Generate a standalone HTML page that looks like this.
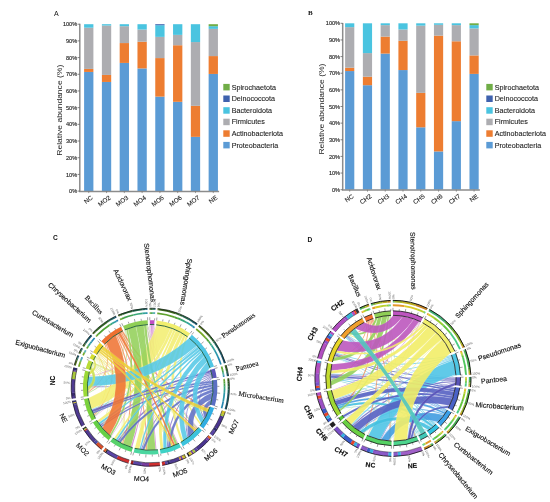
<!DOCTYPE html>
<html lang="en"><head><meta charset="utf-8"><title>Figure</title>
<style>html,body{margin:0;padding:0;background:#fff}svg{display:block}text{font-family:"Liberation Sans",Arial,sans-serif}text.serif{font-family:"Liberation Serif","Times New Roman",serif}</style>
</head><body>
<svg width="550" height="502" viewBox="0 0 550 502">
<rect width="550" height="502" fill="#fff"/>
<text x="56.4" y="15.8" font-size="7" text-anchor="middle" fill="#111">A</text>
<text class="serif" x="310.3" y="15.2" font-size="7" font-weight="bold" text-anchor="middle" fill="#111">B</text>
<text x="55.3" y="240.4" font-size="6.6" font-weight="bold" text-anchor="middle" fill="#111">C</text>
<text x="309.9" y="242.1" font-size="6.6" font-weight="bold" text-anchor="middle" fill="#111">D</text>
<g id="panelA">
<rect x="84.10" y="71.93" width="9.30" height="119.17" fill="#5b9bd5"/>
<rect x="84.10" y="68.93" width="9.30" height="3.00" fill="#ed7d31"/>
<rect x="84.10" y="27.70" width="9.30" height="41.22" fill="#adadb1"/>
<rect x="84.10" y="24.20" width="9.30" height="3.50" fill="#4ac4e0"/>
<rect x="101.89" y="81.95" width="9.30" height="109.15" fill="#5b9bd5"/>
<rect x="101.89" y="74.94" width="9.30" height="7.01" fill="#ed7d31"/>
<rect x="101.89" y="25.54" width="9.30" height="49.40" fill="#adadb1"/>
<rect x="101.89" y="24.20" width="9.30" height="1.34" fill="#4ac4e0"/>
<rect x="119.68" y="62.92" width="9.30" height="128.18" fill="#5b9bd5"/>
<rect x="119.68" y="43.06" width="9.30" height="19.86" fill="#ed7d31"/>
<rect x="119.68" y="26.20" width="9.30" height="16.86" fill="#adadb1"/>
<rect x="119.68" y="24.20" width="9.30" height="2.00" fill="#4ac4e0"/>
<rect x="137.47" y="68.43" width="9.30" height="122.67" fill="#5b9bd5"/>
<rect x="137.47" y="41.72" width="9.30" height="26.70" fill="#ed7d31"/>
<rect x="137.47" y="29.54" width="9.30" height="12.18" fill="#adadb1"/>
<rect x="137.47" y="24.20" width="9.30" height="5.34" fill="#4ac4e0"/>
<rect x="155.26" y="96.63" width="9.30" height="94.47" fill="#5b9bd5"/>
<rect x="155.26" y="58.08" width="9.30" height="38.55" fill="#ed7d31"/>
<rect x="155.26" y="36.88" width="9.30" height="21.20" fill="#adadb1"/>
<rect x="155.26" y="25.20" width="9.30" height="11.68" fill="#4ac4e0"/>
<rect x="155.26" y="24.20" width="9.30" height="1.00" fill="#3f62ae"/>
<rect x="173.05" y="101.81" width="9.30" height="89.29" fill="#5b9bd5"/>
<rect x="173.05" y="45.23" width="9.30" height="56.58" fill="#ed7d31"/>
<rect x="173.05" y="34.88" width="9.30" height="10.35" fill="#adadb1"/>
<rect x="173.05" y="24.20" width="9.30" height="10.68" fill="#4ac4e0"/>
<rect x="190.84" y="136.86" width="9.30" height="54.24" fill="#5b9bd5"/>
<rect x="190.84" y="105.81" width="9.30" height="31.04" fill="#ed7d31"/>
<rect x="190.84" y="42.06" width="9.30" height="63.76" fill="#adadb1"/>
<rect x="190.84" y="24.20" width="9.30" height="17.86" fill="#4ac4e0"/>
<rect x="208.63" y="73.94" width="9.30" height="117.16" fill="#5b9bd5"/>
<rect x="208.63" y="56.08" width="9.30" height="17.86" fill="#ed7d31"/>
<rect x="208.63" y="28.87" width="9.30" height="27.20" fill="#adadb1"/>
<rect x="208.63" y="26.20" width="9.30" height="2.67" fill="#4ac4e0"/>
<rect x="208.63" y="24.20" width="9.30" height="2.00" fill="#70ad47"/>
<path d="M79.80 23.80V191.40H219.13" fill="none" stroke="#8c8c8c" stroke-width="1.5"/>
<path d="M77.60 191.10H79.80" stroke="#666" stroke-width="0.8"/>
<text x="77.20" y="193.20" font-size="5.6" text-anchor="end" fill="#1c1c1c" stroke="#1c1c1c" stroke-width="0.12">0%</text>
<path d="M77.60 174.41H79.80" stroke="#666" stroke-width="0.8"/>
<text x="77.20" y="176.51" font-size="5.6" text-anchor="end" fill="#1c1c1c" stroke="#1c1c1c" stroke-width="0.12">10%</text>
<path d="M77.60 157.72H79.80" stroke="#666" stroke-width="0.8"/>
<text x="77.20" y="159.82" font-size="5.6" text-anchor="end" fill="#1c1c1c" stroke="#1c1c1c" stroke-width="0.12">20%</text>
<path d="M77.60 141.03H79.80" stroke="#666" stroke-width="0.8"/>
<text x="77.20" y="143.13" font-size="5.6" text-anchor="end" fill="#1c1c1c" stroke="#1c1c1c" stroke-width="0.12">30%</text>
<path d="M77.60 124.34H79.80" stroke="#666" stroke-width="0.8"/>
<text x="77.20" y="126.44" font-size="5.6" text-anchor="end" fill="#1c1c1c" stroke="#1c1c1c" stroke-width="0.12">40%</text>
<path d="M77.60 107.65H79.80" stroke="#666" stroke-width="0.8"/>
<text x="77.20" y="109.75" font-size="5.6" text-anchor="end" fill="#1c1c1c" stroke="#1c1c1c" stroke-width="0.12">50%</text>
<path d="M77.60 90.96H79.80" stroke="#666" stroke-width="0.8"/>
<text x="77.20" y="93.06" font-size="5.6" text-anchor="end" fill="#1c1c1c" stroke="#1c1c1c" stroke-width="0.12">60%</text>
<path d="M77.60 74.27H79.80" stroke="#666" stroke-width="0.8"/>
<text x="77.20" y="76.37" font-size="5.6" text-anchor="end" fill="#1c1c1c" stroke="#1c1c1c" stroke-width="0.12">70%</text>
<path d="M77.60 57.58H79.80" stroke="#666" stroke-width="0.8"/>
<text x="77.20" y="59.68" font-size="5.6" text-anchor="end" fill="#1c1c1c" stroke="#1c1c1c" stroke-width="0.12">80%</text>
<path d="M77.60 40.89H79.80" stroke="#666" stroke-width="0.8"/>
<text x="77.20" y="42.99" font-size="5.6" text-anchor="end" fill="#1c1c1c" stroke="#1c1c1c" stroke-width="0.12">90%</text>
<path d="M77.60 24.20H79.80" stroke="#666" stroke-width="0.8"/>
<text x="77.20" y="26.30" font-size="5.6" text-anchor="end" fill="#1c1c1c" stroke="#1c1c1c" stroke-width="0.12">100%</text>
<path d="M88.75 191.10v2" stroke="#777" stroke-width="0.7"/>
<text transform="translate(92.05 196.90) rotate(-36)" font-size="6.3" text-anchor="end" fill="#1c1c1c" stroke="#1c1c1c" stroke-width="0.1" dy="2.1">NC</text>
<path d="M106.54 191.10v2" stroke="#777" stroke-width="0.7"/>
<text transform="translate(109.84 196.90) rotate(-36)" font-size="6.3" text-anchor="end" fill="#1c1c1c" stroke="#1c1c1c" stroke-width="0.1" dy="2.1">MO2</text>
<path d="M124.33 191.10v2" stroke="#777" stroke-width="0.7"/>
<text transform="translate(127.63 196.90) rotate(-36)" font-size="6.3" text-anchor="end" fill="#1c1c1c" stroke="#1c1c1c" stroke-width="0.1" dy="2.1">MO3</text>
<path d="M142.12 191.10v2" stroke="#777" stroke-width="0.7"/>
<text transform="translate(145.42 196.90) rotate(-36)" font-size="6.3" text-anchor="end" fill="#1c1c1c" stroke="#1c1c1c" stroke-width="0.1" dy="2.1">MO4</text>
<path d="M159.91 191.10v2" stroke="#777" stroke-width="0.7"/>
<text transform="translate(163.21 196.90) rotate(-36)" font-size="6.3" text-anchor="end" fill="#1c1c1c" stroke="#1c1c1c" stroke-width="0.1" dy="2.1">MO5</text>
<path d="M177.70 191.10v2" stroke="#777" stroke-width="0.7"/>
<text transform="translate(181.00 196.90) rotate(-36)" font-size="6.3" text-anchor="end" fill="#1c1c1c" stroke="#1c1c1c" stroke-width="0.1" dy="2.1">MO6</text>
<path d="M195.49 191.10v2" stroke="#777" stroke-width="0.7"/>
<text transform="translate(198.79 196.90) rotate(-36)" font-size="6.3" text-anchor="end" fill="#1c1c1c" stroke="#1c1c1c" stroke-width="0.1" dy="2.1">MO7</text>
<path d="M213.28 191.10v2" stroke="#777" stroke-width="0.7"/>
<text transform="translate(216.58 196.90) rotate(-36)" font-size="6.3" text-anchor="end" fill="#1c1c1c" stroke="#1c1c1c" stroke-width="0.1" dy="2.1">NE</text>
<text transform="translate(59.30 110.25) rotate(-90)" font-size="6.6" text-anchor="middle" textLength="91" lengthAdjust="spacingAndGlyphs" fill="#222" dy="2.3">Relative abundance (%)</text>
<rect x="223.30" y="83.90" width="6.4" height="6.5" fill="#70ad47"/>
<text x="231.70" y="89.55" font-size="7.5" textLength="44.20" lengthAdjust="spacingAndGlyphs" fill="#1c1c1c" stroke="#1c1c1c" stroke-width="0.1">Spirochaetota</text>
<rect x="223.30" y="95.50" width="6.4" height="6.5" fill="#3f62ae"/>
<text x="231.70" y="101.15" font-size="7.5" textLength="43.40" lengthAdjust="spacingAndGlyphs" fill="#1c1c1c" stroke="#1c1c1c" stroke-width="0.1">Deinococcota</text>
<rect x="223.30" y="107.20" width="6.4" height="6.5" fill="#4ac4e0"/>
<text x="231.70" y="112.85" font-size="7.5" textLength="40.21" lengthAdjust="spacingAndGlyphs" fill="#1c1c1c" stroke="#1c1c1c" stroke-width="0.1">Bacteroidota</text>
<rect x="223.30" y="118.70" width="6.4" height="6.5" fill="#adadb1"/>
<text x="231.70" y="124.35" font-size="7.5" textLength="33.03" lengthAdjust="spacingAndGlyphs" fill="#1c1c1c" stroke="#1c1c1c" stroke-width="0.1">Firmicutes</text>
<rect x="223.30" y="130.30" width="6.4" height="6.5" fill="#ed7d31"/>
<text x="231.70" y="135.95" font-size="7.5" textLength="51.36" lengthAdjust="spacingAndGlyphs" fill="#1c1c1c" stroke="#1c1c1c" stroke-width="0.1">Actinobacteriota</text>
<rect x="223.30" y="141.90" width="6.4" height="6.5" fill="#5b9bd5"/>
<text x="231.70" y="147.55" font-size="7.5" textLength="46.58" lengthAdjust="spacingAndGlyphs" fill="#1c1c1c" stroke="#1c1c1c" stroke-width="0.1">Proteobacteria</text>
</g>
<g id="panelB">
<rect x="345.10" y="71.06" width="9.20" height="118.64" fill="#5b9bd5"/>
<rect x="345.10" y="67.73" width="9.20" height="3.33" fill="#ed7d31"/>
<rect x="345.10" y="27.13" width="9.20" height="40.60" fill="#adadb1"/>
<rect x="345.10" y="23.30" width="9.20" height="3.83" fill="#4ac4e0"/>
<rect x="362.87" y="85.20" width="9.20" height="104.50" fill="#5b9bd5"/>
<rect x="362.87" y="76.71" width="9.20" height="8.49" fill="#ed7d31"/>
<rect x="362.87" y="53.09" width="9.20" height="23.63" fill="#adadb1"/>
<rect x="362.87" y="23.30" width="9.20" height="29.79" fill="#4ac4e0"/>
<rect x="380.64" y="53.58" width="9.20" height="136.12" fill="#5b9bd5"/>
<rect x="380.64" y="36.61" width="9.20" height="16.97" fill="#ed7d31"/>
<rect x="380.64" y="25.13" width="9.20" height="11.48" fill="#adadb1"/>
<rect x="380.64" y="23.30" width="9.20" height="1.83" fill="#4ac4e0"/>
<rect x="398.41" y="70.06" width="9.20" height="119.64" fill="#5b9bd5"/>
<rect x="398.41" y="40.77" width="9.20" height="29.29" fill="#ed7d31"/>
<rect x="398.41" y="29.46" width="9.20" height="11.32" fill="#adadb1"/>
<rect x="398.41" y="23.30" width="9.20" height="6.16" fill="#4ac4e0"/>
<rect x="416.18" y="127.30" width="9.20" height="62.40" fill="#5b9bd5"/>
<rect x="416.18" y="92.86" width="9.20" height="34.44" fill="#ed7d31"/>
<rect x="416.18" y="25.63" width="9.20" height="67.23" fill="#adadb1"/>
<rect x="416.18" y="23.30" width="9.20" height="2.33" fill="#4ac4e0"/>
<rect x="433.95" y="151.43" width="9.20" height="38.27" fill="#5b9bd5"/>
<rect x="433.95" y="35.61" width="9.20" height="115.81" fill="#ed7d31"/>
<rect x="433.95" y="24.80" width="9.20" height="10.82" fill="#adadb1"/>
<rect x="433.95" y="23.30" width="9.20" height="1.50" fill="#4ac4e0"/>
<rect x="451.72" y="121.14" width="9.20" height="68.56" fill="#5b9bd5"/>
<rect x="451.72" y="41.27" width="9.20" height="79.87" fill="#ed7d31"/>
<rect x="451.72" y="25.13" width="9.20" height="16.14" fill="#adadb1"/>
<rect x="451.72" y="23.30" width="9.20" height="1.83" fill="#4ac4e0"/>
<rect x="469.49" y="73.89" width="9.20" height="115.81" fill="#5b9bd5"/>
<rect x="469.49" y="55.42" width="9.20" height="18.47" fill="#ed7d31"/>
<rect x="469.49" y="28.46" width="9.20" height="26.96" fill="#adadb1"/>
<rect x="469.49" y="25.13" width="9.20" height="3.33" fill="#4ac4e0"/>
<rect x="469.49" y="23.30" width="9.20" height="1.83" fill="#70ad47"/>
<path d="M342.70 22.90V190.00H479.89" fill="none" stroke="#8c8c8c" stroke-width="1.5"/>
<path d="M340.50 189.70H342.70" stroke="#666" stroke-width="0.8"/>
<text x="340.10" y="191.80" font-size="5.6" text-anchor="end" fill="#1c1c1c" stroke="#1c1c1c" stroke-width="0.12">0%</text>
<path d="M340.50 173.06H342.70" stroke="#666" stroke-width="0.8"/>
<text x="340.10" y="175.16" font-size="5.6" text-anchor="end" fill="#1c1c1c" stroke="#1c1c1c" stroke-width="0.12">10%</text>
<path d="M340.50 156.42H342.70" stroke="#666" stroke-width="0.8"/>
<text x="340.10" y="158.52" font-size="5.6" text-anchor="end" fill="#1c1c1c" stroke="#1c1c1c" stroke-width="0.12">20%</text>
<path d="M340.50 139.78H342.70" stroke="#666" stroke-width="0.8"/>
<text x="340.10" y="141.88" font-size="5.6" text-anchor="end" fill="#1c1c1c" stroke="#1c1c1c" stroke-width="0.12">30%</text>
<path d="M340.50 123.14H342.70" stroke="#666" stroke-width="0.8"/>
<text x="340.10" y="125.24" font-size="5.6" text-anchor="end" fill="#1c1c1c" stroke="#1c1c1c" stroke-width="0.12">40%</text>
<path d="M340.50 106.50H342.70" stroke="#666" stroke-width="0.8"/>
<text x="340.10" y="108.60" font-size="5.6" text-anchor="end" fill="#1c1c1c" stroke="#1c1c1c" stroke-width="0.12">50%</text>
<path d="M340.50 89.86H342.70" stroke="#666" stroke-width="0.8"/>
<text x="340.10" y="91.96" font-size="5.6" text-anchor="end" fill="#1c1c1c" stroke="#1c1c1c" stroke-width="0.12">60%</text>
<path d="M340.50 73.22H342.70" stroke="#666" stroke-width="0.8"/>
<text x="340.10" y="75.32" font-size="5.6" text-anchor="end" fill="#1c1c1c" stroke="#1c1c1c" stroke-width="0.12">70%</text>
<path d="M340.50 56.58H342.70" stroke="#666" stroke-width="0.8"/>
<text x="340.10" y="58.68" font-size="5.6" text-anchor="end" fill="#1c1c1c" stroke="#1c1c1c" stroke-width="0.12">80%</text>
<path d="M340.50 39.94H342.70" stroke="#666" stroke-width="0.8"/>
<text x="340.10" y="42.04" font-size="5.6" text-anchor="end" fill="#1c1c1c" stroke="#1c1c1c" stroke-width="0.12">90%</text>
<path d="M340.50 23.30H342.70" stroke="#666" stroke-width="0.8"/>
<text x="340.10" y="25.40" font-size="5.6" text-anchor="end" fill="#1c1c1c" stroke="#1c1c1c" stroke-width="0.12">100%</text>
<path d="M349.70 189.70v2" stroke="#777" stroke-width="0.7"/>
<text transform="translate(353.00 195.50) rotate(-36)" font-size="6.3" text-anchor="end" fill="#1c1c1c" stroke="#1c1c1c" stroke-width="0.1" dy="2.1">NC</text>
<path d="M367.47 189.70v2" stroke="#777" stroke-width="0.7"/>
<text transform="translate(370.77 195.50) rotate(-36)" font-size="6.3" text-anchor="end" fill="#1c1c1c" stroke="#1c1c1c" stroke-width="0.1" dy="2.1">CH2</text>
<path d="M385.24 189.70v2" stroke="#777" stroke-width="0.7"/>
<text transform="translate(388.54 195.50) rotate(-36)" font-size="6.3" text-anchor="end" fill="#1c1c1c" stroke="#1c1c1c" stroke-width="0.1" dy="2.1">CH3</text>
<path d="M403.01 189.70v2" stroke="#777" stroke-width="0.7"/>
<text transform="translate(406.31 195.50) rotate(-36)" font-size="6.3" text-anchor="end" fill="#1c1c1c" stroke="#1c1c1c" stroke-width="0.1" dy="2.1">CH4</text>
<path d="M420.78 189.70v2" stroke="#777" stroke-width="0.7"/>
<text transform="translate(424.08 195.50) rotate(-36)" font-size="6.3" text-anchor="end" fill="#1c1c1c" stroke="#1c1c1c" stroke-width="0.1" dy="2.1">CH5</text>
<path d="M438.55 189.70v2" stroke="#777" stroke-width="0.7"/>
<text transform="translate(441.85 195.50) rotate(-36)" font-size="6.3" text-anchor="end" fill="#1c1c1c" stroke="#1c1c1c" stroke-width="0.1" dy="2.1">CH6</text>
<path d="M456.32 189.70v2" stroke="#777" stroke-width="0.7"/>
<text transform="translate(459.62 195.50) rotate(-36)" font-size="6.3" text-anchor="end" fill="#1c1c1c" stroke="#1c1c1c" stroke-width="0.1" dy="2.1">CH7</text>
<path d="M474.09 189.70v2" stroke="#777" stroke-width="0.7"/>
<text transform="translate(477.39 195.50) rotate(-36)" font-size="6.3" text-anchor="end" fill="#1c1c1c" stroke="#1c1c1c" stroke-width="0.1" dy="2.1">NE</text>
<text transform="translate(321.50 109.10) rotate(-90)" font-size="6.6" text-anchor="middle" textLength="91" lengthAdjust="spacingAndGlyphs" fill="#222" dy="2.3">Relative abundance (%)</text>
<rect x="486.30" y="83.90" width="6.4" height="6.5" fill="#70ad47"/>
<text x="494.70" y="89.55" font-size="7.5" textLength="44.20" lengthAdjust="spacingAndGlyphs" fill="#1c1c1c" stroke="#1c1c1c" stroke-width="0.1">Spirochaetota</text>
<rect x="486.30" y="95.50" width="6.4" height="6.5" fill="#3f62ae"/>
<text x="494.70" y="101.15" font-size="7.5" textLength="43.40" lengthAdjust="spacingAndGlyphs" fill="#1c1c1c" stroke="#1c1c1c" stroke-width="0.1">Deinococcota</text>
<rect x="486.30" y="107.20" width="6.4" height="6.5" fill="#4ac4e0"/>
<text x="494.70" y="112.85" font-size="7.5" textLength="40.21" lengthAdjust="spacingAndGlyphs" fill="#1c1c1c" stroke="#1c1c1c" stroke-width="0.1">Bacteroidota</text>
<rect x="486.30" y="118.70" width="6.4" height="6.5" fill="#adadb1"/>
<text x="494.70" y="124.35" font-size="7.5" textLength="33.03" lengthAdjust="spacingAndGlyphs" fill="#1c1c1c" stroke="#1c1c1c" stroke-width="0.1">Firmicutes</text>
<rect x="486.30" y="130.30" width="6.4" height="6.5" fill="#ed7d31"/>
<text x="494.70" y="135.95" font-size="7.5" textLength="51.36" lengthAdjust="spacingAndGlyphs" fill="#1c1c1c" stroke="#1c1c1c" stroke-width="0.1">Actinobacteriota</text>
<rect x="486.30" y="141.90" width="6.4" height="6.5" fill="#5b9bd5"/>
<text x="494.70" y="147.55" font-size="7.5" textLength="46.58" lengthAdjust="spacingAndGlyphs" fill="#1c1c1c" stroke="#1c1c1c" stroke-width="0.1">Proteobacteria</text>
</g>
<g id="panelC">
<g>
<path d="M156.35 324.70A63.00 63.00 0 0 1 156.86 324.75Q137.73 370.90 88.12 376.70A63.00 63.00 0 0 1 88.20 376.20Q137.41 370.48 156.35 324.70Z" fill="#f3ee72" fill-opacity="0.7040000000000001" stroke="#fff" stroke-width="0.18" stroke-opacity="0.6"/>
<path d="M146.40 324.51A63.00 63.00 0 0 1 147.28 324.47Q155.14 384.99 198.00 428.44A63.00 63.00 0 0 1 197.39 429.14Q154.43 385.34 146.40 324.51Z" fill="#93d05a" fill-opacity="0.7040000000000001" stroke="#fff" stroke-width="0.18" stroke-opacity="0.6"/>
<path d="M125.39 329.49A63.00 63.00 0 0 1 126.20 329.15Q134.08 381.54 94.41 416.66A63.00 63.00 0 0 1 94.04 415.95Q133.26 381.26 125.39 329.49Z" fill="#93d05a" fill-opacity="0.7040000000000001" stroke="#fff" stroke-width="0.18" stroke-opacity="0.6"/>
<path d="M124.78 329.76A63.00 63.00 0 0 1 125.39 329.49Q127.56 374.10 87.54 393.90A63.00 63.00 0 0 1 87.46 393.14Q126.94 373.71 124.78 329.76Z" fill="#93d05a" fill-opacity="0.7040000000000001" stroke="#fff" stroke-width="0.18" stroke-opacity="0.6"/>
<path d="M147.28 324.47A63.00 63.00 0 0 1 147.73 324.45Q159.76 380.24 209.92 407.46A63.00 63.00 0 0 1 209.79 407.85Q159.41 380.50 147.28 324.47Z" fill="#93d05a" fill-opacity="0.7040000000000001" stroke="#fff" stroke-width="0.18" stroke-opacity="0.6"/>
<path d="M212.81 380.38A63.00 63.00 0 0 1 212.86 380.83Q150.20 387.45 87.20 387.56A63.00 63.00 0 0 1 87.20 387.06Q150.20 387.35 212.81 380.38Z" fill="#5f70c6" fill-opacity="0.7040000000000001" stroke="#fff" stroke-width="0.18" stroke-opacity="0.6"/>
<path d="M211.33 372.17A63.00 63.00 0 0 1 211.63 373.43Q150.69 388.44 100.53 426.16A63.00 63.00 0 0 1 99.46 424.74Q150.37 387.75 211.33 372.17Z" fill="#5c58bc" fill-opacity="0.7040000000000001" stroke="#fff" stroke-width="0.18" stroke-opacity="0.6"/>
<path d="M211.63 373.43A63.00 63.00 0 0 1 211.90 374.69Q153.69 392.26 118.44 441.81A63.00 63.00 0 0 1 116.93 440.90Q152.88 391.17 211.63 373.43Z" fill="#5c58bc" fill-opacity="0.7040000000000001" stroke="#fff" stroke-width="0.18" stroke-opacity="0.6"/>
<path d="M212.06 375.48A63.00 63.00 0 0 1 212.24 376.44Q168.82 398.98 167.82 447.89A63.00 63.00 0 0 1 166.61 448.23Q167.82 398.41 212.06 375.48Z" fill="#5c58bc" fill-opacity="0.7040000000000001" stroke="#fff" stroke-width="0.18" stroke-opacity="0.6"/>
<path d="M212.37 377.24A63.00 63.00 0 0 1 212.52 378.20Q191.93 395.31 204.83 418.78A63.00 63.00 0 0 1 204.20 419.85Q190.79 395.19 212.37 377.24Z" fill="#5c58bc" fill-opacity="0.7040000000000001" stroke="#fff" stroke-width="0.18" stroke-opacity="0.6"/>
<path d="M211.90 374.69A63.00 63.00 0 0 1 212.06 375.48Q159.52 396.20 141.84 449.84A63.00 63.00 0 0 1 140.68 449.68Q158.76 395.53 211.90 374.69Z" fill="#5c58bc" fill-opacity="0.7040000000000001" stroke="#fff" stroke-width="0.18" stroke-opacity="0.6"/>
<path d="M212.24 376.44A63.00 63.00 0 0 1 212.37 377.24Q179.18 398.93 188.40 437.50A63.00 63.00 0 0 1 187.47 438.19Q178.21 398.63 212.24 376.44Z" fill="#5c58bc" fill-opacity="0.7040000000000001" stroke="#fff" stroke-width="0.18" stroke-opacity="0.6"/>
<path d="M210.70 369.82A63.00 63.00 0 0 1 210.83 370.29Q150.21 387.45 87.20 387.06A63.00 63.00 0 0 1 87.21 386.29Q150.18 387.22 210.70 369.82Z" fill="#5c58bc" fill-opacity="0.7040000000000001" stroke="#fff" stroke-width="0.18" stroke-opacity="0.6"/>
<path d="M197.25 345.50A63.00 63.00 0 0 1 198.19 346.59Q150.15 387.31 91.43 410.10A63.00 63.00 0 0 1 91.08 409.16Q149.87 386.85 197.25 345.50Z" fill="#55c8e6" fill-opacity="0.7040000000000001" stroke="#fff" stroke-width="0.18" stroke-opacity="0.6"/>
<path d="M92.02 363.23A63.00 63.00 0 0 1 92.51 362.08Q150.23 387.34 207.74 413.06A63.00 63.00 0 0 1 207.31 414.00Q150.17 387.46 92.02 363.23Z" fill="#c6df4c" fill-opacity="0.7040000000000001" stroke="#fff" stroke-width="0.18" stroke-opacity="0.6"/>
<path d="M91.10 365.57A63.00 63.00 0 0 1 91.28 365.10Q118.94 392.64 101.79 427.71A63.00 63.00 0 0 1 101.50 427.37Q118.46 392.74 91.10 365.57Z" fill="#c6df4c" fill-opacity="0.7040000000000001" stroke="#fff" stroke-width="0.18" stroke-opacity="0.6"/>
<path d="M91.28 365.10A63.00 63.00 0 0 1 91.46 364.63Q129.71 395.05 120.76 443.10A63.00 63.00 0 0 1 120.37 442.89Q129.26 395.23 91.28 365.10Z" fill="#c6df4c" fill-opacity="0.7040000000000001" stroke="#fff" stroke-width="0.18" stroke-opacity="0.6"/>
<path d="M91.46 364.63A63.00 63.00 0 0 1 91.64 364.16Q138.98 394.31 144.62 450.15A63.00 63.00 0 0 1 144.15 450.11Q138.56 394.58 91.46 364.63Z" fill="#c6df4c" fill-opacity="0.7040000000000001" stroke="#fff" stroke-width="0.18" stroke-opacity="0.6"/>
<path d="M91.64 364.16A63.00 63.00 0 0 1 91.83 363.69Q146.08 391.32 171.01 446.86A63.00 63.00 0 0 1 170.61 447.00Q145.77 391.62 91.64 364.16Z" fill="#c6df4c" fill-opacity="0.7040000000000001" stroke="#fff" stroke-width="0.18" stroke-opacity="0.6"/>
<path d="M91.83 363.69A63.00 63.00 0 0 1 92.02 363.23Q149.86 387.90 194.35 432.34A63.00 63.00 0 0 1 194.02 432.66Q149.73 388.10 91.83 363.69Z" fill="#c6df4c" fill-opacity="0.7040000000000001" stroke="#fff" stroke-width="0.18" stroke-opacity="0.6"/>
<path d="M91.02 365.80A63.00 63.00 0 0 1 91.10 365.57Q111.28 388.99 93.08 413.97A63.00 63.00 0 0 1 92.99 413.79Q111.05 389.01 91.02 365.80Z" fill="#c6df4c" fill-opacity="0.7040000000000001" stroke="#fff" stroke-width="0.18" stroke-opacity="0.6"/>
<path d="M94.79 357.43A63.00 63.00 0 0 1 95.03 356.98Q147.29 389.89 171.80 446.58A63.00 63.00 0 0 1 171.01 446.86Q146.87 390.23 94.79 357.43Z" fill="#dbe04a" fill-opacity="0.7040000000000001" stroke="#fff" stroke-width="0.18" stroke-opacity="0.6"/>
<path d="M95.03 356.98A63.00 63.00 0 0 1 95.28 356.52Q150.26 387.32 195.01 431.68A63.00 63.00 0 0 1 194.35 432.34Q150.10 387.53 95.03 356.98Z" fill="#dbe04a" fill-opacity="0.7040000000000001" stroke="#fff" stroke-width="0.18" stroke-opacity="0.6"/>
<path d="M94.42 358.11A63.00 63.00 0 0 1 94.60 357.77Q132.15 393.04 121.35 443.41A63.00 63.00 0 0 1 120.76 443.10Q131.62 393.16 94.42 358.11Z" fill="#dbe04a" fill-opacity="0.7040000000000001" stroke="#fff" stroke-width="0.18" stroke-opacity="0.6"/>
<path d="M94.60 357.77A63.00 63.00 0 0 1 94.79 357.43Q140.79 392.53 145.31 450.21A63.00 63.00 0 0 1 144.62 450.15Q140.28 392.77 94.60 357.77Z" fill="#dbe04a" fill-opacity="0.7040000000000001" stroke="#fff" stroke-width="0.18" stroke-opacity="0.6"/>
<path d="M95.28 356.52A63.00 63.00 0 0 1 95.48 356.19Q150.22 387.36 207.99 412.49A63.00 63.00 0 0 1 207.74 413.06Q150.18 387.44 95.28 356.52Z" fill="#dbe04a" fill-opacity="0.7040000000000001" stroke="#fff" stroke-width="0.18" stroke-opacity="0.6"/>
<path d="M94.36 358.23A63.00 63.00 0 0 1 94.42 358.11Q121.85 390.45 101.93 427.88A63.00 63.00 0 0 1 101.79 427.71Q121.67 390.45 94.36 358.23Z" fill="#dbe04a" fill-opacity="0.7040000000000001" stroke="#fff" stroke-width="0.18" stroke-opacity="0.6"/>
<path d="M94.30 358.34A63.00 63.00 0 0 1 94.36 358.23Q114.85 386.64 93.16 414.15A63.00 63.00 0 0 1 93.08 413.97Q114.68 386.62 94.30 358.34Z" fill="#dbe04a" fill-opacity="0.7040000000000001" stroke="#fff" stroke-width="0.18" stroke-opacity="0.6"/>
<path d="M121.35 331.39A63.00 63.00 0 0 1 122.78 330.68Q153.67 383.49 209.79 407.85A63.00 63.00 0 0 1 209.37 409.02Q152.87 384.37 121.35 331.39Z" fill="#ef7434" fill-opacity="0.7040000000000001" stroke="#fff" stroke-width="0.18" stroke-opacity="0.6"/>
<path d="M115.61 334.74A63.00 63.00 0 0 1 116.73 334.02Q142.21 387.85 122.93 444.19A63.00 63.00 0 0 1 121.94 443.71Q140.96 387.94 115.61 334.74Z" fill="#ef7434" fill-opacity="0.7040000000000001" stroke="#fff" stroke-width="0.18" stroke-opacity="0.6"/>
<path d="M116.73 334.02A63.00 63.00 0 0 1 117.87 333.33Q148.08 387.93 147.18 450.33A63.00 63.00 0 0 1 146.01 450.26Q147.25 388.14 116.73 334.02Z" fill="#ef7434" fill-opacity="0.7040000000000001" stroke="#fff" stroke-width="0.18" stroke-opacity="0.6"/>
<path d="M120.18 332.01A63.00 63.00 0 0 1 121.35 331.39Q150.68 387.02 197.39 429.14A63.00 63.00 0 0 1 196.61 430.00Q150.26 387.35 120.18 332.01Z" fill="#ef7434" fill-opacity="0.7040000000000001" stroke="#fff" stroke-width="0.18" stroke-opacity="0.6"/>
<path d="M105.16 343.35A63.00 63.00 0 0 1 106.10 342.41Q124.26 383.15 94.04 415.95A63.00 63.00 0 0 1 93.59 415.05Q123.06 383.02 105.16 343.35Z" fill="#ef7434" fill-opacity="0.7040000000000001" stroke="#fff" stroke-width="0.18" stroke-opacity="0.6"/>
<path d="M104.43 344.11A63.00 63.00 0 0 1 105.16 343.35Q115.56 375.08 87.46 393.14A63.00 63.00 0 0 1 87.38 392.13Q114.54 374.74 104.43 344.11Z" fill="#ef7434" fill-opacity="0.7040000000000001" stroke="#fff" stroke-width="0.18" stroke-opacity="0.6"/>
<path d="M96.82 353.94A63.00 63.00 0 0 1 97.38 353.06Q117.95 385.43 93.59 415.05A63.00 63.00 0 0 1 93.16 414.15Q116.90 385.38 96.82 353.94Z" fill="#ecd036" fill-opacity="0.7040000000000001" stroke="#fff" stroke-width="0.18" stroke-opacity="0.6"/>
<path d="M97.61 352.71A63.00 63.00 0 0 1 97.96 352.19Q134.31 391.56 121.94 443.71A63.00 63.00 0 0 1 121.35 443.41Q133.66 391.73 97.61 352.71Z" fill="#ecd036" fill-opacity="0.7040000000000001" stroke="#fff" stroke-width="0.18" stroke-opacity="0.6"/>
<path d="M97.96 352.19A63.00 63.00 0 0 1 98.31 351.67Q142.47 391.14 146.01 450.26A63.00 63.00 0 0 1 145.31 450.21Q141.85 391.43 97.96 352.19Z" fill="#ecd036" fill-opacity="0.7040000000000001" stroke="#fff" stroke-width="0.18" stroke-opacity="0.6"/>
<path d="M97.38 353.06A63.00 63.00 0 0 1 97.61 352.71Q124.41 388.97 102.21 428.22A63.00 63.00 0 0 1 101.93 427.88Q123.97 388.99 97.38 353.06Z" fill="#ecd036" fill-opacity="0.7040000000000001" stroke="#fff" stroke-width="0.18" stroke-opacity="0.6"/>
<path d="M96.60 354.30A63.00 63.00 0 0 1 96.82 353.94Q108.14 377.00 87.38 392.13A63.00 63.00 0 0 1 87.34 391.62Q107.68 376.86 96.60 354.30Z" fill="#ecd036" fill-opacity="0.7040000000000001" stroke="#fff" stroke-width="0.18" stroke-opacity="0.6"/>
<path d="M151.03 324.41A63.00 63.00 0 0 1 152.13 324.43Q150.38 387.43 131.99 447.71A63.00 63.00 0 0 1 130.72 447.31Q149.95 387.36 151.03 324.41Z" fill="#c25ac6" fill-opacity="0.7040000000000001" stroke="#fff" stroke-width="0.18" stroke-opacity="0.6"/>
<path d="M152.87 324.46A63.00 63.00 0 0 1 153.60 324.49Q151.93 387.04 178.34 443.77A63.00 63.00 0 0 1 177.59 444.14Q151.49 387.13 152.87 324.46Z" fill="#c25ac6" fill-opacity="0.7040000000000001" stroke="#fff" stroke-width="0.18" stroke-opacity="0.6"/>
<path d="M152.13 324.43A63.00 63.00 0 0 1 152.87 324.46Q150.29 387.40 156.49 450.09A63.00 63.00 0 0 1 155.56 450.17Q150.11 387.40 152.13 324.43Z" fill="#c25ac6" fill-opacity="0.7040000000000001" stroke="#fff" stroke-width="0.18" stroke-opacity="0.6"/>
<path d="M153.60 324.49A63.00 63.00 0 0 1 153.97 324.51Q156.75 384.60 198.30 428.09A63.00 63.00 0 0 1 198.00 428.44Q156.37 384.77 153.60 324.49Z" fill="#c25ac6" fill-opacity="0.7040000000000001" stroke="#fff" stroke-width="0.18" stroke-opacity="0.6"/>
<path d="M150.66 324.40A63.00 63.00 0 0 1 151.03 324.41Q147.27 386.36 111.15 436.84A63.00 63.00 0 0 1 110.81 436.56Q146.99 386.26 150.66 324.40Z" fill="#c25ac6" fill-opacity="0.7040000000000001" stroke="#fff" stroke-width="0.18" stroke-opacity="0.6"/>
<path d="M149.93 324.40A63.00 63.00 0 0 1 150.29 324.40Q135.28 369.51 88.20 376.20A63.00 63.00 0 0 1 88.30 375.70Q135.01 369.15 149.93 324.40Z" fill="#c25ac6" fill-opacity="0.7040000000000001" stroke="#fff" stroke-width="0.18" stroke-opacity="0.6"/>
<path d="M150.29 324.40A63.00 63.00 0 0 1 150.66 324.40Q142.21 382.56 94.60 417.02A63.00 63.00 0 0 1 94.41 416.66Q141.87 382.35 150.29 324.40Z" fill="#c25ac6" fill-opacity="0.7040000000000001" stroke="#fff" stroke-width="0.18" stroke-opacity="0.6"/>
<path d="M153.97 324.51A63.00 63.00 0 0 1 154.16 324.52Q161.75 379.61 209.99 407.26A63.00 63.00 0 0 1 209.92 407.46Q161.58 379.72 153.97 324.51Z" fill="#c25ac6" fill-opacity="0.7040000000000001" stroke="#fff" stroke-width="0.18" stroke-opacity="0.6"/>
<path d="M156.86 324.75A63.00 63.00 0 0 1 170.85 327.88Q148.01 385.25 91.08 409.16A63.00 63.00 0 0 1 88.16 398.34Q138.31 376.30 156.86 324.75Z" fill="#f3ee72" fill-opacity="0.88" stroke="#fff" stroke-width="0.18" stroke-opacity="0.6"/>
<path d="M176.09 329.97A63.00 63.00 0 0 1 180.68 332.26Q150.97 387.67 139.30 449.45A63.00 63.00 0 0 1 134.75 448.48Q149.42 387.13 176.09 329.97Z" fill="#f3ee72" fill-opacity="0.88" stroke="#fff" stroke-width="0.18" stroke-opacity="0.6"/>
<path d="M180.68 332.26A63.00 63.00 0 0 1 183.77 334.09Q155.42 388.33 163.35 449.01A63.00 63.00 0 0 1 160.47 449.56Q152.87 387.86 180.68 332.26Z" fill="#f3ee72" fill-opacity="0.88" stroke="#fff" stroke-width="0.18" stroke-opacity="0.6"/>
<path d="M170.85 327.88A63.00 63.00 0 0 1 173.73 328.96Q148.74 386.23 98.30 423.11A63.00 63.00 0 0 1 96.83 420.88Q147.14 384.97 170.85 327.88Z" fill="#f3ee72" fill-opacity="0.88" stroke="#fff" stroke-width="0.18" stroke-opacity="0.6"/>
<path d="M183.77 334.09A63.00 63.00 0 0 1 185.91 335.50Q161.63 387.69 183.24 441.04A63.00 63.00 0 0 1 181.24 442.22Q159.12 387.61 183.77 334.09Z" fill="#f3ee72" fill-opacity="0.88" stroke="#fff" stroke-width="0.18" stroke-opacity="0.6"/>
<path d="M173.73 328.96A63.00 63.00 0 0 1 176.09 329.97Q150.49 387.56 115.44 439.94A63.00 63.00 0 0 1 113.62 438.69Q149.90 387.24 173.73 328.96Z" fill="#f3ee72" fill-opacity="0.88" stroke="#fff" stroke-width="0.18" stroke-opacity="0.6"/>
<path d="M185.91 335.50A63.00 63.00 0 0 1 187.59 336.69Q169.90 384.27 201.47 424.01A63.00 63.00 0 0 1 200.49 425.34Q168.00 384.51 185.91 335.50Z" fill="#f3ee72" fill-opacity="0.88" stroke="#fff" stroke-width="0.18" stroke-opacity="0.6"/>
<path d="M127.85 328.50A63.00 63.00 0 0 1 135.89 326.05Q149.92 387.39 130.72 447.31A63.00 63.00 0 0 1 122.93 444.19Q143.60 387.12 127.85 328.50Z" fill="#93d05a" fill-opacity="0.88" stroke="#fff" stroke-width="0.18" stroke-opacity="0.6"/>
<path d="M135.89 326.05A63.00 63.00 0 0 1 143.75 324.73Q151.14 387.31 155.56 450.17A63.00 63.00 0 0 1 147.18 450.33Q149.26 387.49 135.89 326.05Z" fill="#93d05a" fill-opacity="0.88" stroke="#fff" stroke-width="0.18" stroke-opacity="0.6"/>
<path d="M143.75 324.73A63.00 63.00 0 0 1 146.40 324.51Q151.05 387.18 177.59 444.14A63.00 63.00 0 0 1 175.30 445.18Q149.98 387.46 143.75 324.73Z" fill="#93d05a" fill-opacity="0.88" stroke="#fff" stroke-width="0.18" stroke-opacity="0.6"/>
<path d="M126.20 329.15A63.00 63.00 0 0 1 127.85 328.50Q141.91 386.09 110.81 436.56A63.00 63.00 0 0 1 109.44 435.43Q140.11 385.81 126.20 329.15Z" fill="#93d05a" fill-opacity="0.88" stroke="#fff" stroke-width="0.18" stroke-opacity="0.6"/>
<path d="M213.04 391.88A63.00 63.00 0 0 1 212.11 399.05Q189.26 408.42 194.02 432.66A63.00 63.00 0 0 1 188.40 437.50Q182.58 404.89 213.04 391.88Z" fill="#5f70c6" fill-opacity="0.88" stroke="#fff" stroke-width="0.18" stroke-opacity="0.6"/>
<path d="M212.11 399.05A63.00 63.00 0 0 1 210.76 404.77Q204.54 407.70 207.31 414.00A63.00 63.00 0 0 1 204.83 418.78Q199.17 405.48 212.11 399.05Z" fill="#5f70c6" fill-opacity="0.88" stroke="#fff" stroke-width="0.18" stroke-opacity="0.6"/>
<path d="M213.19 388.72A63.00 63.00 0 0 1 213.04 391.88Q173.33 405.20 170.61 447.00A63.00 63.00 0 0 1 167.82 447.89Q170.87 403.25 213.19 388.72Z" fill="#5f70c6" fill-opacity="0.88" stroke="#fff" stroke-width="0.18" stroke-opacity="0.6"/>
<path d="M213.12 384.21A63.00 63.00 0 0 1 213.19 386.46Q155.28 395.76 120.37 442.89A63.00 63.00 0 0 1 118.44 441.81Q154.09 393.79 213.12 384.21Z" fill="#5f70c6" fill-opacity="0.88" stroke="#fff" stroke-width="0.18" stroke-opacity="0.6"/>
<path d="M213.19 386.46A63.00 63.00 0 0 1 213.19 388.72Q162.21 400.91 144.15 450.11A63.00 63.00 0 0 1 141.84 449.84Q160.63 399.14 213.19 386.46Z" fill="#5f70c6" fill-opacity="0.88" stroke="#fff" stroke-width="0.18" stroke-opacity="0.6"/>
<path d="M212.86 380.83A63.00 63.00 0 0 1 213.02 382.63Q150.34 387.96 92.99 413.79A63.00 63.00 0 0 1 92.34 412.32Q150.17 387.28 212.86 380.83Z" fill="#5f70c6" fill-opacity="0.88" stroke="#fff" stroke-width="0.18" stroke-opacity="0.6"/>
<path d="M213.02 382.63A63.00 63.00 0 0 1 213.12 384.21Q151.36 390.39 101.50 427.37A63.00 63.00 0 0 1 100.53 426.16Q150.97 389.38 213.02 382.63Z" fill="#5f70c6" fill-opacity="0.88" stroke="#fff" stroke-width="0.18" stroke-opacity="0.6"/>
<path d="M210.83 370.29A63.00 63.00 0 0 1 211.33 372.17Q150.27 387.62 92.34 412.32A63.00 63.00 0 0 1 91.43 410.10Q150.13 387.18 210.83 370.29Z" fill="#5c58bc" fill-opacity="0.88" stroke="#fff" stroke-width="0.18" stroke-opacity="0.6"/>
<path d="M189.33 338.03A63.00 63.00 0 0 1 197.25 345.50Q149.62 385.84 87.21 386.29A63.00 63.00 0 0 1 88.12 376.70Q146.01 376.44 189.33 338.03Z" fill="#55c8e6" fill-opacity="0.88" stroke="#fff" stroke-width="0.18" stroke-opacity="0.6"/>
<path d="M207.54 361.31A63.00 63.00 0 0 1 210.05 367.72Q187.51 391.59 204.20 419.85A63.00 63.00 0 0 1 201.47 424.01Q181.48 390.43 207.54 361.31Z" fill="#55c8e6" fill-opacity="0.88" stroke="#fff" stroke-width="0.18" stroke-opacity="0.6"/>
<path d="M204.65 355.71A63.00 63.00 0 0 1 207.54 361.31Q174.25 393.68 187.47 438.19A63.00 63.00 0 0 1 183.24 441.04Q168.60 392.02 204.65 355.71Z" fill="#55c8e6" fill-opacity="0.88" stroke="#fff" stroke-width="0.18" stroke-opacity="0.6"/>
<path d="M202.20 351.83A63.00 63.00 0 0 1 204.65 355.71Q163.70 392.95 166.61 448.23A63.00 63.00 0 0 1 163.35 449.01Q159.95 391.30 202.20 351.83Z" fill="#55c8e6" fill-opacity="0.88" stroke="#fff" stroke-width="0.18" stroke-opacity="0.6"/>
<path d="M198.19 346.59A63.00 63.00 0 0 1 199.82 348.59Q150.30 387.54 99.46 424.74A63.00 63.00 0 0 1 98.30 423.11Q150.10 387.26 198.19 346.59Z" fill="#55c8e6" fill-opacity="0.88" stroke="#fff" stroke-width="0.18" stroke-opacity="0.6"/>
<path d="M199.82 348.59A63.00 63.00 0 0 1 201.20 350.42Q150.79 387.95 116.93 440.90A63.00 63.00 0 0 1 115.44 439.94Q150.14 387.35 199.82 348.59Z" fill="#55c8e6" fill-opacity="0.88" stroke="#fff" stroke-width="0.18" stroke-opacity="0.6"/>
<path d="M201.20 350.42A63.00 63.00 0 0 1 202.20 351.83Q155.02 390.43 140.68 449.68A63.00 63.00 0 0 1 139.30 449.45Q153.87 389.70 201.20 350.42Z" fill="#55c8e6" fill-opacity="0.88" stroke="#fff" stroke-width="0.18" stroke-opacity="0.6"/>
<path d="M89.76 369.61A63.00 63.00 0 0 1 91.02 365.80Q101.00 380.39 87.34 391.62A63.00 63.00 0 0 1 87.20 387.56Q96.88 379.79 89.76 369.61Z" fill="#c6df4c" fill-opacity="0.88" stroke="#fff" stroke-width="0.18" stroke-opacity="0.6"/>
<path d="M93.43 360.08A63.00 63.00 0 0 1 94.30 358.34Q99.55 369.88 88.30 375.70A63.00 63.00 0 0 1 89.12 371.98Q97.03 368.12 93.43 360.08Z" fill="#dbe04a" fill-opacity="0.88" stroke="#fff" stroke-width="0.18" stroke-opacity="0.6"/>
<path d="M106.10 342.41A63.00 63.00 0 0 1 115.61 334.74Q139.04 386.72 109.44 435.43A63.00 63.00 0 0 1 102.21 428.22Q127.46 386.37 106.10 342.41Z" fill="#ef7434" fill-opacity="0.88" stroke="#fff" stroke-width="0.18" stroke-opacity="0.6"/>
<path d="M117.87 333.33A63.00 63.00 0 0 1 120.18 332.01Q150.42 387.29 175.30 445.18A63.00 63.00 0 0 1 173.37 445.99Q149.98 387.51 117.87 333.33Z" fill="#ef7434" fill-opacity="0.88" stroke="#fff" stroke-width="0.18" stroke-opacity="0.6"/>
<path d="M100.54 348.63A63.00 63.00 0 0 1 102.94 345.74Q150.65 386.64 209.37 409.02A63.00 63.00 0 0 1 207.99 412.49Q149.90 387.91 100.54 348.63Z" fill="#ecd036" fill-opacity="0.88" stroke="#fff" stroke-width="0.18" stroke-opacity="0.6"/>
<path d="M99.28 350.30A63.00 63.00 0 0 1 100.54 348.63Q150.34 387.23 196.61 430.00A63.00 63.00 0 0 1 195.01 431.68Q150.06 387.57 99.28 350.30Z" fill="#ecd036" fill-opacity="0.88" stroke="#fff" stroke-width="0.18" stroke-opacity="0.6"/>
<path d="M98.31 351.67A63.00 63.00 0 0 1 99.28 350.30Q148.72 388.55 173.37 445.99A63.00 63.00 0 0 1 171.80 446.58Q147.83 389.23 98.31 351.67Z" fill="#ecd036" fill-opacity="0.88" stroke="#fff" stroke-width="0.18" stroke-opacity="0.6"/>
</g>
<path d="M149.79 320.20A67.20 67.20 0 0 1 154.54 320.34L154.27 324.53A63.00 63.00 0 0 0 149.82 324.40Z" fill="#c04fc4" />
<path d="M149.82 324.50A62.90 62.90 0 0 1 154.26 324.63" fill="none" stroke="#1d5a3a" stroke-width="0.9"/>
<path d="M149.79 320.20L149.77 317.20" stroke="#333" stroke-width="0.45"/>
<path d="M154.54 320.34L154.67 318.34" stroke="#333" stroke-width="0.45"/>
<path d="M149.61 312.20A75.20 75.20 0 0 1 150.18 312.20L150.18 313.90A73.50 73.50 0 0 0 149.62 313.90Z" fill="#78a92a" />
<path d="M150.11 312.20A75.20 75.20 0 0 1 150.69 312.20L150.67 313.90A73.50 73.50 0 0 0 150.12 313.90Z" fill="#5fa32e" />
<path d="M150.62 312.20A75.20 75.20 0 0 1 151.19 312.21L151.17 313.91A73.50 73.50 0 0 0 150.61 313.90Z" fill="#4fa235" />
<path d="M151.12 312.21A75.20 75.20 0 0 1 152.57 312.24L152.52 313.94A73.50 73.50 0 0 0 151.10 313.91Z" fill="#43a352" />
<path d="M152.51 312.24A75.20 75.20 0 0 1 153.52 312.27L153.44 313.97A73.50 73.50 0 0 0 152.46 313.93Z" fill="#3aa77c" />
<path d="M153.45 312.27A75.20 75.20 0 0 1 154.46 312.32L154.36 314.02A73.50 73.50 0 0 0 153.38 313.97Z" fill="#31a39a" />
<path d="M154.39 312.32A75.20 75.20 0 0 1 154.96 312.35L154.86 314.05A73.50 73.50 0 0 0 154.30 314.01Z" fill="#2e98ac" />
<path d="M154.90 312.35A75.20 75.20 0 0 1 155.18 312.37L155.07 314.06A73.50 73.50 0 0 0 154.79 314.04Z" fill="#2687b1" />
<path d="M149.58 308.20A79.20 79.20 0 0 1 150.18 308.20L150.18 309.90A77.50 77.50 0 0 0 149.59 309.90Z" fill="#4a6819" />
<path d="M150.11 308.20A79.20 79.20 0 0 1 150.71 308.20L150.70 309.90A77.50 77.50 0 0 0 150.11 309.90Z" fill="#3b641c" />
<path d="M150.64 308.20A79.20 79.20 0 0 1 151.24 308.21L151.22 309.91A77.50 77.50 0 0 0 150.63 309.90Z" fill="#306321" />
<path d="M151.17 308.21A79.20 79.20 0 0 1 152.70 308.24L152.65 309.94A77.50 77.50 0 0 0 151.15 309.91Z" fill="#296432" />
<path d="M152.63 308.24A79.20 79.20 0 0 1 153.69 308.28L153.62 309.98A77.50 77.50 0 0 0 152.58 309.94Z" fill="#24674c" />
<path d="M153.62 308.27A79.20 79.20 0 0 1 154.69 308.33L154.59 310.02A77.50 77.50 0 0 0 153.55 309.97Z" fill="#1e645f" />
<path d="M154.62 308.32A79.20 79.20 0 0 1 155.22 308.36L155.11 310.06A77.50 77.50 0 0 0 154.52 310.02Z" fill="#1c5d6a" />
<path d="M155.15 308.35A79.20 79.20 0 0 1 155.45 308.37L155.34 310.07A77.50 77.50 0 0 0 155.04 310.05Z" fill="#17536c" />
<path d="M149.58 308.20A79.20 79.20 0 0 1 155.45 308.37" fill="none" stroke="#0a1410" stroke-width="0.7"/>
<text transform="translate(150.41 306.80) rotate(-89.8)" font-size="3.1" text-anchor="start" fill="#5c5c5c" dy="0.9">0%</text>
<text transform="translate(154.70 306.93) rotate(-86.8)" font-size="3.1" text-anchor="start" fill="#5c5c5c" dy="0.9">100%</text>
<path d="M156.64 320.51A67.20 67.20 0 0 1 190.17 333.38L187.67 336.76A63.00 63.00 0 0 0 156.24 324.69Z" fill="#f1ee6e" />
<path d="M156.23 324.79A62.90 62.90 0 0 1 187.61 336.84" fill="none" stroke="#1d5a3a" stroke-width="0.9"/>
<path d="M156.64 320.51L156.93 317.52" stroke="#333" stroke-width="0.45"/>
<path d="M162.64 321.36L163.01 319.40" stroke="#333" stroke-width="0.45"/>
<path d="M168.53 322.75L169.35 319.86" stroke="#333" stroke-width="0.45"/>
<path d="M174.28 324.66L175.00 322.80" stroke="#333" stroke-width="0.45"/>
<path d="M179.83 327.09L181.16 324.39" stroke="#333" stroke-width="0.45"/>
<path d="M185.15 330.00L186.19 328.29" stroke="#333" stroke-width="0.45"/>
<path d="M190.17 333.38L191.96 330.97" stroke="#333" stroke-width="0.45"/>
<path d="M157.28 312.53A75.20 75.20 0 0 1 158.04 312.61L157.86 314.30A73.50 73.50 0 0 0 157.12 314.23Z" fill="#78a92a" />
<path d="M157.97 312.60A75.20 75.20 0 0 1 174.75 316.32L174.19 317.93A73.50 73.50 0 0 0 157.80 314.29Z" fill="#5fa32e" />
<path d="M174.69 316.30A75.20 75.20 0 0 1 178.26 317.63L177.63 319.21A73.50 73.50 0 0 0 174.13 317.91Z" fill="#4fa235" />
<path d="M178.20 317.61A75.20 75.20 0 0 1 181.15 318.86L180.45 320.41A73.50 73.50 0 0 0 177.57 319.18Z" fill="#43a352" />
<path d="M181.09 318.84A75.20 75.20 0 0 1 186.67 321.64L185.85 323.12A73.50 73.50 0 0 0 180.39 320.39Z" fill="#3aa77c" />
<path d="M186.61 321.60A75.20 75.20 0 0 1 190.42 323.86L189.51 325.30A73.50 73.50 0 0 0 185.79 323.09Z" fill="#31a39a" />
<path d="M190.36 323.82A75.20 75.20 0 0 1 193.03 325.59L192.07 326.99A73.50 73.50 0 0 0 189.46 325.26Z" fill="#2e98ac" />
<path d="M192.98 325.55A75.20 75.20 0 0 1 195.04 327.03L194.02 328.39A73.50 73.50 0 0 0 192.01 326.95Z" fill="#2687b1" />
<path d="M157.65 308.55A79.20 79.20 0 0 1 158.46 308.63L158.28 310.32A77.50 77.50 0 0 0 157.49 310.24Z" fill="#4a6819" />
<path d="M158.39 308.62A79.20 79.20 0 0 1 176.06 312.54L175.50 314.15A77.50 77.50 0 0 0 158.21 310.32Z" fill="#3b641c" />
<path d="M175.99 312.52A79.20 79.20 0 0 1 179.75 313.92L179.12 315.50A77.50 77.50 0 0 0 175.44 314.12Z" fill="#306321" />
<path d="M179.69 313.89A79.20 79.20 0 0 1 182.79 315.22L182.09 316.77A77.50 77.50 0 0 0 179.06 315.47Z" fill="#296432" />
<path d="M182.73 315.19A79.20 79.20 0 0 1 188.61 318.14L187.79 319.63A77.50 77.50 0 0 0 182.03 316.74Z" fill="#24674c" />
<path d="M188.55 318.11A79.20 79.20 0 0 1 192.56 320.48L191.65 321.92A77.50 77.50 0 0 0 187.73 319.59Z" fill="#1e645f" />
<path d="M192.50 320.44A79.20 79.20 0 0 1 195.31 322.30L194.34 323.70A77.50 77.50 0 0 0 191.59 321.88Z" fill="#1c5d6a" />
<path d="M195.26 322.27A79.20 79.20 0 0 1 197.42 323.82L196.41 325.18A77.50 77.50 0 0 0 194.29 323.66Z" fill="#17536c" />
<path d="M157.65 308.55A79.20 79.20 0 0 1 197.42 323.82" fill="none" stroke="#0a1410" stroke-width="0.7"/>
<text transform="translate(158.62 307.24) rotate(-84.0)" font-size="3.1" text-anchor="start" fill="#5c5c5c" dy="0.9">0%</text>
<text transform="translate(197.58 322.19) rotate(-54.0)" font-size="3.1" text-anchor="start" fill="#5c5c5c" dy="0.9">100%</text>
<text transform="translate(179.08 312.15) rotate(-69.0)" font-size="3.1" text-anchor="start" fill="#5c5c5c" dy="0.9">50%</text>
<path d="M191.85 334.66A67.20 67.20 0 0 1 214.07 366.52L210.08 367.83A63.00 63.00 0 0 0 189.25 337.96Z" fill="#4fc6e4" />
<path d="M189.18 338.04A62.90 62.90 0 0 1 209.99 367.86" fill="none" stroke="#1d5a3a" stroke-width="0.9"/>
<path d="M191.85 334.66L193.71 332.31" stroke="#333" stroke-width="0.45"/>
<path d="M196.80 338.98L198.18 337.54" stroke="#333" stroke-width="0.45"/>
<path d="M201.30 343.76L203.58 341.81" stroke="#333" stroke-width="0.45"/>
<path d="M205.31 348.95L206.95 347.81" stroke="#333" stroke-width="0.45"/>
<path d="M208.80 354.51L211.42 353.05" stroke="#333" stroke-width="0.45"/>
<path d="M211.73 360.39L213.56 359.59" stroke="#333" stroke-width="0.45"/>
<path d="M214.07 366.52L216.93 365.59" stroke="#333" stroke-width="0.45"/>
<path d="M196.70 328.30A75.20 75.20 0 0 1 206.24 337.25L204.97 338.39A73.50 73.50 0 0 0 195.65 329.64Z" fill="#78a92a" />
<path d="M206.20 337.21A75.20 75.20 0 0 1 207.43 338.61L206.13 339.72A73.50 73.50 0 0 0 204.93 338.34Z" fill="#5fa32e" />
<path d="M207.38 338.56A75.20 75.20 0 0 1 209.43 341.06L208.09 342.11A73.50 73.50 0 0 0 206.09 339.67Z" fill="#4fa235" />
<path d="M209.39 341.01A75.20 75.20 0 0 1 211.13 343.32L209.75 344.32A73.50 73.50 0 0 0 208.05 342.06Z" fill="#43a352" />
<path d="M211.09 343.27A75.20 75.20 0 0 1 212.36 345.07L210.95 346.03A73.50 73.50 0 0 0 209.71 344.26Z" fill="#3aa77c" />
<path d="M212.32 345.02A75.20 75.20 0 0 1 215.31 349.77L213.83 350.62A73.50 73.50 0 0 0 210.92 345.98Z" fill="#31a39a" />
<path d="M215.27 349.71A75.20 75.20 0 0 1 218.77 356.52L217.22 357.21A73.50 73.50 0 0 0 213.80 350.56Z" fill="#2e98ac" />
<path d="M218.74 356.46A75.20 75.20 0 0 1 221.72 364.16L220.10 364.69A73.50 73.50 0 0 0 217.19 357.16Z" fill="#2687b1" />
<path d="M199.18 325.16A79.20 79.20 0 0 1 209.22 334.59L207.95 335.72A77.50 77.50 0 0 0 198.13 326.50Z" fill="#4a6819" />
<path d="M209.17 334.54A79.20 79.20 0 0 1 210.47 336.02L209.18 337.12A77.50 77.50 0 0 0 207.91 335.67Z" fill="#3b641c" />
<path d="M210.43 335.97A79.20 79.20 0 0 1 212.58 338.60L211.24 339.65A77.50 77.50 0 0 0 209.13 337.07Z" fill="#306321" />
<path d="M212.54 338.54A79.20 79.20 0 0 1 214.37 340.97L212.99 341.97A77.50 77.50 0 0 0 211.20 339.59Z" fill="#296432" />
<path d="M214.33 340.92A79.20 79.20 0 0 1 215.66 342.82L214.26 343.78A77.50 77.50 0 0 0 212.95 341.92Z" fill="#24674c" />
<path d="M215.62 342.76A79.20 79.20 0 0 1 218.77 347.77L217.30 348.62A77.50 77.50 0 0 0 214.22 343.72Z" fill="#1e645f" />
<path d="M218.73 347.71A79.20 79.20 0 0 1 222.41 354.87L220.86 355.57A77.50 77.50 0 0 0 217.26 348.56Z" fill="#1c5d6a" />
<path d="M222.38 354.81A79.20 79.20 0 0 1 225.52 362.93L223.91 363.45A77.50 77.50 0 0 0 220.83 355.51Z" fill="#17536c" />
<path d="M199.18 325.16A79.20 79.20 0 0 1 225.52 362.93" fill="none" stroke="#0a1410" stroke-width="0.7"/>
<text transform="translate(200.70 324.59) rotate(-51.2)" font-size="3.1" text-anchor="start" fill="#5c5c5c" dy="0.9">0%</text>
<text transform="translate(226.59 361.69) rotate(-18.6)" font-size="3.1" text-anchor="start" fill="#5c5c5c" dy="0.9">100%</text>
<text transform="translate(216.30 341.29) rotate(-34.9)" font-size="3.1" text-anchor="start" fill="#5c5c5c" dy="0.9">50%</text>
<path d="M214.70 368.54A67.20 67.20 0 0 1 216.70 377.70L212.54 378.31A63.00 63.00 0 0 0 210.67 369.72Z" fill="#5a55b9" />
<path d="M210.57 369.75A62.90 62.90 0 0 1 212.44 378.32" fill="none" stroke="#1d5a3a" stroke-width="0.9"/>
<path d="M214.70 368.54L217.58 367.70" stroke="#333" stroke-width="0.45"/>
<path d="M216.70 377.70L218.68 377.41" stroke="#333" stroke-width="0.45"/>
<path d="M222.34 366.17A75.20 75.20 0 0 1 222.54 366.85L220.90 367.31A73.50 73.50 0 0 0 220.71 366.65Z" fill="#78a92a" />
<path d="M222.52 366.78A75.20 75.20 0 0 1 223.15 369.16L221.50 369.57A73.50 73.50 0 0 0 220.88 367.25Z" fill="#5fa32e" />
<path d="M223.14 369.09A75.20 75.20 0 0 1 223.53 370.72L221.87 371.10A73.50 73.50 0 0 0 221.49 369.51Z" fill="#4fa235" />
<path d="M223.51 370.66A75.20 75.20 0 0 1 223.87 372.30L222.20 372.64A73.50 73.50 0 0 0 221.86 371.04Z" fill="#43a352" />
<path d="M223.86 372.24A75.20 75.20 0 0 1 224.07 373.31L222.40 373.63A73.50 73.50 0 0 0 222.19 372.58Z" fill="#3aa77c" />
<path d="M224.06 373.25A75.20 75.20 0 0 1 224.29 374.51L222.61 374.80A73.50 73.50 0 0 0 222.39 373.57Z" fill="#31a39a" />
<path d="M224.28 374.45A75.20 75.20 0 0 1 224.46 375.53L222.78 375.80A73.50 73.50 0 0 0 222.60 374.74Z" fill="#2e98ac" />
<path d="M224.45 375.46A75.20 75.20 0 0 1 224.63 376.67L222.95 376.92A73.50 73.50 0 0 0 222.77 375.73Z" fill="#2687b1" />
<path d="M226.18 365.04A79.20 79.20 0 0 1 226.38 365.75L224.75 366.22A77.50 77.50 0 0 0 224.55 365.52Z" fill="#4a6819" />
<path d="M226.37 365.69A79.20 79.20 0 0 1 227.03 368.18L225.38 368.60A77.50 77.50 0 0 0 224.73 366.15Z" fill="#3b641c" />
<path d="M227.02 368.12A79.20 79.20 0 0 1 227.43 369.84L225.77 370.21A77.50 77.50 0 0 0 225.37 368.53Z" fill="#306321" />
<path d="M227.41 369.77A79.20 79.20 0 0 1 227.79 371.50L226.12 371.84A77.50 77.50 0 0 0 225.76 370.15Z" fill="#296432" />
<path d="M227.77 371.43A79.20 79.20 0 0 1 228.00 372.56L226.33 372.88A77.50 77.50 0 0 0 226.11 371.77Z" fill="#24674c" />
<path d="M227.98 372.49A79.20 79.20 0 0 1 228.23 373.83L226.55 374.12A77.50 77.50 0 0 0 226.31 372.81Z" fill="#1e645f" />
<path d="M228.22 373.76A79.20 79.20 0 0 1 228.41 374.90L226.73 375.17A77.50 77.50 0 0 0 226.54 374.05Z" fill="#1c5d6a" />
<path d="M228.40 374.83A79.20 79.20 0 0 1 228.59 376.10L226.91 376.35A77.50 77.50 0 0 0 226.72 375.10Z" fill="#17536c" />
<path d="M226.18 365.04A79.20 79.20 0 0 1 228.59 376.10" fill="none" stroke="#0a1410" stroke-width="0.7"/>
<text transform="translate(227.75 365.45) rotate(-15.8)" font-size="3.1" text-anchor="start" fill="#5c5c5c" dy="0.9">0%</text>
<text transform="translate(229.85 375.07) rotate(-8.8)" font-size="3.1" text-anchor="start" fill="#5c5c5c" dy="0.9">100%</text>
<path d="M216.97 379.79A67.20 67.20 0 0 1 214.76 406.04L210.73 404.87A63.00 63.00 0 0 0 212.80 380.27Z" fill="#5b6fc3" />
<path d="M212.70 380.28A62.90 62.90 0 0 1 210.63 404.84" fill="none" stroke="#1d5a3a" stroke-width="0.9"/>
<path d="M216.97 379.79L219.95 379.45" stroke="#333" stroke-width="0.45"/>
<path d="M217.39 386.40L219.39 386.37" stroke="#333" stroke-width="0.45"/>
<path d="M217.16 393.02L220.15 393.27" stroke="#333" stroke-width="0.45"/>
<path d="M216.29 399.59L218.25 399.95" stroke="#333" stroke-width="0.45"/>
<path d="M214.76 406.04L217.65 406.87" stroke="#333" stroke-width="0.45"/>
<path d="M224.90 378.76A75.20 75.20 0 0 1 224.98 379.44L223.29 379.62A73.50 73.50 0 0 0 223.21 378.95Z" fill="#78a92a" />
<path d="M224.97 379.37A75.20 75.20 0 0 1 225.18 381.66L223.49 381.79A73.50 73.50 0 0 0 223.28 379.55Z" fill="#5fa32e" />
<path d="M225.18 381.59A75.20 75.20 0 0 1 225.30 383.61L223.61 383.70A73.50 73.50 0 0 0 223.48 381.72Z" fill="#4fa235" />
<path d="M225.30 383.55A75.20 75.20 0 0 1 225.39 386.38L223.69 386.40A73.50 73.50 0 0 0 223.60 383.63Z" fill="#43a352" />
<path d="M225.39 386.31A75.20 75.20 0 0 1 225.38 389.15L223.68 389.11A73.50 73.50 0 0 0 223.69 386.34Z" fill="#3aa77c" />
<path d="M225.38 389.08A75.20 75.20 0 0 1 225.19 392.98L223.50 392.86A73.50 73.50 0 0 0 223.68 389.04Z" fill="#31a39a" />
<path d="M225.20 392.92A75.20 75.20 0 0 1 224.05 401.58L222.38 401.26A73.50 73.50 0 0 0 223.50 392.79Z" fill="#2e98ac" />
<path d="M224.06 401.51A75.20 75.20 0 0 1 222.41 408.38L220.78 407.91A73.50 73.50 0 0 0 222.39 401.19Z" fill="#2687b1" />
<path d="M228.88 378.30A79.20 79.20 0 0 1 228.95 379.01L227.26 379.19A77.50 77.50 0 0 0 227.19 378.49Z" fill="#4a6819" />
<path d="M228.95 378.94A79.20 79.20 0 0 1 229.17 381.35L227.47 381.48A77.50 77.50 0 0 0 227.26 379.13Z" fill="#3b641c" />
<path d="M229.16 381.28A79.20 79.20 0 0 1 229.30 383.41L227.60 383.50A77.50 77.50 0 0 0 227.47 381.41Z" fill="#306321" />
<path d="M229.30 383.34A79.20 79.20 0 0 1 229.39 386.32L227.69 386.35A77.50 77.50 0 0 0 227.60 383.43Z" fill="#296432" />
<path d="M229.39 386.25A79.20 79.20 0 0 1 229.38 389.24L227.68 389.20A77.50 77.50 0 0 0 227.69 386.28Z" fill="#24674c" />
<path d="M229.38 389.17A79.20 79.20 0 0 1 229.18 393.28L227.49 393.15A77.50 77.50 0 0 0 227.68 389.13Z" fill="#1e645f" />
<path d="M229.19 393.21A79.20 79.20 0 0 1 227.98 402.33L226.31 402.01A77.50 77.50 0 0 0 227.49 393.08Z" fill="#1c5d6a" />
<path d="M227.99 402.26A79.20 79.20 0 0 1 226.26 409.50L224.62 409.02A77.50 77.50 0 0 0 226.32 401.94Z" fill="#17536c" />
<path d="M228.88 378.30A79.20 79.20 0 0 1 226.26 409.50" fill="none" stroke="#0a1410" stroke-width="0.7"/>
<text transform="translate(230.36 378.98) rotate(-6.0)" font-size="3.1" text-anchor="start" fill="#5c5c5c" dy="0.9">0%</text>
<text transform="translate(227.83 409.07) rotate(15.6)" font-size="3.1" text-anchor="start" fill="#5c5c5c" dy="0.9">100%</text>
<text transform="translate(230.52 394.14) rotate(4.8)" font-size="3.1" text-anchor="start" fill="#5c5c5c" dy="0.9">50%</text>
<path d="M214.15 408.05A67.20 67.20 0 0 1 203.37 428.49L200.05 425.93A63.00 63.00 0 0 0 210.15 406.76Z" fill="#31aee3" />
<path d="M210.06 406.73A62.90 62.90 0 0 1 199.97 425.87" fill="none" stroke="#1d5a3a" stroke-width="0.9"/>
<path d="M214.15 408.05L217.00 408.98" stroke="#333" stroke-width="0.45"/>
<path d="M212.13 413.50L213.97 414.27" stroke="#333" stroke-width="0.45"/>
<path d="M209.64 418.74L212.30 420.14" stroke="#333" stroke-width="0.45"/>
<path d="M206.72 423.75L208.40 424.84" stroke="#333" stroke-width="0.45"/>
<path d="M203.37 428.49L205.74 430.33" stroke="#333" stroke-width="0.45"/>
<path d="M225.42 411.55A79.00 79.00 0 0 1 224.32 414.74L221.03 413.53A75.50 75.50 0 0 0 222.09 410.48Z" fill="#d6c22a" />
<path d="M224.34 414.68A79.00 79.00 0 0 1 223.52 416.80L220.28 415.50A75.50 75.50 0 0 0 221.06 413.47Z" fill="#a9c93a" />
<path d="M223.55 416.74A79.00 79.00 0 0 1 217.31 429.09L214.33 427.24A75.50 75.50 0 0 0 220.30 415.44Z" fill="#4a3590" />
<path d="M217.34 429.03A79.00 79.00 0 0 1 215.81 431.40L212.90 429.46A75.50 75.50 0 0 0 214.37 427.19Z" fill="#2c2c6c" />
<path d="M215.85 431.35A79.00 79.00 0 0 1 212.62 435.82L209.86 433.67A75.50 75.50 0 0 0 212.94 429.40Z" fill="#5b46a6" />
<path d="M225.42 411.55A79.00 79.00 0 0 1 212.62 435.82" fill="none" stroke="#15101f" stroke-width="0.7"/>
<path d="M222.09 410.48A75.50 75.50 0 0 1 209.86 433.67" fill="none" stroke="#15101f" stroke-width="0.6"/>
<text transform="translate(226.68 412.84) rotate(18.4)" font-size="3.1" text-anchor="start" fill="#5c5c5c" dy="0.9">0%</text>
<text transform="translate(214.40 436.13) rotate(37.2)" font-size="3.1" text-anchor="start" fill="#5c5c5c" dy="0.9">100%</text>
<text transform="translate(221.50 424.99) rotate(27.8)" font-size="3.1" text-anchor="start" fill="#5c5c5c" dy="0.9">50%</text>
<path d="M202.05 430.14A67.20 67.20 0 0 1 182.78 446.17L180.74 442.50A63.00 63.00 0 0 0 198.81 427.47Z" fill="#3cc3dd" />
<path d="M198.74 427.41A62.90 62.90 0 0 1 180.69 442.41" fill="none" stroke="#1d5a3a" stroke-width="0.9"/>
<path d="M202.05 430.14L204.37 432.05" stroke="#333" stroke-width="0.45"/>
<path d="M197.82 434.81L199.24 436.22" stroke="#333" stroke-width="0.45"/>
<path d="M193.17 439.07L195.09 441.37" stroke="#333" stroke-width="0.45"/>
<path d="M188.14 442.86L189.27 444.51" stroke="#333" stroke-width="0.45"/>
<path d="M182.78 446.17L184.23 448.80" stroke="#333" stroke-width="0.45"/>
<path d="M211.25 437.54A79.00 79.00 0 0 1 209.65 439.42L207.02 437.12A75.50 75.50 0 0 0 208.54 435.32Z" fill="#e0602a" />
<path d="M209.70 439.37A79.00 79.00 0 0 1 208.05 441.20L205.49 438.82A75.50 75.50 0 0 0 207.06 437.07Z" fill="#7a3fa0" />
<path d="M208.10 441.15A79.00 79.00 0 0 1 198.09 450.23L195.97 447.45A75.50 75.50 0 0 0 205.53 438.77Z" fill="#4a3590" />
<path d="M198.14 450.19A79.00 79.00 0 0 1 195.67 452.00L193.66 449.14A75.50 75.50 0 0 0 196.02 447.41Z" fill="#5b46a6" />
<path d="M195.73 451.96A79.00 79.00 0 0 1 193.70 453.35L191.77 450.43A75.50 75.50 0 0 0 193.71 449.10Z" fill="#a9c93a" />
<path d="M193.75 453.31A79.00 79.00 0 0 1 192.19 454.32L190.33 451.35A75.50 75.50 0 0 0 191.82 450.39Z" fill="#7a3fa0" />
<path d="M192.24 454.28A79.00 79.00 0 0 1 189.62 455.86L187.88 452.83A75.50 75.50 0 0 0 190.38 451.32Z" fill="#d6c22a" />
<path d="M189.68 455.83A79.00 79.00 0 0 1 188.38 456.56L186.69 453.50A75.50 75.50 0 0 0 187.93 452.79Z" fill="#222222" />
<path d="M211.25 437.54A79.00 79.00 0 0 1 188.38 456.56" fill="none" stroke="#15101f" stroke-width="0.7"/>
<path d="M208.54 435.32A75.50 75.50 0 0 1 186.69 453.50" fill="none" stroke="#15101f" stroke-width="0.6"/>
<text transform="translate(211.94 439.21) rotate(40.0)" font-size="3.1" text-anchor="start" fill="#5c5c5c" dy="0.9">0%</text>
<text transform="translate(189.89 457.55) rotate(60.5)" font-size="3.1" text-anchor="start" fill="#5c5c5c" dy="0.9">100%</text>
<text transform="translate(201.74 449.37) rotate(50.2)" font-size="3.1" text-anchor="start" fill="#5c5c5c" dy="0.9">50%</text>
<path d="M180.92 447.17A67.20 67.20 0 0 1 160.60 453.79L159.95 449.64A63.00 63.00 0 0 0 179.00 443.43Z" fill="#3fd2c6" />
<path d="M178.95 443.34A62.90 62.90 0 0 1 159.93 449.54" fill="none" stroke="#1d5a3a" stroke-width="0.9"/>
<path d="M180.92 447.17L182.29 449.84" stroke="#333" stroke-width="0.45"/>
<path d="M174.39 450.09L175.11 451.96" stroke="#333" stroke-width="0.45"/>
<path d="M167.59 452.31L168.37 455.21" stroke="#333" stroke-width="0.45"/>
<path d="M160.60 453.79L160.91 455.77" stroke="#333" stroke-width="0.45"/>
<path d="M186.43 457.60A79.00 79.00 0 0 1 185.00 458.32L183.46 455.18A75.50 75.50 0 0 0 184.83 454.49Z" fill="#8a8a2a" />
<path d="M185.07 458.29A79.00 79.00 0 0 1 183.16 459.20L181.70 456.01A75.50 75.50 0 0 0 183.52 455.15Z" fill="#d6c22a" />
<path d="M183.22 459.17A79.00 79.00 0 0 1 181.30 460.02L179.92 456.81A75.50 75.50 0 0 0 181.76 455.99Z" fill="#7a3fa0" />
<path d="M181.36 460.00A79.00 79.00 0 0 1 179.88 460.61L178.57 457.37A75.50 75.50 0 0 0 179.98 456.78Z" fill="#e0a02a" />
<path d="M179.95 460.59A79.00 79.00 0 0 1 170.21 463.82L169.32 460.44A75.50 75.50 0 0 0 178.63 457.34Z" fill="#503c92" />
<path d="M170.27 463.81A79.00 79.00 0 0 1 167.73 464.43L166.95 461.02A75.50 75.50 0 0 0 169.38 460.42Z" fill="#2c2c6c" />
<path d="M167.80 464.42A79.00 79.00 0 0 1 165.23 464.96L164.57 461.52A75.50 75.50 0 0 0 167.02 461.00Z" fill="#5b46a6" />
<path d="M165.30 464.94A79.00 79.00 0 0 1 162.29 465.47L161.75 462.01A75.50 75.50 0 0 0 164.63 461.51Z" fill="#cf2f2f" />
<path d="M186.43 457.60A79.00 79.00 0 0 1 162.29 465.47" fill="none" stroke="#15101f" stroke-width="0.7"/>
<path d="M184.83 454.49A75.50 75.50 0 0 1 161.75 462.01" fill="none" stroke="#15101f" stroke-width="0.6"/>
<text transform="translate(186.42 459.41) rotate(63.3)" font-size="3.1" text-anchor="start" fill="#5c5c5c" dy="0.9">0%</text>
<text transform="translate(163.36 466.92) rotate(80.6)" font-size="3.1" text-anchor="start" fill="#5c5c5c" dy="0.9">100%</text>
<text transform="translate(175.17 464.03) rotate(71.9)" font-size="3.1" text-anchor="start" fill="#5c5c5c" dy="0.9">50%</text>
<path d="M158.51 454.08A67.20 67.20 0 0 1 133.60 452.52L134.64 448.45A63.00 63.00 0 0 0 157.99 449.92Z" fill="#4bd7a0" />
<path d="M157.97 449.82A62.90 62.90 0 0 1 134.66 448.35" fill="none" stroke="#1d5a3a" stroke-width="0.9"/>
<path d="M158.51 454.08L158.88 457.06" stroke="#333" stroke-width="0.45"/>
<path d="M152.25 454.57L152.31 456.57" stroke="#333" stroke-width="0.45"/>
<path d="M145.98 454.47L145.79 457.46" stroke="#333" stroke-width="0.45"/>
<path d="M139.75 453.78L139.43 455.76" stroke="#333" stroke-width="0.45"/>
<path d="M133.60 452.52L132.86 455.42" stroke="#333" stroke-width="0.45"/>
<path d="M160.10 465.78A79.00 79.00 0 0 1 149.04 466.39L149.09 462.89A75.50 75.50 0 0 0 159.66 462.30Z" fill="#cf2f2f" />
<path d="M149.11 466.39A79.00 79.00 0 0 1 141.61 465.93L141.99 462.45A75.50 75.50 0 0 0 149.16 462.89Z" fill="#7a3fa0" />
<path d="M141.68 465.94A79.00 79.00 0 0 1 132.80 464.46L133.57 461.05A75.50 75.50 0 0 0 142.06 462.46Z" fill="#5b46a6" />
<path d="M132.87 464.48A79.00 79.00 0 0 1 130.55 463.92L131.42 460.53A75.50 75.50 0 0 0 133.64 461.06Z" fill="#a02020" />
<path d="M160.10 465.78A79.00 79.00 0 0 1 130.55 463.92" fill="none" stroke="#15101f" stroke-width="0.7"/>
<path d="M159.66 462.30A75.50 75.50 0 0 1 131.42 460.53" fill="none" stroke="#15101f" stroke-width="0.6"/>
<text transform="translate(159.46 467.47) rotate(83.4)" font-size="3.1" text-anchor="start" fill="#5c5c5c" dy="0.9">0%</text>
<text transform="translate(130.97 465.67) rotate(283.8)" font-size="3.1" text-anchor="end" fill="#5c5c5c" dy="0.9">100%</text>
<text transform="translate(145.14 467.84) rotate(273.6)" font-size="3.1" text-anchor="end" fill="#5c5c5c" dy="0.9">50%</text>
<path d="M131.56 451.96A67.20 67.20 0 0 1 110.32 441.49L112.81 438.11A63.00 63.00 0 0 0 132.73 447.93Z" fill="#57d26a" />
<path d="M132.76 447.83A62.90 62.90 0 0 1 112.87 438.03" fill="none" stroke="#1d5a3a" stroke-width="0.9"/>
<path d="M131.56 451.96L130.73 454.85" stroke="#333" stroke-width="0.45"/>
<path d="M125.93 450.06L125.20 451.93" stroke="#333" stroke-width="0.45"/>
<path d="M120.48 447.67L119.15 450.36" stroke="#333" stroke-width="0.45"/>
<path d="M115.26 444.80L114.22 446.51" stroke="#333" stroke-width="0.45"/>
<path d="M110.32 441.49L108.54 443.90" stroke="#333" stroke-width="0.45"/>
<path d="M128.42 463.34A79.00 79.00 0 0 1 116.47 458.84L117.96 455.67A75.50 75.50 0 0 0 129.39 459.98Z" fill="#cf2f2f" />
<path d="M116.53 458.87A79.00 79.00 0 0 1 106.16 452.98L108.11 450.08A75.50 75.50 0 0 0 118.02 455.70Z" fill="#5b46a6" />
<path d="M106.21 453.02A79.00 79.00 0 0 1 104.99 452.18L106.99 449.31A75.50 75.50 0 0 0 108.16 450.11Z" fill="#222222" />
<path d="M105.05 452.22A79.00 79.00 0 0 1 103.21 450.90L105.29 448.09A75.50 75.50 0 0 0 107.05 449.35Z" fill="#e0602a" />
<path d="M128.42 463.34A79.00 79.00 0 0 1 103.21 450.90" fill="none" stroke="#15101f" stroke-width="0.7"/>
<path d="M129.39 459.98A75.50 75.50 0 0 1 105.29 448.09" fill="none" stroke="#15101f" stroke-width="0.6"/>
<text transform="translate(127.17 464.64) rotate(286.6)" font-size="3.1" text-anchor="end" fill="#5c5c5c" dy="0.9">0%</text>
<text transform="translate(102.94 452.69) rotate(305.9)" font-size="3.1" text-anchor="end" fill="#5c5c5c" dy="0.9">100%</text>
<text transform="translate(114.55 459.69) rotate(296.2)" font-size="3.1" text-anchor="end" fill="#5c5c5c" dy="0.9">50%</text>
<path d="M108.64 440.21A67.20 67.20 0 0 1 92.84 422.41L96.43 420.22A63.00 63.00 0 0 0 111.24 436.91Z" fill="#66d045" />
<path d="M111.30 436.83A62.90 62.90 0 0 1 96.51 420.17" fill="none" stroke="#1d5a3a" stroke-width="0.9"/>
<path d="M108.64 440.21L106.79 442.57" stroke="#333" stroke-width="0.45"/>
<path d="M104.11 436.31L102.74 437.76" stroke="#333" stroke-width="0.45"/>
<path d="M99.95 432.02L97.70 434.01" stroke="#333" stroke-width="0.45"/>
<path d="M96.18 427.37L94.57 428.56" stroke="#333" stroke-width="0.45"/>
<path d="M92.84 422.41L90.28 423.97" stroke="#333" stroke-width="0.45"/>
<path d="M101.45 449.57A79.00 79.00 0 0 1 95.61 444.50L98.03 441.97A75.50 75.50 0 0 0 103.61 446.81Z" fill="#d8502a" />
<path d="M95.66 444.55A79.00 79.00 0 0 1 93.59 442.50L96.10 440.06A75.50 75.50 0 0 0 98.07 442.02Z" fill="#4a4aa8" />
<path d="M93.64 442.55A79.00 79.00 0 0 1 84.65 431.49L87.55 429.54A75.50 75.50 0 0 0 96.14 440.11Z" fill="#503c92" />
<path d="M84.69 431.55A79.00 79.00 0 0 1 83.87 430.31L86.81 428.41A75.50 75.50 0 0 0 87.59 429.60Z" fill="#c02a2a" />
<path d="M83.91 430.37A79.00 79.00 0 0 1 83.26 429.35L86.22 427.49A75.50 75.50 0 0 0 86.84 428.46Z" fill="#a9c93a" />
<path d="M83.29 429.41A79.00 79.00 0 0 1 82.70 428.44L85.69 426.62A75.50 75.50 0 0 0 86.26 427.55Z" fill="#222222" />
<path d="M101.45 449.57A79.00 79.00 0 0 1 82.70 428.44" fill="none" stroke="#15101f" stroke-width="0.7"/>
<path d="M103.61 446.81A75.50 75.50 0 0 1 85.69 426.62" fill="none" stroke="#15101f" stroke-width="0.6"/>
<text transform="translate(99.81 450.30) rotate(308.7)" font-size="3.1" text-anchor="end" fill="#5c5c5c" dy="0.9">0%</text>
<text transform="translate(81.77 429.99) rotate(328.1)" font-size="3.1" text-anchor="end" fill="#5c5c5c" dy="0.9">100%</text>
<text transform="translate(89.93 440.91) rotate(318.4)" font-size="3.1" text-anchor="end" fill="#5c5c5c" dy="0.9">50%</text>
<path d="M91.77 420.59A67.20 67.20 0 0 1 84.00 398.95L88.14 398.23A63.00 63.00 0 0 0 95.42 418.52Z" fill="#7bd23c" />
<path d="M95.51 418.47A62.90 62.90 0 0 1 88.24 398.21" fill="none" stroke="#1d5a3a" stroke-width="0.9"/>
<path d="M91.77 420.59L89.16 422.07" stroke="#333" stroke-width="0.45"/>
<path d="M89.14 415.45L87.32 416.29" stroke="#333" stroke-width="0.45"/>
<path d="M86.95 410.11L84.13 411.12" stroke="#333" stroke-width="0.45"/>
<path d="M85.24 404.59L83.30 405.11" stroke="#333" stroke-width="0.45"/>
<path d="M84.00 398.95L81.05 399.47" stroke="#333" stroke-width="0.45"/>
<path d="M81.58 426.54A79.00 79.00 0 0 1 73.14 404.81L76.56 404.04A75.50 75.50 0 0 0 84.62 424.81Z" fill="#503c92" />
<path d="M73.16 404.88A79.00 79.00 0 0 1 72.85 403.47L76.28 402.76A75.50 75.50 0 0 0 76.57 404.11Z" fill="#3a3a80" />
<path d="M72.87 403.54A79.00 79.00 0 0 1 72.64 402.40L76.07 401.73A75.50 75.50 0 0 0 76.29 402.83Z" fill="#d6c22a" />
<path d="M72.65 402.47A79.00 79.00 0 0 1 72.35 400.85L75.80 400.25A75.50 75.50 0 0 0 76.09 401.80Z" fill="#2c2c6c" />
<path d="M81.58 426.54A79.00 79.00 0 0 1 72.35 400.85" fill="none" stroke="#15101f" stroke-width="0.7"/>
<path d="M84.62 424.81A75.50 75.50 0 0 1 75.80 400.25" fill="none" stroke="#15101f" stroke-width="0.6"/>
<text transform="translate(79.77 426.60) rotate(330.9)" font-size="3.1" text-anchor="end" fill="#5c5c5c" dy="0.9">0%</text>
<text transform="translate(70.92 401.95) rotate(349.6)" font-size="3.1" text-anchor="end" fill="#5c5c5c" dy="0.9">100%</text>
<text transform="translate(74.34 414.64) rotate(340.2)" font-size="3.1" text-anchor="end" fill="#5c5c5c" dy="0.9">50%</text>
<path d="M83.67 396.87A67.20 67.20 0 0 1 85.14 370.57L89.21 371.63A63.00 63.00 0 0 0 87.83 396.28Z" fill="#9bd936" />
<path d="M87.93 396.26A62.90 62.90 0 0 1 89.30 371.65" fill="none" stroke="#1d5a3a" stroke-width="0.9"/>
<path d="M83.67 396.87L80.70 397.29" stroke="#333" stroke-width="0.45"/>
<path d="M83.06 390.27L81.06 390.36" stroke="#333" stroke-width="0.45"/>
<path d="M83.10 383.65L80.11 383.48" stroke="#333" stroke-width="0.45"/>
<path d="M83.80 377.06L81.82 376.75" stroke="#333" stroke-width="0.45"/>
<path d="M85.14 370.57L82.24 369.82" stroke="#333" stroke-width="0.45"/>
<path d="M72.01 398.67A79.00 79.00 0 0 1 71.68 396.10L75.16 395.72A75.50 75.50 0 0 0 75.47 398.17Z" fill="#503c92" />
<path d="M71.69 396.17A79.00 79.00 0 0 1 71.40 392.97L74.89 392.73A75.50 75.50 0 0 0 75.17 395.78Z" fill="#3a2a70" />
<path d="M71.40 393.04A79.00 79.00 0 0 1 71.66 378.85L75.14 379.23A75.50 75.50 0 0 0 74.89 392.79Z" fill="#503c92" />
<path d="M71.66 378.92A79.00 79.00 0 0 1 72.90 371.09L76.33 371.81A75.50 75.50 0 0 0 75.14 379.29Z" fill="#a9c93a" />
<path d="M72.89 371.16A79.00 79.00 0 0 1 73.17 369.86L76.58 370.64A75.50 75.50 0 0 0 76.31 371.88Z" fill="#6a3fa0" />
<path d="M73.16 369.93A79.00 79.00 0 0 1 73.75 367.49L77.14 368.37A75.50 75.50 0 0 0 76.57 370.70Z" fill="#2c2c6c" />
<path d="M72.01 398.67A79.00 79.00 0 0 1 73.75 367.49" fill="none" stroke="#15101f" stroke-width="0.7"/>
<path d="M75.47 398.17A75.50 75.50 0 0 1 77.14 368.37" fill="none" stroke="#15101f" stroke-width="0.6"/>
<text transform="translate(70.31 398.06) rotate(352.4)" font-size="3.1" text-anchor="end" fill="#5c5c5c" dy="0.9">0%</text>
<text transform="translate(71.99 367.90) rotate(374.0)" font-size="3.1" text-anchor="end" fill="#5c5c5c" dy="0.9">100%</text>
<text transform="translate(69.73 382.90) rotate(363.2)" font-size="3.1" text-anchor="end" fill="#5c5c5c" dy="0.9">50%</text>
<path d="M85.70 368.54A67.20 67.20 0 0 1 88.71 360.28L92.56 361.98A63.00 63.00 0 0 0 89.73 369.72Z" fill="#b9dc35" />
<path d="M89.83 369.75A62.90 62.90 0 0 1 92.65 362.02" fill="none" stroke="#1d5a3a" stroke-width="0.9"/>
<path d="M85.70 368.54L82.82 367.70" stroke="#333" stroke-width="0.45"/>
<path d="M88.71 360.28L86.88 359.47" stroke="#333" stroke-width="0.45"/>
<path d="M77.99 366.42A75.20 75.20 0 0 1 79.49 361.81L81.09 362.38A73.50 73.50 0 0 0 79.62 366.89Z" fill="#78a92a" />
<path d="M79.47 361.87A75.20 75.20 0 0 1 79.62 361.45L81.22 362.03A73.50 73.50 0 0 0 81.07 362.44Z" fill="#5fa32e" />
<path d="M79.60 361.51A75.20 75.20 0 0 1 79.86 360.81L81.45 361.41A73.50 73.50 0 0 0 81.19 362.09Z" fill="#4fa235" />
<path d="M79.83 360.87A75.20 75.20 0 0 1 80.10 360.18L81.68 360.80A73.50 73.50 0 0 0 81.42 361.47Z" fill="#43a352" />
<path d="M80.07 360.24A75.20 75.20 0 0 1 80.35 359.55L81.92 360.18A73.50 73.50 0 0 0 81.66 360.86Z" fill="#3aa77c" />
<path d="M80.32 359.61A75.20 75.20 0 0 1 80.60 358.93L82.17 359.57A73.50 73.50 0 0 0 81.90 360.24Z" fill="#31a39a" />
<path d="M80.57 358.99A75.20 75.20 0 0 1 80.86 358.30L82.43 358.96A73.50 73.50 0 0 0 82.15 359.63Z" fill="#2e98ac" />
<path d="M80.83 358.36A75.20 75.20 0 0 1 81.45 356.93L83.00 357.62A73.50 73.50 0 0 0 82.40 359.02Z" fill="#2687b1" />
<path d="M74.14 365.30A79.20 79.20 0 0 1 75.73 360.44L77.33 361.02A77.50 77.50 0 0 0 75.78 365.78Z" fill="#4a6819" />
<path d="M75.71 360.51A79.20 79.20 0 0 1 75.87 360.07L77.46 360.65A77.50 77.50 0 0 0 77.30 361.09Z" fill="#3b641c" />
<path d="M75.84 360.13A79.20 79.20 0 0 1 76.11 359.40L77.71 360.00A77.50 77.50 0 0 0 77.44 360.72Z" fill="#306321" />
<path d="M76.09 359.46A79.20 79.20 0 0 1 76.37 358.73L77.95 359.35A77.50 77.50 0 0 0 77.68 360.06Z" fill="#296432" />
<path d="M76.34 358.80A79.20 79.20 0 0 1 76.63 358.07L78.21 358.70A77.50 77.50 0 0 0 77.93 359.41Z" fill="#24674c" />
<path d="M76.60 358.14A79.20 79.20 0 0 1 76.90 357.41L78.47 358.06A77.50 77.50 0 0 0 78.18 358.76Z" fill="#1e645f" />
<path d="M76.87 357.48A79.20 79.20 0 0 1 77.17 356.76L78.74 357.41A77.50 77.50 0 0 0 78.44 358.12Z" fill="#1c5d6a" />
<path d="M77.14 356.82A79.20 79.20 0 0 1 77.79 355.31L79.35 356.00A77.50 77.50 0 0 0 78.71 357.48Z" fill="#17536c" />
<path d="M74.14 365.30A79.20 79.20 0 0 1 77.79 355.31" fill="none" stroke="#0a1410" stroke-width="0.7"/>
<text transform="translate(73.04 364.10) rotate(376.8)" font-size="3.1" text-anchor="end" fill="#5c5c5c" dy="0.9">0%</text>
<text transform="translate(76.17 355.52) rotate(383.3)" font-size="3.1" text-anchor="end" fill="#5c5c5c" dy="0.9">100%</text>
<path d="M89.60 358.36A67.20 67.20 0 0 1 91.89 354.00L95.53 356.09A63.00 63.00 0 0 0 93.38 360.18Z" fill="#d2de2e" />
<path d="M93.47 360.22A62.90 62.90 0 0 1 95.62 356.14" fill="none" stroke="#1d5a3a" stroke-width="0.9"/>
<path d="M89.60 358.36L86.89 357.07" stroke="#333" stroke-width="0.45"/>
<path d="M91.89 354.00L90.15 353.01" stroke="#333" stroke-width="0.45"/>
<path d="M82.33 355.03A75.20 75.20 0 0 1 83.44 352.79L84.95 353.58A73.50 73.50 0 0 0 83.86 355.76Z" fill="#78a92a" />
<path d="M83.41 352.85A75.20 75.20 0 0 1 83.53 352.61L85.04 353.40A73.50 73.50 0 0 0 84.92 353.63Z" fill="#5fa32e" />
<path d="M83.50 352.67A75.20 75.20 0 0 1 83.63 352.43L85.13 353.22A73.50 73.50 0 0 0 85.01 353.45Z" fill="#4fa235" />
<path d="M83.60 352.49A75.20 75.20 0 0 1 83.87 351.97L85.37 352.77A73.50 73.50 0 0 0 85.10 353.28Z" fill="#43a352" />
<path d="M83.84 352.02A75.20 75.20 0 0 1 84.12 351.50L85.61 352.32A73.50 73.50 0 0 0 85.34 352.82Z" fill="#3aa77c" />
<path d="M84.09 351.56A75.20 75.20 0 0 1 84.45 350.91L85.93 351.73A73.50 73.50 0 0 0 85.58 352.37Z" fill="#31a39a" />
<path d="M84.42 350.96A75.20 75.20 0 0 1 84.78 350.31L86.26 351.15A73.50 73.50 0 0 0 85.90 351.79Z" fill="#2e98ac" />
<path d="M84.75 350.37A75.20 75.20 0 0 1 85.01 349.91L86.48 350.76A73.50 73.50 0 0 0 86.23 351.21Z" fill="#2687b1" />
<path d="M78.72 353.30A79.20 79.20 0 0 1 79.88 350.95L81.39 351.74A77.50 77.50 0 0 0 80.25 354.04Z" fill="#4a6819" />
<path d="M79.85 351.01A79.20 79.20 0 0 1 79.98 350.76L81.49 351.55A77.50 77.50 0 0 0 81.36 351.80Z" fill="#3b641c" />
<path d="M79.95 350.82A79.20 79.20 0 0 1 80.09 350.57L81.59 351.36A77.50 77.50 0 0 0 81.46 351.61Z" fill="#306321" />
<path d="M80.05 350.63A79.20 79.20 0 0 1 80.34 350.08L81.84 350.88A77.50 77.50 0 0 0 81.56 351.42Z" fill="#296432" />
<path d="M80.31 350.14A79.20 79.20 0 0 1 80.61 349.60L82.10 350.41A77.50 77.50 0 0 0 81.81 350.94Z" fill="#24674c" />
<path d="M80.57 349.66A79.20 79.20 0 0 1 80.95 348.97L82.44 349.79A77.50 77.50 0 0 0 82.07 350.47Z" fill="#1e645f" />
<path d="M80.92 349.03A79.20 79.20 0 0 1 81.30 348.34L82.78 349.18A77.50 77.50 0 0 0 82.40 349.85Z" fill="#1c5d6a" />
<path d="M81.27 348.40A79.20 79.20 0 0 1 81.54 347.92L83.02 348.77A77.50 77.50 0 0 0 82.75 349.24Z" fill="#17536c" />
<path d="M78.72 353.30A79.20 79.20 0 0 1 81.54 347.92" fill="none" stroke="#0a1410" stroke-width="0.7"/>
<text transform="translate(77.82 351.94) rotate(386.1)" font-size="3.1" text-anchor="end" fill="#5c5c5c" dy="0.9">0%</text>
<text transform="translate(79.91 347.96) rotate(389.3)" font-size="3.1" text-anchor="end" fill="#5c5c5c" dy="0.9">100%</text>
<path d="M92.96 352.19A67.20 67.20 0 0 1 99.87 342.87L103.02 345.65A63.00 63.00 0 0 0 96.54 354.39Z" fill="#ecd42a" />
<path d="M96.63 354.44A62.90 62.90 0 0 1 103.09 345.72" fill="none" stroke="#1d5a3a" stroke-width="0.9"/>
<path d="M92.96 352.19L90.41 350.62" stroke="#333" stroke-width="0.45"/>
<path d="M96.22 347.38L94.61 346.19" stroke="#333" stroke-width="0.45"/>
<path d="M99.87 342.87L97.62 340.88" stroke="#333" stroke-width="0.45"/>
<path d="M86.08 348.11A75.20 75.20 0 0 1 86.42 347.57L87.86 348.47A73.50 73.50 0 0 0 87.53 349.00Z" fill="#78a92a" />
<path d="M86.38 347.62A75.20 75.20 0 0 1 87.12 346.46L88.55 347.38A73.50 73.50 0 0 0 87.82 348.52Z" fill="#5fa32e" />
<path d="M87.09 346.51A75.20 75.20 0 0 1 87.44 345.98L88.85 346.92A73.50 73.50 0 0 0 88.51 347.44Z" fill="#4fa235" />
<path d="M87.40 346.03A75.20 75.20 0 0 1 87.89 345.30L89.30 346.25A73.50 73.50 0 0 0 88.82 346.97Z" fill="#43a352" />
<path d="M87.85 345.35A75.20 75.20 0 0 1 88.35 344.62L89.75 345.59A73.50 73.50 0 0 0 89.26 346.30Z" fill="#3aa77c" />
<path d="M88.32 344.68A75.20 75.20 0 0 1 89.55 342.94L90.92 343.95A73.50 73.50 0 0 0 89.71 345.64Z" fill="#31a39a" />
<path d="M89.51 343.00A75.20 75.20 0 0 1 91.09 340.91L92.43 341.96A73.50 73.50 0 0 0 90.88 344.00Z" fill="#2e98ac" />
<path d="M91.05 340.96A75.20 75.20 0 0 1 93.97 337.47L95.24 338.60A73.50 73.50 0 0 0 92.39 342.01Z" fill="#2687b1" />
<path d="M82.67 346.02A79.20 79.20 0 0 1 83.02 345.45L84.47 346.35A77.50 77.50 0 0 0 84.12 346.91Z" fill="#4a6819" />
<path d="M82.99 345.51A79.20 79.20 0 0 1 83.77 344.28L85.19 345.20A77.50 77.50 0 0 0 84.43 346.41Z" fill="#3b641c" />
<path d="M83.73 344.34A79.20 79.20 0 0 1 84.10 343.78L85.52 344.71A77.50 77.50 0 0 0 85.16 345.26Z" fill="#306321" />
<path d="M84.06 343.83A79.20 79.20 0 0 1 84.58 343.06L85.98 344.01A77.50 77.50 0 0 0 85.48 344.77Z" fill="#296432" />
<path d="M84.54 343.12A79.20 79.20 0 0 1 85.06 342.35L86.46 343.31A77.50 77.50 0 0 0 85.95 344.07Z" fill="#24674c" />
<path d="M85.02 342.40A79.20 79.20 0 0 1 86.32 340.58L87.69 341.58A77.50 77.50 0 0 0 86.42 343.37Z" fill="#1e645f" />
<path d="M86.28 340.63A79.20 79.20 0 0 1 87.95 338.43L89.29 339.49A77.50 77.50 0 0 0 87.65 341.64Z" fill="#1c5d6a" />
<path d="M87.91 338.49A79.20 79.20 0 0 1 90.97 334.82L92.25 335.95A77.50 77.50 0 0 0 89.24 339.54Z" fill="#17536c" />
<path d="M82.67 346.02A79.20 79.20 0 0 1 90.97 334.82" fill="none" stroke="#0a1410" stroke-width="0.7"/>
<text transform="translate(81.92 344.57) rotate(392.1)" font-size="3.1" text-anchor="end" fill="#5c5c5c" dy="0.9">0%</text>
<text transform="translate(89.37 334.52) rotate(401.0)" font-size="3.1" text-anchor="end" fill="#5c5c5c" dy="0.9">100%</text>
<path d="M101.29 341.31A67.20 67.20 0 0 1 121.06 326.85L122.88 330.63A63.00 63.00 0 0 0 104.35 344.19Z" fill="#ef7030" />
<path d="M104.42 344.26A62.90 62.90 0 0 1 122.92 330.72" fill="none" stroke="#1d5a3a" stroke-width="0.9"/>
<path d="M101.29 341.31L99.11 339.26" stroke="#333" stroke-width="0.45"/>
<path d="M105.72 337.03L104.39 335.53" stroke="#333" stroke-width="0.45"/>
<path d="M110.51 333.17L108.74 330.75" stroke="#333" stroke-width="0.45"/>
<path d="M115.64 329.77L114.61 328.05" stroke="#333" stroke-width="0.45"/>
<path d="M121.06 326.85L119.76 324.14" stroke="#333" stroke-width="0.45"/>
<path d="M95.38 335.92A75.20 75.20 0 0 1 96.36 334.90L97.58 336.08A73.50 73.50 0 0 0 96.62 337.09Z" fill="#78a92a" />
<path d="M96.32 334.94A75.20 75.20 0 0 1 97.54 333.72L98.73 334.93A73.50 73.50 0 0 0 97.54 336.13Z" fill="#5fa32e" />
<path d="M97.49 333.76A75.20 75.20 0 0 1 108.87 324.58L109.80 326.00A73.50 73.50 0 0 0 98.69 334.97Z" fill="#4fa235" />
<path d="M108.81 324.62A75.20 75.20 0 0 1 110.27 323.68L111.17 325.12A73.50 73.50 0 0 0 109.75 326.03Z" fill="#43a352" />
<path d="M110.21 323.71A75.20 75.20 0 0 1 111.69 322.81L112.56 324.27A73.50 73.50 0 0 0 111.12 325.15Z" fill="#3aa77c" />
<path d="M111.64 322.84A75.20 75.20 0 0 1 114.51 321.21L115.32 322.70A73.50 73.50 0 0 0 112.51 324.30Z" fill="#31a39a" />
<path d="M114.45 321.24A75.20 75.20 0 0 1 115.99 320.43L116.76 321.95A73.50 73.50 0 0 0 115.26 322.73Z" fill="#2e98ac" />
<path d="M115.93 320.46A75.20 75.20 0 0 1 117.71 319.58L118.44 321.12A73.50 73.50 0 0 0 116.71 321.98Z" fill="#2687b1" />
<path d="M92.47 333.18A79.20 79.20 0 0 1 93.50 332.10L94.72 333.29A77.50 77.50 0 0 0 93.70 334.35Z" fill="#4a6819" />
<path d="M93.45 332.15A79.20 79.20 0 0 1 94.74 330.86L95.93 332.07A77.50 77.50 0 0 0 94.67 333.34Z" fill="#3b641c" />
<path d="M94.69 330.91A79.20 79.20 0 0 1 106.67 321.24L107.60 322.66A77.50 77.50 0 0 0 95.88 332.12Z" fill="#306321" />
<path d="M106.61 321.28A79.20 79.20 0 0 1 108.14 320.29L109.05 321.73A77.50 77.50 0 0 0 107.54 322.69Z" fill="#296432" />
<path d="M108.09 320.32A79.20 79.20 0 0 1 109.64 319.37L110.51 320.83A77.50 77.50 0 0 0 108.99 321.76Z" fill="#24674c" />
<path d="M109.58 319.41A79.20 79.20 0 0 1 112.61 317.69L113.42 319.18A77.50 77.50 0 0 0 110.46 320.87Z" fill="#1e645f" />
<path d="M112.55 317.72A79.20 79.20 0 0 1 114.17 316.87L114.94 318.38A77.50 77.50 0 0 0 113.36 319.22Z" fill="#1c5d6a" />
<path d="M114.11 316.90A79.20 79.20 0 0 1 115.98 315.97L116.71 317.51A77.50 77.50 0 0 0 114.88 318.42Z" fill="#17536c" />
<path d="M92.47 333.18A79.20 79.20 0 0 1 115.98 315.97" fill="none" stroke="#0a1410" stroke-width="0.7"/>
<text transform="translate(92.03 331.61) rotate(403.8)" font-size="3.1" text-anchor="end" fill="#5c5c5c" dy="0.9">0%</text>
<text transform="translate(114.61 315.08) rotate(423.8)" font-size="3.1" text-anchor="end" fill="#5c5c5c" dy="0.9">100%</text>
<text transform="translate(102.60 322.36) rotate(413.8)" font-size="3.1" text-anchor="end" fill="#5c5c5c" dy="0.9">50%</text>
<path d="M122.97 325.96A67.20 67.20 0 0 1 147.68 320.25L147.84 324.44A63.00 63.00 0 0 0 124.68 329.80Z" fill="#8fcf55" />
<path d="M124.72 329.89A62.90 62.90 0 0 1 147.84 324.54" fill="none" stroke="#1d5a3a" stroke-width="0.9"/>
<path d="M122.97 325.96L121.76 323.22" stroke="#333" stroke-width="0.45"/>
<path d="M128.92 323.66L128.29 321.76" stroke="#333" stroke-width="0.45"/>
<path d="M135.05 321.93L134.38 319.01" stroke="#333" stroke-width="0.45"/>
<path d="M141.33 320.79L141.06 318.81" stroke="#333" stroke-width="0.45"/>
<path d="M147.68 320.25L147.57 317.25" stroke="#333" stroke-width="0.45"/>
<path d="M119.61 318.70A75.20 75.20 0 0 1 120.47 318.33L121.14 319.89A73.50 73.50 0 0 0 120.30 320.25Z" fill="#78a92a" />
<path d="M120.41 318.35A75.20 75.20 0 0 1 121.51 317.89L122.16 319.46A73.50 73.50 0 0 0 121.08 319.91Z" fill="#5fa32e" />
<path d="M121.45 317.91A75.20 75.20 0 0 1 123.55 317.08L124.15 318.67A73.50 73.50 0 0 0 122.10 319.48Z" fill="#4fa235" />
<path d="M123.48 317.11A75.20 75.20 0 0 1 133.19 314.15L133.57 315.81A73.50 73.50 0 0 0 124.09 318.69Z" fill="#43a352" />
<path d="M133.12 314.16A75.20 75.20 0 0 1 142.61 312.58L142.78 314.28A73.50 73.50 0 0 0 133.51 315.82Z" fill="#3aa77c" />
<path d="M142.55 312.59A75.20 75.20 0 0 1 145.84 312.33L145.94 314.02A73.50 73.50 0 0 0 142.72 314.28Z" fill="#31a39a" />
<path d="M145.77 312.33A75.20 75.20 0 0 1 146.97 312.27L147.04 313.97A73.50 73.50 0 0 0 145.87 314.03Z" fill="#2e98ac" />
<path d="M146.90 312.27A75.20 75.20 0 0 1 147.51 312.25L147.57 313.95A73.50 73.50 0 0 0 146.98 313.97Z" fill="#2687b1" />
<path d="M117.99 315.05A79.20 79.20 0 0 1 118.89 314.65L119.56 316.21A77.50 77.50 0 0 0 118.68 316.60Z" fill="#4a6819" />
<path d="M118.82 314.68A79.20 79.20 0 0 1 119.99 314.19L120.64 315.76A77.50 77.50 0 0 0 119.50 316.24Z" fill="#3b641c" />
<path d="M119.92 314.22A79.20 79.20 0 0 1 122.13 313.34L122.73 314.93A77.50 77.50 0 0 0 120.57 315.79Z" fill="#306321" />
<path d="M122.06 313.37A79.20 79.20 0 0 1 132.28 310.25L132.67 311.91A77.50 77.50 0 0 0 122.67 314.96Z" fill="#296432" />
<path d="M132.22 310.27A79.20 79.20 0 0 1 142.21 308.60L142.38 310.30A77.50 77.50 0 0 0 132.60 311.92Z" fill="#24674c" />
<path d="M142.14 308.61A79.20 79.20 0 0 1 145.61 308.33L145.71 310.03A77.50 77.50 0 0 0 142.31 310.30Z" fill="#1e645f" />
<path d="M145.54 308.34A79.20 79.20 0 0 1 146.80 308.27L146.87 309.97A77.50 77.50 0 0 0 145.64 310.03Z" fill="#1c5d6a" />
<path d="M146.73 308.28A79.20 79.20 0 0 1 147.37 308.25L147.43 309.95A77.50 77.50 0 0 0 146.80 309.97Z" fill="#17536c" />
<path d="M117.99 315.05A79.20 79.20 0 0 1 147.37 308.25" fill="none" stroke="#0a1410" stroke-width="0.7"/>
<text transform="translate(118.19 313.43) rotate(426.6)" font-size="3.1" text-anchor="end" fill="#5c5c5c" dy="0.9">0%</text>
<text transform="translate(146.47 306.89) rotate(447.3)" font-size="3.1" text-anchor="end" fill="#5c5c5c" dy="0.9">100%</text>
<text transform="translate(132.03 308.87) rotate(437.0)" font-size="3.1" text-anchor="end" fill="#5c5c5c" dy="0.9">50%</text>
<text transform="translate(146.40 243.20) rotate(83.3)" font-size="7.0" font-weight="normal" text-anchor="start" fill="#0a0a0a" stroke="#0a0a0a" stroke-width="0.12" dy="2.45">Stenotrophomonas</text>
<text transform="translate(190.00 258.60) rotate(98.9)" font-size="7.05" font-weight="normal" text-anchor="start" fill="#0a0a0a" stroke="#0a0a0a" stroke-width="0.12" dy="2.47">Sphingomonas</text>
<text transform="translate(115.50 269.50) rotate(64.3)" font-size="6.9" font-weight="normal" text-anchor="start" fill="#0a0a0a" stroke="#0a0a0a" stroke-width="0.12" dy="2.42">Acidovorax</text>
<text class="serif" transform="translate(86.30 296.30) rotate(46.8)" font-size="7.0" font-weight="normal" text-anchor="start" fill="#0a0a0a" stroke="#0a0a0a" stroke-width="0.12" dy="2.45">Bacillus</text>
<text transform="translate(49.10 283.60) rotate(42.3)" font-size="6.9" font-weight="normal" text-anchor="start" fill="#0a0a0a" stroke="#0a0a0a" stroke-width="0.12" dy="2.42">Chryseobacterium</text>
<text transform="translate(32.70 311.60) rotate(30.8)" font-size="6.9" font-weight="normal" text-anchor="start" fill="#0a0a0a" stroke="#0a0a0a" stroke-width="0.12" dy="2.42">Curtobacterium</text>
<text transform="translate(65.10 355.50) rotate(15.3)" font-size="6.9" font-weight="normal" text-anchor="end" fill="#0a0a0a" stroke="#0a0a0a" stroke-width="0.12" dy="2.42">Exiguobacterium</text>
<text class="serif" transform="translate(222.00 336.30) rotate(-34.6)" font-size="7.15" font-weight="normal" text-anchor="start" fill="#0a0a0a" stroke="#0a0a0a" stroke-width="0.12" dy="2.50">Pseudomonas</text>
<text class="serif" transform="translate(235.90 368.80) rotate(-15.3)" font-size="7.3" font-weight="normal" text-anchor="start" fill="#0a0a0a" stroke="#0a0a0a" stroke-width="0.12" dy="2.55">Pantoea</text>
<text class="serif" transform="translate(238.70 393.20) rotate(9.0)" font-size="7.1" font-weight="normal" text-anchor="start" fill="#0a0a0a" stroke="#0a0a0a" stroke-width="0.12" dy="2.48">Microbacterium</text>
<text transform="translate(53.10 380.50) rotate(-90.0)" font-size="6.6" font-weight="bold" text-anchor="middle" fill="#0a0a0a" stroke="#0a0a0a" stroke-width="0.12" dy="2.31">NC</text>
<text transform="translate(63.50 418.00) rotate(62.0)" font-size="6.8" font-weight="normal" text-anchor="middle" fill="#0a0a0a" stroke="#0a0a0a" stroke-width="0.12" dy="2.38">NE</text>
<text transform="translate(82.70 449.40) rotate(45.0)" font-size="7.0" font-weight="normal" text-anchor="middle" fill="#0a0a0a" stroke="#0a0a0a" stroke-width="0.12" dy="2.45">MO2</text>
<text transform="translate(108.40 469.40) rotate(30.0)" font-size="7.0" font-weight="normal" text-anchor="middle" fill="#0a0a0a" stroke="#0a0a0a" stroke-width="0.12" dy="2.45">MO3</text>
<text transform="translate(141.50 478.60) rotate(3.0)" font-size="7.0" font-weight="normal" text-anchor="middle" fill="#0a0a0a" stroke="#0a0a0a" stroke-width="0.12" dy="2.45">MO4</text>
<text transform="translate(180.00 472.70) rotate(-20.0)" font-size="7.0" font-weight="normal" text-anchor="middle" fill="#0a0a0a" stroke="#0a0a0a" stroke-width="0.12" dy="2.45">MO5</text>
<text transform="translate(210.80 454.70) rotate(-42.0)" font-size="7.0" font-weight="normal" text-anchor="middle" fill="#0a0a0a" stroke="#0a0a0a" stroke-width="0.12" dy="2.45">MO6</text>
<text transform="translate(233.70 426.80) rotate(-65.0)" font-size="7.0" font-weight="normal" text-anchor="middle" fill="#0a0a0a" stroke="#0a0a0a" stroke-width="0.12" dy="2.45">MO7</text>
</g>
<g id="panelD">
<g>
<path d="M452.70 358.78A62.70 62.70 0 0 1 453.16 360.24Q394.35 380.19 351.86 425.48A62.70 62.70 0 0 1 350.96 424.68Q393.89 379.47 452.70 358.78Z" fill="#4fc4e6" fill-opacity="0.7200000000000001" stroke="#fff" stroke-width="0.18" stroke-opacity="0.6"/>
<path d="M451.69 355.92A62.70 62.70 0 0 1 452.11 357.06Q393.24 374.04 335.58 353.29A62.70 62.70 0 0 1 335.96 352.44Q393.25 373.13 451.69 355.92Z" fill="#4fc4e6" fill-opacity="0.7200000000000001" stroke="#fff" stroke-width="0.18" stroke-opacity="0.6"/>
<path d="M451.36 355.07A62.70 62.70 0 0 1 451.69 355.92Q395.01 368.51 347.26 335.47A62.70 62.70 0 0 1 347.77 334.94Q395.15 367.68 451.36 355.07Z" fill="#4fc4e6" fill-opacity="0.7200000000000001" stroke="#fff" stroke-width="0.18" stroke-opacity="0.6"/>
<path d="M452.11 357.06A62.70 62.70 0 0 1 452.41 357.92Q393.03 377.75 330.52 374.34A62.70 62.70 0 0 1 330.57 373.61Q392.98 377.36 452.11 357.06Z" fill="#4fc4e6" fill-opacity="0.7200000000000001" stroke="#fff" stroke-width="0.18" stroke-opacity="0.6"/>
<path d="M452.41 357.92A62.70 62.70 0 0 1 452.70 358.78Q393.12 378.29 334.33 400.09A62.70 62.70 0 0 1 334.06 399.37Q393.08 378.21 452.41 357.92Z" fill="#4fc4e6" fill-opacity="0.7200000000000001" stroke="#fff" stroke-width="0.18" stroke-opacity="0.6"/>
<path d="M455.69 374.58A62.70 62.70 0 0 1 455.73 375.19Q411.84 392.35 407.49 439.28A62.70 62.70 0 0 1 407.04 439.38Q411.41 392.00 455.69 374.58Z" fill="#4fc4e6" fill-opacity="0.7200000000000001" stroke="#fff" stroke-width="0.18" stroke-opacity="0.6"/>
<path d="M447.18 409.98A62.70 62.70 0 0 1 446.55 411.03Q393.01 378.37 345.79 337.10A62.70 62.70 0 0 1 346.44 336.37Q393.19 378.13 447.18 409.98Z" fill="#419ce0" fill-opacity="0.7200000000000001" stroke="#fff" stroke-width="0.18" stroke-opacity="0.6"/>
<path d="M444.53 414.12A62.70 62.70 0 0 1 443.82 415.12Q396.97 398.65 359.43 431.14A62.70 62.70 0 0 1 358.61 430.61Q396.80 397.53 444.53 414.12Z" fill="#419ce0" fill-opacity="0.7200000000000001" stroke="#fff" stroke-width="0.18" stroke-opacity="0.6"/>
<path d="M446.55 411.03A62.70 62.70 0 0 1 446.06 411.81Q393.05 378.35 334.45 356.08A62.70 62.70 0 0 1 334.70 355.43Q393.15 378.15 446.55 411.03Z" fill="#419ce0" fill-opacity="0.7200000000000001" stroke="#fff" stroke-width="0.18" stroke-opacity="0.6"/>
<path d="M446.06 411.81A62.70 62.70 0 0 1 445.56 412.59Q392.40 380.62 330.40 378.52A62.70 62.70 0 0 1 330.40 377.78Q392.55 380.10 446.06 411.81Z" fill="#419ce0" fill-opacity="0.7200000000000001" stroke="#fff" stroke-width="0.18" stroke-opacity="0.6"/>
<path d="M438.08 421.93A62.70 62.70 0 0 1 437.44 422.59Q418.55 419.30 413.09 437.68A62.70 62.70 0 0 1 412.43 437.90Q418.18 418.55 438.08 421.93Z" fill="#419ce0" fill-opacity="0.7200000000000001" stroke="#fff" stroke-width="0.18" stroke-opacity="0.6"/>
<path d="M428.31 430.13A62.70 62.70 0 0 1 427.25 430.83Q417.61 427.79 414.19 437.30A62.70 62.70 0 0 1 413.09 437.68Q417.10 426.64 428.31 430.13Z" fill="#42c0e0" fill-opacity="0.7200000000000001" stroke="#fff" stroke-width="0.18" stroke-opacity="0.6"/>
<path d="M434.73 425.13A62.70 62.70 0 0 1 433.97 425.80Q390.46 384.16 330.41 379.50A62.70 62.70 0 0 1 330.40 378.52Q390.84 383.31 434.73 425.13Z" fill="#42c0e0" fill-opacity="0.7200000000000001" stroke="#fff" stroke-width="0.18" stroke-opacity="0.6"/>
<path d="M435.86 424.11A62.70 62.70 0 0 1 435.30 424.62Q393.05 378.30 345.31 337.66A62.70 62.70 0 0 1 345.79 337.10Q393.15 378.20 435.86 424.11Z" fill="#42c0e0" fill-opacity="0.7200000000000001" stroke="#fff" stroke-width="0.18" stroke-opacity="0.6"/>
<path d="M435.30 424.62A62.70 62.70 0 0 1 434.73 425.13Q392.24 379.52 334.21 356.73A62.70 62.70 0 0 1 334.45 356.08Q392.47 379.18 435.30 424.62Z" fill="#42c0e0" fill-opacity="0.7200000000000001" stroke="#fff" stroke-width="0.18" stroke-opacity="0.6"/>
<path d="M432.20 427.26A62.70 62.70 0 0 1 431.80 427.58Q390.88 397.73 344.30 417.62A62.70 62.70 0 0 1 343.97 417.21Q390.94 397.19 432.20 427.26Z" fill="#42c0e0" fill-opacity="0.7200000000000001" stroke="#fff" stroke-width="0.18" stroke-opacity="0.6"/>
<path d="M428.52 429.99A62.70 62.70 0 0 1 428.31 430.13Q404.06 419.04 388.64 440.79A62.70 62.70 0 0 1 388.38 440.77Q403.99 418.78 428.52 429.99Z" fill="#42c0e0" fill-opacity="0.7200000000000001" stroke="#fff" stroke-width="0.18" stroke-opacity="0.6"/>
<path d="M455.14 387.30A62.70 62.70 0 0 1 455.02 388.08Q394.01 376.34 346.44 336.37A62.70 62.70 0 0 1 346.93 335.83Q394.23 375.88 455.14 387.30Z" fill="#5560c2" fill-opacity="0.7200000000000001" stroke="#fff" stroke-width="0.18" stroke-opacity="0.6"/>
<path d="M449.57 405.51A62.70 62.70 0 0 1 449.45 405.74Q404.34 400.85 381.00 439.77A62.70 62.70 0 0 1 380.75 439.72Q404.22 400.61 449.57 405.51Z" fill="#5560c2" fill-opacity="0.7200000000000001" stroke="#fff" stroke-width="0.18" stroke-opacity="0.6"/>
<path d="M455.80 378.67A62.70 62.70 0 0 1 455.78 379.96Q393.10 378.33 330.45 375.82A62.70 62.70 0 0 1 330.52 374.34Q393.10 378.17 455.80 378.67Z" fill="#5852b8" fill-opacity="0.7200000000000001" stroke="#fff" stroke-width="0.18" stroke-opacity="0.6"/>
<path d="M455.75 380.83A62.70 62.70 0 0 1 455.69 381.90Q395.99 384.95 352.78 426.27A62.70 62.70 0 0 1 351.86 425.48Q395.54 383.92 455.75 380.83Z" fill="#5852b8" fill-opacity="0.7200000000000001" stroke="#fff" stroke-width="0.18" stroke-opacity="0.6"/>
<path d="M455.80 377.81A62.70 62.70 0 0 1 455.80 378.67Q393.19 377.80 335.22 354.14A62.70 62.70 0 0 1 335.58 353.29Q393.28 377.38 455.80 377.81Z" fill="#5852b8" fill-opacity="0.7200000000000001" stroke="#fff" stroke-width="0.18" stroke-opacity="0.6"/>
<path d="M455.78 379.96A62.70 62.70 0 0 1 455.75 380.83Q393.24 379.11 334.69 401.05A62.70 62.70 0 0 1 334.33 400.09Q393.17 378.67 455.78 379.96Z" fill="#5852b8" fill-opacity="0.7200000000000001" stroke="#fff" stroke-width="0.18" stroke-opacity="0.6"/>
<path d="M455.69 381.90A62.70 62.70 0 0 1 455.65 382.55Q403.15 391.42 380.75 439.72A62.70 62.70 0 0 1 380.00 439.57Q402.69 390.84 455.69 381.90Z" fill="#5852b8" fill-opacity="0.7200000000000001" stroke="#fff" stroke-width="0.18" stroke-opacity="0.6"/>
<path d="M455.79 377.37A62.70 62.70 0 0 1 455.80 377.81Q394.64 374.25 346.93 335.83A62.70 62.70 0 0 1 347.26 335.47Q394.78 373.89 455.79 377.37Z" fill="#5852b8" fill-opacity="0.7200000000000001" stroke="#fff" stroke-width="0.18" stroke-opacity="0.6"/>
<path d="M389.19 315.67A62.70 62.70 0 0 1 389.77 315.64Q391.42 377.89 364.26 433.92A62.70 62.70 0 0 1 363.83 433.70Q391.10 377.82 389.19 315.67Z" fill="#93d05a" fill-opacity="0.7200000000000001" stroke="#fff" stroke-width="0.18" stroke-opacity="0.6"/>
<path d="M389.77 315.64A62.70 62.70 0 0 1 390.34 315.61Q393.15 378.25 390.69 440.90A62.70 62.70 0 0 1 390.18 440.88Q393.05 378.25 389.77 315.64Z" fill="#93d05a" fill-opacity="0.7200000000000001" stroke="#fff" stroke-width="0.18" stroke-opacity="0.6"/>
<path d="M390.34 315.61A62.70 62.70 0 0 1 390.91 315.59Q393.45 378.18 416.16 436.56A62.70 62.70 0 0 1 415.72 436.73Q393.24 378.22 390.34 315.61Z" fill="#93d05a" fill-opacity="0.7200000000000001" stroke="#fff" stroke-width="0.18" stroke-opacity="0.6"/>
<path d="M419.40 321.33A62.70 62.70 0 0 1 419.80 321.52Q388.84 372.82 331.65 390.72A62.70 62.70 0 0 1 331.55 390.21Q388.55 372.44 419.40 321.33Z" fill="#bd58be" fill-opacity="0.7200000000000001" stroke="#fff" stroke-width="0.18" stroke-opacity="0.6"/>
<path d="M419.99 321.61A62.70 62.70 0 0 1 420.39 321.80Q393.12 378.26 367.80 435.62A62.70 62.70 0 0 1 367.33 435.41Q393.08 378.24 419.99 321.61Z" fill="#bd58be" fill-opacity="0.7200000000000001" stroke="#fff" stroke-width="0.18" stroke-opacity="0.6"/>
<path d="M419.80 321.52A62.70 62.70 0 0 1 419.99 321.61Q392.54 377.83 345.87 419.49A62.70 62.70 0 0 1 345.71 419.30Q392.45 377.76 419.80 321.52Z" fill="#bd58be" fill-opacity="0.7200000000000001" stroke="#fff" stroke-width="0.18" stroke-opacity="0.6"/>
<path d="M420.39 321.80A62.70 62.70 0 0 1 420.59 321.90Q394.29 378.52 393.88 440.95A62.70 62.70 0 0 1 393.65 440.95Q394.17 378.49 420.39 321.80Z" fill="#bd58be" fill-opacity="0.7200000000000001" stroke="#fff" stroke-width="0.18" stroke-opacity="0.6"/>
<path d="M422.54 322.89A62.70 62.70 0 0 1 423.52 323.42Q389.35 353.55 347.77 334.94A62.70 62.70 0 0 1 348.45 334.23Q389.16 352.48 422.54 322.89Z" fill="#f2ed68" fill-opacity="0.7200000000000001" stroke="#fff" stroke-width="0.18" stroke-opacity="0.6"/>
<path d="M435.91 332.44A62.70 62.70 0 0 1 436.32 332.83Q393.15 378.30 342.69 415.53A62.70 62.70 0 0 1 342.37 415.10Q393.05 378.20 435.91 332.44Z" fill="#f2ed68" fill-opacity="0.7200000000000001" stroke="#fff" stroke-width="0.18" stroke-opacity="0.6"/>
<path d="M441.99 338.99A62.70 62.70 0 0 1 442.34 339.43Q394.31 379.18 368.27 435.83A62.70 62.70 0 0 1 367.80 435.62Q394.07 379.00 441.99 338.99Z" fill="#f2ed68" fill-opacity="0.7200000000000001" stroke="#fff" stroke-width="0.18" stroke-opacity="0.6"/>
<path d="M369.12 320.32A62.70 62.70 0 0 1 370.41 319.80Q378.51 373.22 339.20 410.27A62.70 62.70 0 0 1 338.55 409.16Q377.20 372.78 369.12 320.32Z" fill="#ef7434" fill-opacity="0.7200000000000001" stroke="#fff" stroke-width="0.18" stroke-opacity="0.6"/>
<path d="M367.07 321.21A62.70 62.70 0 0 1 368.09 320.76Q365.48 352.71 333.82 357.82A62.70 62.70 0 0 1 334.13 356.94Q364.66 352.04 367.07 321.21Z" fill="#ef7434" fill-opacity="0.7200000000000001" stroke="#fff" stroke-width="0.18" stroke-opacity="0.6"/>
<path d="M368.09 320.76A62.70 62.70 0 0 1 369.12 320.32Q370.11 363.60 330.46 380.97A62.70 62.70 0 0 1 330.42 379.99Q369.18 363.04 368.09 320.76Z" fill="#ef7434" fill-opacity="0.7200000000000001" stroke="#fff" stroke-width="0.18" stroke-opacity="0.6"/>
<path d="M370.41 319.80A62.70 62.70 0 0 1 371.46 319.40Q387.74 377.89 363.83 433.70A62.70 62.70 0 0 1 362.97 433.24Q386.77 377.83 370.41 319.80Z" fill="#ef7434" fill-opacity="0.7200000000000001" stroke="#fff" stroke-width="0.18" stroke-opacity="0.6"/>
<path d="M371.46 319.40A62.70 62.70 0 0 1 372.51 319.03Q392.71 378.31 390.18 440.88A62.70 62.70 0 0 1 389.15 440.83Q392.21 378.38 371.46 319.40Z" fill="#ef7434" fill-opacity="0.7200000000000001" stroke="#fff" stroke-width="0.18" stroke-opacity="0.6"/>
<path d="M366.30 321.56A62.70 62.70 0 0 1 367.07 321.21Q363.91 334.92 350.02 332.69A62.70 62.70 0 0 1 350.56 332.19Q363.42 334.27 366.30 321.56Z" fill="#ef7434" fill-opacity="0.7200000000000001" stroke="#fff" stroke-width="0.18" stroke-opacity="0.6"/>
<path d="M372.51 319.03A62.70 62.70 0 0 1 373.31 318.76Q393.14 378.23 415.72 436.73A62.70 62.70 0 0 1 415.07 436.98Q393.06 378.27 372.51 319.03Z" fill="#ef7434" fill-opacity="0.7200000000000001" stroke="#fff" stroke-width="0.18" stroke-opacity="0.6"/>
<path d="M419.38 435.18A62.70 62.70 0 0 1 418.60 435.53Q416.10 434.45 415.07 436.98A62.70 62.70 0 0 1 414.19 437.30Q415.71 433.61 419.38 435.18Z" fill="#52c6be" fill-opacity="0.7200000000000001" stroke="#fff" stroke-width="0.18" stroke-opacity="0.6"/>
<path d="M420.72 434.54A62.70 62.70 0 0 1 420.34 434.72Q387.47 387.50 330.42 379.99A62.70 62.70 0 0 1 330.41 379.50Q387.71 387.09 420.72 434.54Z" fill="#52c6be" fill-opacity="0.7200000000000001" stroke="#fff" stroke-width="0.18" stroke-opacity="0.6"/>
<path d="M420.34 434.72A62.70 62.70 0 0 1 419.96 434.91Q386.79 398.19 338.55 409.16A62.70 62.70 0 0 1 338.30 408.72Q386.93 397.73 420.34 434.72Z" fill="#52c6be" fill-opacity="0.7200000000000001" stroke="#fff" stroke-width="0.18" stroke-opacity="0.6"/>
<path d="M419.76 435.00A62.70 62.70 0 0 1 419.38 435.18Q401.78 424.70 389.15 440.83A62.70 62.70 0 0 1 388.64 440.79Q401.66 424.23 419.76 435.00Z" fill="#52c6be" fill-opacity="0.7200000000000001" stroke="#fff" stroke-width="0.18" stroke-opacity="0.6"/>
<path d="M420.91 434.44A62.70 62.70 0 0 1 420.72 434.54Q389.99 381.72 334.13 356.94A62.70 62.70 0 0 1 334.21 356.73Q390.11 381.58 420.91 434.44Z" fill="#52c6be" fill-opacity="0.7200000000000001" stroke="#fff" stroke-width="0.18" stroke-opacity="0.6"/>
<path d="M419.96 434.91A62.70 62.70 0 0 1 419.76 435.00Q392.03 412.90 362.97 433.24A62.70 62.70 0 0 1 362.76 433.12Q392.03 412.67 419.96 434.91Z" fill="#52c6be" fill-opacity="0.7200000000000001" stroke="#fff" stroke-width="0.18" stroke-opacity="0.6"/>
<path d="M453.16 360.24A62.70 62.70 0 0 1 455.69 374.58Q403.89 390.81 380.00 439.57A62.70 62.70 0 0 1 368.27 435.83Q394.88 380.25 453.16 360.24Z" fill="#4fc4e6" fill-opacity="0.9" stroke="#fff" stroke-width="0.18" stroke-opacity="0.6"/>
<path d="M443.82 415.12A62.70 62.70 0 0 1 438.08 421.93Q406.26 412.97 388.38 440.77A62.70 62.70 0 0 1 381.00 439.77Q403.58 404.96 443.82 415.12Z" fill="#419ce0" fill-opacity="0.9" stroke="#fff" stroke-width="0.18" stroke-opacity="0.6"/>
<path d="M445.56 412.59A62.70 62.70 0 0 1 444.53 414.12Q392.42 388.12 337.21 406.68A62.70 62.70 0 0 1 336.53 405.29Q392.56 386.38 445.56 412.59Z" fill="#419ce0" fill-opacity="0.9" stroke="#fff" stroke-width="0.18" stroke-opacity="0.6"/>
<path d="M431.80 427.58A62.70 62.70 0 0 1 428.52 429.99Q394.56 408.98 362.76 433.12A62.70 62.70 0 0 1 359.43 431.14Q394.41 404.88 431.80 427.58Z" fill="#42c0e0" fill-opacity="0.9" stroke="#fff" stroke-width="0.18" stroke-opacity="0.6"/>
<path d="M433.97 425.80A62.70 62.70 0 0 1 432.20 427.26Q389.98 394.06 338.30 408.72A62.70 62.70 0 0 1 337.21 406.68Q390.43 391.73 433.97 425.80Z" fill="#42c0e0" fill-opacity="0.9" stroke="#fff" stroke-width="0.18" stroke-opacity="0.6"/>
<path d="M452.53 398.24A62.70 62.70 0 0 1 449.57 405.51Q397.84 395.42 358.61 430.61A62.70 62.70 0 0 1 352.78 426.27Q395.81 387.89 452.53 398.24Z" fill="#5560c2" fill-opacity="0.9" stroke="#fff" stroke-width="0.18" stroke-opacity="0.6"/>
<path d="M454.34 391.68A62.70 62.70 0 0 1 453.16 396.24Q393.49 383.21 336.53 405.29A62.70 62.70 0 0 1 334.69 401.05Q393.22 379.78 454.34 391.68Z" fill="#5560c2" fill-opacity="0.9" stroke="#fff" stroke-width="0.18" stroke-opacity="0.6"/>
<path d="M449.45 405.74A62.70 62.70 0 0 1 448.25 408.07Q418.52 408.78 412.43 437.90A62.70 62.70 0 0 1 410.20 438.57Q416.95 406.76 449.45 405.74Z" fill="#5560c2" fill-opacity="0.9" stroke="#fff" stroke-width="0.18" stroke-opacity="0.6"/>
<path d="M454.76 389.63A62.70 62.70 0 0 1 454.34 391.68Q393.07 378.51 330.40 377.78A62.70 62.70 0 0 1 330.45 375.82Q393.13 377.99 454.76 389.63Z" fill="#5560c2" fill-opacity="0.9" stroke="#fff" stroke-width="0.18" stroke-opacity="0.6"/>
<path d="M453.16 396.24A62.70 62.70 0 0 1 452.53 398.24Q394.58 386.71 343.97 417.21A62.70 62.70 0 0 1 342.69 415.53Q394.20 384.58 453.16 396.24Z" fill="#5560c2" fill-opacity="0.9" stroke="#fff" stroke-width="0.18" stroke-opacity="0.6"/>
<path d="M455.02 388.08A62.70 62.70 0 0 1 454.76 389.63Q393.04 378.46 334.70 355.43A62.70 62.70 0 0 1 335.22 354.14Q393.16 378.04 455.02 388.08Z" fill="#5560c2" fill-opacity="0.9" stroke="#fff" stroke-width="0.18" stroke-opacity="0.6"/>
<path d="M455.65 382.55A62.70 62.70 0 0 1 455.42 385.13Q414.96 396.75 410.20 438.57A62.70 62.70 0 0 1 407.49 439.28Q412.81 394.99 455.65 382.55Z" fill="#5852b8" fill-opacity="0.9" stroke="#fff" stroke-width="0.18" stroke-opacity="0.6"/>
<path d="M382.09 316.52A62.70 62.70 0 0 1 387.48 315.80Q379.30 367.05 330.84 385.63A62.70 62.70 0 0 1 330.46 380.97Q375.16 363.88 382.09 316.52Z" fill="#93d05a" fill-opacity="0.9" stroke="#fff" stroke-width="0.18" stroke-opacity="0.6"/>
<path d="M377.89 317.42A62.70 62.70 0 0 1 382.09 316.52Q373.24 356.30 332.78 361.13A62.70 62.70 0 0 1 333.82 357.82Q370.39 353.47 377.89 317.42Z" fill="#93d05a" fill-opacity="0.9" stroke="#fff" stroke-width="0.18" stroke-opacity="0.6"/>
<path d="M375.40 318.10A62.70 62.70 0 0 1 377.89 317.42Q370.49 338.66 348.45 334.23A62.70 62.70 0 0 1 350.02 332.69Q369.14 336.59 375.40 318.10Z" fill="#93d05a" fill-opacity="0.9" stroke="#fff" stroke-width="0.18" stroke-opacity="0.6"/>
<path d="M387.48 315.80A62.70 62.70 0 0 1 389.19 315.67Q385.11 374.15 340.00 411.59A62.70 62.70 0 0 1 339.20 410.27Q383.61 373.40 387.48 315.80Z" fill="#93d05a" fill-opacity="0.9" stroke="#fff" stroke-width="0.18" stroke-opacity="0.6"/>
<path d="M402.91 316.32A62.70 62.70 0 0 1 413.93 319.11Q385.44 359.57 336.75 350.76A62.70 62.70 0 0 1 343.03 340.52Q381.01 348.33 402.91 316.32Z" fill="#bd58be" fill-opacity="0.9" stroke="#fff" stroke-width="0.18" stroke-opacity="0.6"/>
<path d="M393.10 315.55A62.70 62.70 0 0 1 402.91 316.32Q383.90 341.85 355.05 328.41A62.70 62.70 0 0 1 364.34 322.53Q381.70 331.31 393.10 315.55Z" fill="#bd58be" fill-opacity="0.9" stroke="#fff" stroke-width="0.18" stroke-opacity="0.6"/>
<path d="M413.93 319.11A62.70 62.70 0 0 1 419.40 321.33Q387.50 368.19 330.86 370.68A62.70 62.70 0 0 1 332.01 364.15Q384.44 362.49 413.93 319.11Z" fill="#bd58be" fill-opacity="0.9" stroke="#fff" stroke-width="0.18" stroke-opacity="0.6"/>
<path d="M442.34 339.43A62.70 62.70 0 0 1 450.51 353.05Q409.39 386.45 407.04 439.38A62.70 62.70 0 0 1 393.88 440.95Q395.97 379.62 442.34 339.43Z" fill="#f2ed68" fill-opacity="0.9" stroke="#fff" stroke-width="0.18" stroke-opacity="0.6"/>
<path d="M428.28 326.35A62.70 62.70 0 0 1 435.91 332.44Q393.36 378.65 334.06 399.37A62.70 62.70 0 0 1 331.65 390.72Q389.72 373.17 428.28 326.35Z" fill="#f2ed68" fill-opacity="0.9" stroke="#fff" stroke-width="0.18" stroke-opacity="0.6"/>
<path d="M436.32 332.83A62.70 62.70 0 0 1 441.99 338.99Q393.24 378.40 350.96 424.68A62.70 62.70 0 0 1 345.87 419.49Q393.25 378.40 436.32 332.83Z" fill="#f2ed68" fill-opacity="0.9" stroke="#fff" stroke-width="0.18" stroke-opacity="0.6"/>
<path d="M425.45 324.54A62.70 62.70 0 0 1 428.28 326.35Q389.52 370.86 330.57 373.61A62.70 62.70 0 0 1 330.86 370.68Q388.08 367.95 425.45 324.54Z" fill="#f2ed68" fill-opacity="0.9" stroke="#fff" stroke-width="0.18" stroke-opacity="0.6"/>
<path d="M423.52 323.42A62.70 62.70 0 0 1 425.45 324.54Q388.25 362.68 335.96 352.44A62.70 62.70 0 0 1 336.75 350.76Q387.56 360.68 423.52 323.42Z" fill="#f2ed68" fill-opacity="0.9" stroke="#fff" stroke-width="0.18" stroke-opacity="0.6"/>
<path d="M425.39 431.99A62.70 62.70 0 0 1 420.91 434.44Q392.46 378.69 350.56 332.19A62.70 62.70 0 0 1 355.05 328.41Q393.74 377.82 425.39 431.99Z" fill="#52c6be" fill-opacity="0.9" stroke="#fff" stroke-width="0.18" stroke-opacity="0.6"/>
</g>
<path d="M392.98 310.85A67.40 67.40 0 0 1 422.75 317.72L420.77 321.76A62.90 62.90 0 0 0 392.99 315.35Z" fill="#bd55bf" />
<path d="M392.99 315.35A62.90 62.90 0 0 1 420.77 321.76" fill="none" stroke="#111" stroke-width="0.8"/>
<path d="M392.98 310.85A67.40 67.40 0 0 1 422.75 317.72" fill="none" stroke="#111" stroke-width="0.8"/>
<path d="M392.98 310.85L392.98 307.85" stroke="#333" stroke-width="0.45"/>
<path d="M399.14 311.12L399.32 309.13" stroke="#333" stroke-width="0.45"/>
<path d="M405.24 311.95L405.78 309.00" stroke="#333" stroke-width="0.45"/>
<path d="M411.25 313.34L411.79 311.41" stroke="#333" stroke-width="0.45"/>
<path d="M417.10 315.27L418.17 312.46" stroke="#333" stroke-width="0.45"/>
<path d="M422.75 317.72L423.63 315.93" stroke="#333" stroke-width="0.45"/>
<path d="M392.84 304.35A73.90 73.90 0 0 1 404.51 305.24L404.22 307.11A72.00 72.00 0 0 0 392.85 306.25Z" fill="#e49829" />
<path d="M404.45 305.23A73.90 73.90 0 0 1 417.54 308.51L416.91 310.30A72.00 72.00 0 0 0 404.16 307.10Z" fill="#dccb26" />
<path d="M417.48 308.49A73.90 73.90 0 0 1 424.04 311.14L423.25 312.87A72.00 72.00 0 0 0 416.85 310.28Z" fill="#bad12d" />
<path d="M423.99 311.11A73.90 73.90 0 0 1 424.58 311.39L423.77 313.11A72.00 72.00 0 0 0 423.19 312.84Z" fill="#97cd31" />
<path d="M424.52 311.36A73.90 73.90 0 0 1 424.65 311.42L423.84 313.14A72.00 72.00 0 0 0 423.71 313.08Z" fill="#53be37" />
<path d="M424.59 311.40A73.90 73.90 0 0 1 424.95 311.57L424.13 313.28A72.00 72.00 0 0 0 423.78 313.11Z" fill="#64c53f" />
<path d="M424.89 311.54A73.90 73.90 0 0 1 425.48 311.82L424.65 313.53A72.00 72.00 0 0 0 424.08 313.25Z" fill="#51c75f" />
<path d="M425.43 311.80A73.90 73.90 0 0 1 425.73 311.94L424.89 313.65A72.00 72.00 0 0 0 424.60 313.50Z" fill="#4aca86" />
<path d="M392.83 300.35A77.90 77.90 0 0 1 393.25 300.35L393.24 302.55A75.70 75.70 0 0 0 392.84 302.55Z" fill="#3fae74" />
<path d="M393.18 300.35A77.90 77.90 0 0 1 393.87 300.35L393.85 302.55A75.70 75.70 0 0 0 393.18 302.55Z" fill="#46ac52" />
<path d="M393.80 300.35A77.90 77.90 0 0 1 394.22 300.36L394.19 302.56A75.70 75.70 0 0 0 393.78 302.55Z" fill="#56aa36" />
<path d="M394.16 300.36A77.90 77.90 0 0 1 394.31 300.36L394.27 302.56A75.70 75.70 0 0 0 394.13 302.56Z" fill="#48a42f" />
<path d="M394.24 300.36A77.90 77.90 0 0 1 394.93 300.37L394.88 302.57A75.70 75.70 0 0 0 394.21 302.56Z" fill="#82b12a" />
<path d="M394.86 300.37A77.90 77.90 0 0 1 402.31 300.90L402.05 303.08A75.70 75.70 0 0 0 394.81 302.57Z" fill="#a0b427" />
<path d="M402.24 300.89A77.90 77.90 0 0 1 416.16 303.84L415.51 305.94A75.70 75.70 0 0 0 401.98 303.07Z" fill="#beaf20" />
<path d="M416.09 303.82A77.90 77.90 0 0 1 427.49 308.35L426.52 310.33A75.70 75.70 0 0 0 415.44 305.92Z" fill="#c48324" />
<path d="M392.83 300.35A77.90 77.90 0 0 1 427.49 308.35" fill="none" stroke="#101010" stroke-width="0.95"/>
<text transform="translate(393.65 299.05) rotate(-89.6)" font-size="3.1" text-anchor="start" fill="#5c5c5c" dy="0.9">0%</text>
<text transform="translate(427.32 306.82) rotate(-64.4)" font-size="3.1" text-anchor="start" fill="#5c5c5c" dy="0.9">100%</text>
<text transform="translate(410.92 301.08) rotate(-77.0)" font-size="3.1" text-anchor="start" fill="#5c5c5c" dy="0.9">50%</text>
<path d="M424.64 318.68A67.40 67.40 0 0 1 454.86 351.27L450.74 353.07A62.90 62.90 0 0 0 422.53 322.66Z" fill="#f1ee6e" />
<path d="M422.53 322.66A62.90 62.90 0 0 1 450.74 353.07" fill="none" stroke="#111" stroke-width="0.8"/>
<path d="M424.64 318.68A67.40 67.40 0 0 1 454.86 351.27" fill="none" stroke="#111" stroke-width="0.8"/>
<path d="M424.64 318.68L426.04 316.03" stroke="#333" stroke-width="0.45"/>
<path d="M430.20 321.98L431.30 320.31" stroke="#333" stroke-width="0.45"/>
<path d="M435.42 325.80L437.31 323.46" stroke="#333" stroke-width="0.45"/>
<path d="M440.26 330.09L441.66 328.67" stroke="#333" stroke-width="0.45"/>
<path d="M444.66 334.84L446.95 332.90" stroke="#333" stroke-width="0.45"/>
<path d="M448.58 339.98L450.23 338.84" stroke="#333" stroke-width="0.45"/>
<path d="M451.99 345.47L454.61 344.01" stroke="#333" stroke-width="0.45"/>
<path d="M454.86 351.27L456.70 350.47" stroke="#333" stroke-width="0.45"/>
<path d="M427.57 312.88A73.90 73.90 0 0 1 428.86 313.58L427.94 315.24A72.00 72.00 0 0 0 426.68 314.56Z" fill="#e49829" />
<path d="M428.81 313.55A73.90 73.90 0 0 1 431.22 314.94L430.24 316.57A72.00 72.00 0 0 0 427.89 315.21Z" fill="#dccb26" />
<path d="M431.16 314.91A73.90 73.90 0 0 1 434.61 317.11L433.54 318.68A72.00 72.00 0 0 0 430.18 316.53Z" fill="#bad12d" />
<path d="M434.56 317.07A73.90 73.90 0 0 1 443.63 324.32L442.33 325.71A72.00 72.00 0 0 0 433.49 318.65Z" fill="#97cd31" />
<path d="M443.58 324.28A73.90 73.90 0 0 1 444.18 324.84L442.86 326.21A72.00 72.00 0 0 0 442.28 325.67Z" fill="#53be37" />
<path d="M444.13 324.80A73.90 73.90 0 0 1 450.87 332.16L449.38 333.35A72.00 72.00 0 0 0 442.82 326.17Z" fill="#64c53f" />
<path d="M450.83 332.11A73.90 73.90 0 0 1 451.33 332.75L449.84 333.92A72.00 72.00 0 0 0 449.34 333.30Z" fill="#51c75f" />
<path d="M451.29 332.70A73.90 73.90 0 0 1 460.87 348.78L459.13 349.54A72.00 72.00 0 0 0 449.80 333.87Z" fill="#4aca86" />
<path d="M429.43 309.34A77.90 77.90 0 0 1 445.63 320.72L444.15 322.35A75.70 75.70 0 0 0 428.41 311.29Z" fill="#3fae74" />
<path d="M445.58 320.68A77.90 77.90 0 0 1 446.21 321.26L444.71 322.87A75.70 75.70 0 0 0 444.10 322.30Z" fill="#46ac52" />
<path d="M446.16 321.22A77.90 77.90 0 0 1 453.36 328.89L451.66 330.28A75.70 75.70 0 0 0 444.66 322.83Z" fill="#56aa36" />
<path d="M453.32 328.83A77.90 77.90 0 0 1 453.86 329.50L452.15 330.88A75.70 75.70 0 0 0 451.62 330.23Z" fill="#48a42f" />
<path d="M453.82 329.45A77.90 77.90 0 0 1 460.72 339.57L458.81 340.66A75.70 75.70 0 0 0 452.11 330.83Z" fill="#82b12a" />
<path d="M460.68 339.51A77.90 77.90 0 0 1 462.72 343.31L460.76 344.30A75.70 75.70 0 0 0 458.77 340.60Z" fill="#a0b427" />
<path d="M462.69 343.25A77.90 77.90 0 0 1 463.96 345.89L461.96 346.81A75.70 75.70 0 0 0 460.73 344.24Z" fill="#beaf20" />
<path d="M463.93 345.83A77.90 77.90 0 0 1 464.54 347.19L462.52 348.06A75.70 75.70 0 0 0 461.93 346.75Z" fill="#c48324" />
<path d="M429.43 309.34A77.90 77.90 0 0 1 464.54 347.19" fill="none" stroke="#101010" stroke-width="0.95"/>
<text transform="translate(430.77 308.58) rotate(-61.6)" font-size="3.1" text-anchor="start" fill="#5c5c5c" dy="0.9">0%</text>
<text transform="translate(465.40 345.91) rotate(-24.1)" font-size="3.1" text-anchor="start" fill="#5c5c5c" dy="0.9">100%</text>
<text transform="translate(451.16 324.39) rotate(-42.9)" font-size="3.1" text-anchor="start" fill="#5c5c5c" dy="0.9">50%</text>
<path d="M455.68 353.22A67.40 67.40 0 0 1 460.43 375.08L455.93 375.29A62.90 62.90 0 0 0 451.50 354.89Z" fill="#4fc6e4" />
<path d="M451.50 354.89A62.90 62.90 0 0 1 455.93 375.29" fill="none" stroke="#111" stroke-width="0.8"/>
<path d="M455.68 353.22A67.40 67.40 0 0 1 460.43 375.08" fill="none" stroke="#111" stroke-width="0.8"/>
<path d="M455.68 353.22L458.47 352.11" stroke="#333" stroke-width="0.45"/>
<path d="M458.07 360.31L460.00 359.78" stroke="#333" stroke-width="0.45"/>
<path d="M459.66 367.63L462.62 367.16" stroke="#333" stroke-width="0.45"/>
<path d="M460.43 375.08L462.42 374.98" stroke="#333" stroke-width="0.45"/>
<path d="M461.67 350.69A73.90 73.90 0 0 1 462.12 351.83L460.34 352.51A72.00 72.00 0 0 0 459.90 351.39Z" fill="#e49829" />
<path d="M462.09 351.77A73.90 73.90 0 0 1 462.65 353.26L460.86 353.90A72.00 72.00 0 0 0 460.32 352.45Z" fill="#dccb26" />
<path d="M462.62 353.20A73.90 73.90 0 0 1 463.03 354.36L461.23 354.97A72.00 72.00 0 0 0 460.84 353.84Z" fill="#bad12d" />
<path d="M463.01 354.30A73.90 73.90 0 0 1 463.40 355.47L461.59 356.05A72.00 72.00 0 0 0 461.21 354.91Z" fill="#97cd31" />
<path d="M463.38 355.40A73.90 73.90 0 0 1 463.43 355.57L461.62 356.15A72.00 72.00 0 0 0 461.57 355.99Z" fill="#53be37" />
<path d="M463.41 355.51A73.90 73.90 0 0 1 463.99 357.36L462.16 357.90A72.00 72.00 0 0 0 461.61 356.09Z" fill="#64c53f" />
<path d="M463.97 357.30A73.90 73.90 0 0 1 466.89 374.15L464.99 374.26A72.00 72.00 0 0 0 462.15 357.83Z" fill="#51c75f" />
<path d="M466.88 374.09A73.90 73.90 0 0 1 466.92 374.90L465.03 374.98A72.00 72.00 0 0 0 464.99 374.19Z" fill="#4aca86" />
<path d="M465.38 349.19A77.90 77.90 0 0 1 465.72 350.05L463.67 350.85A75.70 75.70 0 0 0 463.34 350.01Z" fill="#3fae74" />
<path d="M465.69 349.99A77.90 77.90 0 0 1 470.25 367.44L468.07 367.74A75.70 75.70 0 0 0 463.64 350.79Z" fill="#46ac52" />
<path d="M470.24 367.37A77.90 77.90 0 0 1 470.50 369.40L468.31 369.65A75.70 75.70 0 0 0 468.06 367.68Z" fill="#56aa36" />
<path d="M470.49 369.33A77.90 77.90 0 0 1 470.51 369.51L468.32 369.76A75.70 75.70 0 0 0 468.30 369.58Z" fill="#48a42f" />
<path d="M470.50 369.44A77.90 77.90 0 0 1 470.64 370.73L468.45 370.94A75.70 75.70 0 0 0 468.31 369.69Z" fill="#82b12a" />
<path d="M470.63 370.66A77.90 77.90 0 0 1 470.75 371.96L468.55 372.13A75.70 75.70 0 0 0 468.44 370.88Z" fill="#a0b427" />
<path d="M470.74 371.89A77.90 77.90 0 0 1 470.86 373.56L468.66 373.69A75.70 75.70 0 0 0 468.55 372.07Z" fill="#beaf20" />
<path d="M470.85 373.49A77.90 77.90 0 0 1 470.92 374.72L468.72 374.82A75.70 75.70 0 0 0 468.66 373.62Z" fill="#c48324" />
<path d="M465.38 349.19A77.90 77.90 0 0 1 470.92 374.72" fill="none" stroke="#101010" stroke-width="0.95"/>
<text transform="translate(466.89 349.48) rotate(-21.3)" font-size="3.1" text-anchor="start" fill="#5c5c5c" dy="0.9">0%</text>
<text transform="translate(472.18 373.83) rotate(-3.2)" font-size="3.1" text-anchor="start" fill="#5c5c5c" dy="0.9">100%</text>
<text transform="translate(470.50 361.45) rotate(-12.2)" font-size="3.1" text-anchor="start" fill="#5c5c5c" dy="0.9">50%</text>
<path d="M460.49 377.19A67.40 67.40 0 0 1 460.08 385.76L455.61 385.26A62.90 62.90 0 0 0 455.99 377.26Z" fill="#5a55b9" />
<path d="M455.99 377.26A62.90 62.90 0 0 1 455.61 385.26" fill="none" stroke="#111" stroke-width="0.8"/>
<path d="M460.49 377.19A67.40 67.40 0 0 1 460.08 385.76" fill="none" stroke="#111" stroke-width="0.8"/>
<path d="M460.49 377.19L463.49 377.14" stroke="#333" stroke-width="0.45"/>
<path d="M460.08 385.76L462.07 385.99" stroke="#333" stroke-width="0.45"/>
<path d="M466.99 376.96A73.90 73.90 0 0 1 467.00 377.60L465.10 377.62A72.00 72.00 0 0 0 465.09 376.99Z" fill="#e49829" />
<path d="M467.00 377.54A73.90 73.90 0 0 1 467.00 378.69L465.10 378.68A72.00 72.00 0 0 0 465.10 377.56Z" fill="#dccb26" />
<path d="M467.00 378.62A73.90 73.90 0 0 1 466.97 380.27L465.07 380.22A72.00 72.00 0 0 0 465.10 378.61Z" fill="#bad12d" />
<path d="M466.97 380.21A73.90 73.90 0 0 1 466.93 381.36L465.04 381.28A72.00 72.00 0 0 0 465.07 380.16Z" fill="#97cd31" />
<path d="M466.94 381.29A73.90 73.90 0 0 1 466.93 381.43L465.03 381.35A72.00 72.00 0 0 0 465.04 381.21Z" fill="#53be37" />
<path d="M466.93 381.37A73.90 73.90 0 0 1 466.86 382.77L464.97 382.65A72.00 72.00 0 0 0 465.04 381.29Z" fill="#64c53f" />
<path d="M466.87 382.70A73.90 73.90 0 0 1 466.81 383.59L464.91 383.46A72.00 72.00 0 0 0 464.97 382.59Z" fill="#51c75f" />
<path d="M466.81 383.53A73.90 73.90 0 0 1 466.52 386.62L464.64 386.40A72.00 72.00 0 0 0 464.92 383.39Z" fill="#4aca86" />
<path d="M470.99 376.89A77.90 77.90 0 0 1 470.97 380.22L468.78 380.17A75.70 75.70 0 0 0 468.79 376.93Z" fill="#3fae74" />
<path d="M470.98 380.16A77.90 77.90 0 0 1 470.95 381.10L468.75 381.02A75.70 75.70 0 0 0 468.78 380.10Z" fill="#46ac52" />
<path d="M470.95 381.03A77.90 77.90 0 0 1 470.88 382.51L468.69 382.39A75.70 75.70 0 0 0 468.75 380.95Z" fill="#56aa36" />
<path d="M470.89 382.44A77.90 77.90 0 0 1 470.88 382.59L468.68 382.46A75.70 75.70 0 0 0 468.69 382.32Z" fill="#48a42f" />
<path d="M470.88 382.52A77.90 77.90 0 0 1 470.81 383.73L468.61 383.57A75.70 75.70 0 0 0 468.69 382.40Z" fill="#82b12a" />
<path d="M470.81 383.66A77.90 77.90 0 0 1 470.67 385.39L468.48 385.19A75.70 75.70 0 0 0 468.62 383.50Z" fill="#a0b427" />
<path d="M470.68 385.33A77.90 77.90 0 0 1 470.56 386.53L468.37 386.30A75.70 75.70 0 0 0 468.49 385.13Z" fill="#beaf20" />
<path d="M470.57 386.46A77.90 77.90 0 0 1 470.50 387.07L468.31 386.82A75.70 75.70 0 0 0 468.38 386.23Z" fill="#c48324" />
<path d="M470.99 376.89A77.90 77.90 0 0 1 470.50 387.07" fill="none" stroke="#101010" stroke-width="0.95"/>
<text transform="translate(472.30 377.70) rotate(-0.4)" font-size="3.1" text-anchor="start" fill="#5c5c5c" dy="0.9">0%</text>
<text transform="translate(471.88 386.39) rotate(5.9)" font-size="3.1" text-anchor="start" fill="#5c5c5c" dy="0.9">100%</text>
<path d="M459.81 387.86A67.40 67.40 0 0 1 452.33 410.41L448.38 408.26A62.90 62.90 0 0 0 455.36 387.22Z" fill="#4a62c8" />
<path d="M455.36 387.22A62.90 62.90 0 0 1 448.38 408.26" fill="none" stroke="#111" stroke-width="0.8"/>
<path d="M459.81 387.86A67.40 67.40 0 0 1 452.33 410.41" fill="none" stroke="#111" stroke-width="0.8"/>
<path d="M459.81 387.86L462.78 388.29" stroke="#333" stroke-width="0.45"/>
<path d="M458.70 393.73L460.65 394.19" stroke="#333" stroke-width="0.45"/>
<path d="M457.07 399.47L459.92 400.41" stroke="#333" stroke-width="0.45"/>
<path d="M454.94 405.04L456.78 405.84" stroke="#333" stroke-width="0.45"/>
<path d="M452.33 410.41L454.97 411.84" stroke="#333" stroke-width="0.45"/>
<path d="M466.26 388.66A73.90 73.90 0 0 1 466.10 389.73L464.23 389.43A72.00 72.00 0 0 0 464.38 388.39Z" fill="#e49829" />
<path d="M466.11 389.66A73.90 73.90 0 0 1 465.78 391.63L463.91 391.28A72.00 72.00 0 0 0 464.24 389.37Z" fill="#dccb26" />
<path d="M465.79 391.56A73.90 73.90 0 0 1 465.28 394.12L463.42 393.71A72.00 72.00 0 0 0 463.92 391.22Z" fill="#bad12d" />
<path d="M465.29 394.05A73.90 73.90 0 0 1 463.87 399.53L462.05 398.99A72.00 72.00 0 0 0 463.43 393.65Z" fill="#97cd31" />
<path d="M463.89 399.47A73.90 73.90 0 0 1 463.10 401.95L461.30 401.34A72.00 72.00 0 0 0 462.07 398.93Z" fill="#53be37" />
<path d="M463.12 401.89A73.90 73.90 0 0 1 459.58 410.53L457.87 409.70A72.00 72.00 0 0 0 461.32 401.28Z" fill="#64c53f" />
<path d="M459.61 410.47A73.90 73.90 0 0 1 459.40 410.88L457.70 410.05A72.00 72.00 0 0 0 457.90 409.64Z" fill="#51c75f" />
<path d="M459.43 410.83A73.90 73.90 0 0 1 457.98 413.63L456.31 412.72A72.00 72.00 0 0 0 457.73 409.99Z" fill="#4aca86" />
<path d="M470.22 389.23A77.90 77.90 0 0 1 469.67 392.57L467.51 392.17A75.70 75.70 0 0 0 468.04 388.92Z" fill="#3fae74" />
<path d="M469.68 392.50A77.90 77.90 0 0 1 469.59 392.98L467.43 392.57A75.70 75.70 0 0 0 467.52 392.10Z" fill="#46ac52" />
<path d="M469.61 392.92A77.90 77.90 0 0 1 467.15 402.44L465.06 401.76A75.70 75.70 0 0 0 467.45 392.50Z" fill="#56aa36" />
<path d="M467.17 402.38A77.90 77.90 0 0 1 466.27 404.97L464.21 404.22A75.70 75.70 0 0 0 465.08 401.69Z" fill="#48a42f" />
<path d="M466.30 404.91A77.90 77.90 0 0 1 464.04 410.43L462.04 409.53A75.70 75.70 0 0 0 464.23 404.15Z" fill="#82b12a" />
<path d="M464.07 410.37A77.90 77.90 0 0 1 462.89 412.85L460.92 411.88A75.70 75.70 0 0 0 462.06 409.47Z" fill="#a0b427" />
<path d="M462.92 412.79A77.90 77.90 0 0 1 461.97 414.66L460.02 413.63A75.70 75.70 0 0 0 460.95 411.82Z" fill="#beaf20" />
<path d="M462.00 414.60A77.90 77.90 0 0 1 461.49 415.54L459.56 414.49A75.70 75.70 0 0 0 460.05 413.58Z" fill="#c48324" />
<path d="M470.22 389.23A77.90 77.90 0 0 1 461.49 415.54" fill="none" stroke="#101010" stroke-width="0.95"/>
<text transform="translate(471.39 390.23) rotate(8.7)" font-size="3.1" text-anchor="start" fill="#5c5c5c" dy="0.9">0%</text>
<text transform="translate(463.03 415.43) rotate(28.0)" font-size="3.1" text-anchor="start" fill="#5c5c5c" dy="0.9">100%</text>
<text transform="translate(468.27 403.18) rotate(18.3)" font-size="3.1" text-anchor="start" fill="#5c5c5c" dy="0.9">50%</text>
<path d="M451.29 412.26A67.40 67.40 0 0 1 440.68 425.99L437.50 422.80A62.90 62.90 0 0 0 447.41 409.98Z" fill="#3aa0e8" />
<path d="M447.41 409.98A62.90 62.90 0 0 1 437.50 422.80" fill="none" stroke="#111" stroke-width="0.8"/>
<path d="M451.29 412.26A67.40 67.40 0 0 1 440.68 425.99" fill="none" stroke="#111" stroke-width="0.8"/>
<path d="M451.29 412.26L453.88 413.77" stroke="#333" stroke-width="0.45"/>
<path d="M448.15 417.13L449.79 418.29" stroke="#333" stroke-width="0.45"/>
<path d="M444.61 421.72L446.90 423.66" stroke="#333" stroke-width="0.45"/>
<path d="M440.68 425.99L442.09 427.41" stroke="#333" stroke-width="0.45"/>
<path d="M456.97 415.42A73.90 73.90 0 0 1 456.15 416.79L454.53 415.80A72.00 72.00 0 0 0 455.33 414.47Z" fill="#e49829" />
<path d="M456.19 416.74A73.90 73.90 0 0 1 455.53 417.79L453.93 416.77A72.00 72.00 0 0 0 454.57 415.75Z" fill="#dccb26" />
<path d="M455.57 417.73A73.90 73.90 0 0 1 454.90 418.77L453.31 417.73A72.00 72.00 0 0 0 453.96 416.72Z" fill="#bad12d" />
<path d="M454.93 418.72A73.90 73.90 0 0 1 453.64 420.63L452.08 419.54A72.00 72.00 0 0 0 453.34 417.68Z" fill="#97cd31" />
<path d="M453.68 420.58A73.90 73.90 0 0 1 453.58 420.72L452.02 419.63A72.00 72.00 0 0 0 452.12 419.49Z" fill="#53be37" />
<path d="M453.62 420.66A73.90 73.90 0 0 1 452.69 421.96L451.16 420.84A72.00 72.00 0 0 0 452.06 419.57Z" fill="#64c53f" />
<path d="M452.73 421.91A73.90 73.90 0 0 1 445.95 429.90L444.59 428.57A72.00 72.00 0 0 0 451.19 420.78Z" fill="#51c75f" />
<path d="M446.00 429.85A73.90 73.90 0 0 1 445.17 430.69L443.83 429.34A72.00 72.00 0 0 0 444.64 428.53Z" fill="#4aca86" />
<path d="M460.43 417.44A77.90 77.90 0 0 1 459.76 418.56L457.88 417.42A75.70 75.70 0 0 0 458.53 416.33Z" fill="#3fae74" />
<path d="M459.80 418.50A77.90 77.90 0 0 1 453.43 427.53L451.73 426.13A75.70 75.70 0 0 0 457.91 417.36Z" fill="#46ac52" />
<path d="M453.48 427.47A77.90 77.90 0 0 1 452.40 428.76L450.73 427.34A75.70 75.70 0 0 0 451.77 426.08Z" fill="#56aa36" />
<path d="M452.45 428.71A77.90 77.90 0 0 1 452.33 428.85L450.66 427.42A75.70 75.70 0 0 0 450.77 427.29Z" fill="#48a42f" />
<path d="M452.37 428.80A77.90 77.90 0 0 1 450.77 430.62L449.14 429.14A75.70 75.70 0 0 0 450.70 427.37Z" fill="#82b12a" />
<path d="M450.81 430.57A77.90 77.90 0 0 1 449.93 431.53L448.32 430.03A75.70 75.70 0 0 0 449.18 429.09Z" fill="#a0b427" />
<path d="M449.98 431.48A77.90 77.90 0 0 1 449.08 432.43L447.49 430.90A75.70 75.70 0 0 0 448.37 429.98Z" fill="#beaf20" />
<path d="M449.12 432.38A77.90 77.90 0 0 1 447.99 433.53L446.44 431.96A75.70 75.70 0 0 0 447.54 430.85Z" fill="#c48324" />
<path d="M460.43 417.44A77.90 77.90 0 0 1 447.99 433.53" fill="none" stroke="#101010" stroke-width="0.95"/>
<text transform="translate(461.13 418.80) rotate(30.8)" font-size="3.1" text-anchor="start" fill="#5c5c5c" dy="0.9">0%</text>
<text transform="translate(449.49 433.86) rotate(44.6)" font-size="3.1" text-anchor="start" fill="#5c5c5c" dy="0.9">100%</text>
<text transform="translate(455.76 426.68) rotate(37.7)" font-size="3.1" text-anchor="start" fill="#5c5c5c" dy="0.9">50%</text>
<path d="M439.15 427.46A67.40 67.40 0 0 1 429.71 434.84L427.27 431.06A62.90 62.90 0 0 0 436.08 424.18Z" fill="#30c0e0" />
<path d="M436.08 424.18A62.90 62.90 0 0 1 427.27 431.06" fill="none" stroke="#111" stroke-width="0.8"/>
<path d="M439.15 427.46A67.40 67.40 0 0 1 429.71 434.84" fill="none" stroke="#111" stroke-width="0.8"/>
<path d="M439.15 427.46L441.20 429.65" stroke="#333" stroke-width="0.45"/>
<path d="M434.60 431.36L435.83 432.94" stroke="#333" stroke-width="0.45"/>
<path d="M429.71 434.84L431.34 437.36" stroke="#333" stroke-width="0.45"/>
<path d="M443.69 432.12A73.90 73.90 0 0 1 442.93 432.83L441.64 431.42A72.00 72.00 0 0 0 442.39 430.74Z" fill="#e49829" />
<path d="M442.97 432.78A73.90 73.90 0 0 1 442.20 433.48L440.94 432.06A72.00 72.00 0 0 0 441.69 431.38Z" fill="#dccb26" />
<path d="M442.25 433.44A73.90 73.90 0 0 1 441.24 434.32L440.01 432.87A72.00 72.00 0 0 0 440.99 432.02Z" fill="#bad12d" />
<path d="M441.29 434.27A73.90 73.90 0 0 1 439.13 436.07L437.94 434.58A72.00 72.00 0 0 0 440.05 432.83Z" fill="#97cd31" />
<path d="M439.18 436.03A73.90 73.90 0 0 1 438.59 436.49L437.42 434.99A72.00 72.00 0 0 0 437.99 434.54Z" fill="#53be37" />
<path d="M438.64 436.45A73.90 73.90 0 0 1 434.70 439.33L433.63 437.76A72.00 72.00 0 0 0 437.47 434.95Z" fill="#64c53f" />
<path d="M434.76 439.29A73.90 73.90 0 0 1 434.39 439.54L433.32 437.97A72.00 72.00 0 0 0 433.69 437.72Z" fill="#51c75f" />
<path d="M434.44 439.51A73.90 73.90 0 0 1 433.13 440.37L432.10 438.77A72.00 72.00 0 0 0 433.38 437.93Z" fill="#4aca86" />
<path d="M446.43 435.04A77.90 77.90 0 0 1 445.16 436.20L443.69 434.56A75.70 75.70 0 0 0 444.92 433.43Z" fill="#3fae74" />
<path d="M445.21 436.15A77.90 77.90 0 0 1 444.86 436.47L443.40 434.82A75.70 75.70 0 0 0 443.74 434.52Z" fill="#46ac52" />
<path d="M444.91 436.42A77.90 77.90 0 0 1 440.96 439.72L439.61 437.98A75.70 75.70 0 0 0 443.45 434.78Z" fill="#56aa36" />
<path d="M441.01 439.67A77.90 77.90 0 0 1 440.39 440.15L439.05 438.41A75.70 75.70 0 0 0 439.66 437.94Z" fill="#48a42f" />
<path d="M440.44 440.11A77.90 77.90 0 0 1 438.06 441.87L436.79 440.07A75.70 75.70 0 0 0 439.11 438.37Z" fill="#82b12a" />
<path d="M438.11 441.83A77.90 77.90 0 0 1 436.96 442.63L435.72 440.81A75.70 75.70 0 0 0 436.84 440.03Z" fill="#a0b427" />
<path d="M437.01 442.59A77.90 77.90 0 0 1 436.10 443.21L434.89 441.37A75.70 75.70 0 0 0 435.77 440.78Z" fill="#beaf20" />
<path d="M436.16 443.17A77.90 77.90 0 0 1 435.30 443.73L434.11 441.88A75.70 75.70 0 0 0 434.94 441.33Z" fill="#c48324" />
<path d="M446.43 435.04A77.90 77.90 0 0 1 435.30 443.73" fill="none" stroke="#101010" stroke-width="0.95"/>
<text transform="translate(446.71 436.55) rotate(47.4)" font-size="3.1" text-anchor="start" fill="#5c5c5c" dy="0.9">0%</text>
<text transform="translate(436.70 444.37) rotate(56.6)" font-size="3.1" text-anchor="start" fill="#5c5c5c" dy="0.9">100%</text>
<path d="M427.91 435.96A67.40 67.40 0 0 1 420.41 439.87L418.58 435.76A62.90 62.90 0 0 0 425.59 432.11Z" fill="#40c8b8" />
<path d="M425.59 432.11A62.90 62.90 0 0 1 418.58 435.76" fill="none" stroke="#111" stroke-width="0.8"/>
<path d="M427.91 435.96A67.40 67.40 0 0 1 420.41 439.87" fill="none" stroke="#111" stroke-width="0.8"/>
<path d="M427.91 435.96L429.46 438.53" stroke="#333" stroke-width="0.45"/>
<path d="M420.41 439.87L421.22 441.70" stroke="#333" stroke-width="0.45"/>
<path d="M431.38 441.46A73.90 73.90 0 0 1 426.04 444.40L425.19 442.70A72.00 72.00 0 0 0 430.40 439.84Z" fill="#e49829" />
<path d="M426.09 444.38A73.90 73.90 0 0 1 425.75 444.55L424.91 442.84A72.00 72.00 0 0 0 425.25 442.68Z" fill="#dccb26" />
<path d="M425.80 444.52A73.90 73.90 0 0 1 425.23 444.80L424.41 443.09A72.00 72.00 0 0 0 424.96 442.82Z" fill="#bad12d" />
<path d="M425.29 444.77A73.90 73.90 0 0 1 424.72 445.05L423.90 443.33A72.00 72.00 0 0 0 424.46 443.06Z" fill="#97cd31" />
<path d="M424.78 445.02A73.90 73.90 0 0 1 424.65 445.08L423.84 443.36A72.00 72.00 0 0 0 423.96 443.30Z" fill="#53be37" />
<path d="M424.71 445.05A73.90 73.90 0 0 1 424.36 445.21L423.55 443.49A72.00 72.00 0 0 0 423.90 443.33Z" fill="#64c53f" />
<path d="M424.42 445.19A73.90 73.90 0 0 1 423.84 445.45L423.05 443.73A72.00 72.00 0 0 0 423.61 443.47Z" fill="#51c75f" />
<path d="M423.90 445.43A73.90 73.90 0 0 1 422.92 445.87L422.16 444.13A72.00 72.00 0 0 0 423.10 443.70Z" fill="#4aca86" />
<path d="M433.45 444.88A77.90 77.90 0 0 1 432.43 445.49L431.32 443.59A75.70 75.70 0 0 0 432.31 443.00Z" fill="#3fae74" />
<path d="M432.49 445.46A77.90 77.90 0 0 1 431.91 445.80L430.81 443.89A75.70 75.70 0 0 0 431.37 443.56Z" fill="#46ac52" />
<path d="M431.97 445.76A77.90 77.90 0 0 1 431.61 445.97L430.52 444.05A75.70 75.70 0 0 0 430.87 443.86Z" fill="#56aa36" />
<path d="M431.67 445.93A77.90 77.90 0 0 1 431.54 446.00L430.46 444.09A75.70 75.70 0 0 0 430.58 444.02Z" fill="#48a42f" />
<path d="M431.60 445.97A77.90 77.90 0 0 1 431.02 446.30L429.95 444.38A75.70 75.70 0 0 0 430.51 444.06Z" fill="#82b12a" />
<path d="M431.08 446.27A77.90 77.90 0 0 1 430.49 446.59L429.43 444.66A75.70 75.70 0 0 0 430.00 444.35Z" fill="#a0b427" />
<path d="M430.55 446.56A77.90 77.90 0 0 1 430.19 446.75L429.14 444.82A75.70 75.70 0 0 0 429.49 444.63Z" fill="#beaf20" />
<path d="M430.25 446.72A77.90 77.90 0 0 1 424.54 449.53L423.65 447.51A75.70 75.70 0 0 0 429.20 444.79Z" fill="#c48324" />
<path d="M433.45 444.88A77.90 77.90 0 0 1 424.54 449.53" fill="none" stroke="#101010" stroke-width="0.95"/>
<text transform="translate(433.42 446.42) rotate(59.4)" font-size="3.1" text-anchor="start" fill="#5c5c5c" dy="0.9">0%</text>
<text transform="translate(425.82 450.38) rotate(65.6)" font-size="3.1" text-anchor="start" fill="#5c5c5c" dy="0.9">100%</text>
<path d="M418.46 440.70A67.40 67.40 0 0 1 393.57 445.65L393.54 441.15A62.90 62.90 0 0 0 416.76 436.53Z" fill="#4ed58e" />
<path d="M416.76 436.53A62.90 62.90 0 0 1 393.54 441.15" fill="none" stroke="#111" stroke-width="0.8"/>
<path d="M418.46 440.70A67.40 67.40 0 0 1 393.57 445.65" fill="none" stroke="#111" stroke-width="0.8"/>
<path d="M418.46 440.70L419.59 443.48" stroke="#333" stroke-width="0.45"/>
<path d="M412.44 442.82L413.01 444.73" stroke="#333" stroke-width="0.45"/>
<path d="M406.25 444.35L406.83 447.30" stroke="#333" stroke-width="0.45"/>
<path d="M399.94 445.30L400.14 447.29" stroke="#333" stroke-width="0.45"/>
<path d="M393.57 445.65L393.59 448.65" stroke="#333" stroke-width="0.45"/>
<path d="M422.65 450.65A78.20 78.20 0 0 1 400.90 456.06L400.48 451.88A74.00 74.00 0 0 0 421.06 446.76Z" fill="#a060c8" />
<path d="M400.97 456.05A78.20 78.20 0 0 1 397.92 456.30L397.66 452.11A74.00 74.00 0 0 0 400.55 451.87Z" fill="#3ab0e4" />
<path d="M397.99 456.30A78.20 78.20 0 0 1 393.51 456.45L393.49 452.25A74.00 74.00 0 0 0 397.73 452.11Z" fill="#8a5ac8" />
<path d="M422.65 450.65A78.20 78.20 0 0 1 393.51 456.45" fill="none" stroke="#101010" stroke-width="0.8"/>
<path d="M421.06 446.76A74.00 74.00 0 0 1 393.49 452.25" fill="none" stroke="#101010" stroke-width="0.4"/>
<text transform="translate(422.26 451.89) rotate(68.4)" font-size="3.1" text-anchor="start" fill="#5c5c5c" dy="0.9">0%</text>
<text transform="translate(394.34 457.44) rotate(89.1)" font-size="3.1" text-anchor="start" fill="#5c5c5c" dy="0.9">100%</text>
<text transform="translate(408.55 455.93) rotate(78.8)" font-size="3.1" text-anchor="start" fill="#5c5c5c" dy="0.9">50%</text>
<path d="M391.45 445.63A67.40 67.40 0 0 1 365.04 439.53L366.92 435.44A62.90 62.90 0 0 0 391.56 441.13Z" fill="#56d264" />
<path d="M391.56 441.13A62.90 62.90 0 0 1 366.92 435.44" fill="none" stroke="#111" stroke-width="0.8"/>
<path d="M391.45 445.63A67.40 67.40 0 0 1 365.04 439.53" fill="none" stroke="#111" stroke-width="0.8"/>
<path d="M391.45 445.63L391.38 448.63" stroke="#333" stroke-width="0.45"/>
<path d="M384.65 445.12L384.40 447.10" stroke="#333" stroke-width="0.45"/>
<path d="M377.94 443.92L377.26 446.85" stroke="#333" stroke-width="0.45"/>
<path d="M371.38 442.05L370.73 443.95" stroke="#333" stroke-width="0.45"/>
<path d="M365.04 439.53L363.79 442.26" stroke="#333" stroke-width="0.45"/>
<path d="M391.33 456.43A78.20 78.20 0 0 1 388.07 456.29L388.34 452.10A74.00 74.00 0 0 0 391.42 452.23Z" fill="#3ab0e4" />
<path d="M388.14 456.29A78.20 78.20 0 0 1 372.35 453.65L373.46 449.60A74.00 74.00 0 0 0 388.40 452.10Z" fill="#8a5ac8" />
<path d="M372.41 453.66A78.20 78.20 0 0 1 369.29 452.74L370.56 448.74A74.00 74.00 0 0 0 373.52 449.61Z" fill="#3ab0e4" />
<path d="M369.35 452.76A78.20 78.20 0 0 1 366.26 451.70L367.71 447.76A74.00 74.00 0 0 0 370.63 448.75Z" fill="#3a5ac8" />
<path d="M366.33 451.72A78.20 78.20 0 0 1 360.42 449.30L362.18 445.48A74.00 74.00 0 0 0 367.77 447.78Z" fill="#8a5ac8" />
<path d="M391.33 456.43A78.20 78.20 0 0 1 360.42 449.30" fill="none" stroke="#101010" stroke-width="0.8"/>
<path d="M391.42 452.23A74.00 74.00 0 0 1 362.18 445.48" fill="none" stroke="#101010" stroke-width="0.4"/>
<text transform="translate(390.47 457.41) rotate(271.9)" font-size="3.1" text-anchor="end" fill="#5c5c5c" dy="0.9">0%</text>
<text transform="translate(360.76 450.55) rotate(294.1)" font-size="3.1" text-anchor="end" fill="#5c5c5c" dy="0.9">100%</text>
<text transform="translate(375.28 455.42) rotate(283.0)" font-size="3.1" text-anchor="end" fill="#5c5c5c" dy="0.9">50%</text>
<path d="M363.13 438.62A67.40 67.40 0 0 1 342.08 422.29L345.49 419.35A62.90 62.90 0 0 0 365.13 434.59Z" fill="#6ad043" />
<path d="M365.13 434.59A62.90 62.90 0 0 1 345.49 419.35" fill="none" stroke="#111" stroke-width="0.8"/>
<path d="M363.13 438.62A67.40 67.40 0 0 1 342.08 422.29" fill="none" stroke="#111" stroke-width="0.8"/>
<path d="M363.13 438.62L361.80 441.31" stroke="#333" stroke-width="0.45"/>
<path d="M357.28 435.35L356.22 437.04" stroke="#333" stroke-width="0.45"/>
<path d="M351.79 431.51L349.95 433.88" stroke="#333" stroke-width="0.45"/>
<path d="M346.70 427.14L345.33 428.59" stroke="#333" stroke-width="0.45"/>
<path d="M342.08 422.29L339.81 424.25" stroke="#333" stroke-width="0.45"/>
<path d="M358.45 448.36A78.20 78.20 0 0 1 355.61 446.88L357.62 443.19A74.00 74.00 0 0 0 360.31 444.59Z" fill="#7a50c8" />
<path d="M355.67 446.91A78.20 78.20 0 0 1 352.88 445.32L355.04 441.71A74.00 74.00 0 0 0 357.68 443.22Z" fill="#3ab0e4" />
<path d="M352.94 445.35A78.20 78.20 0 0 1 350.22 443.65L352.53 440.14A74.00 74.00 0 0 0 355.10 441.75Z" fill="#e8442a" />
<path d="M350.28 443.68A78.20 78.20 0 0 1 342.68 438.02L345.39 434.81A74.00 74.00 0 0 0 352.58 440.17Z" fill="#3a5ac8" />
<path d="M342.73 438.07A78.20 78.20 0 0 1 340.32 435.95L343.15 432.85A74.00 74.00 0 0 0 345.43 434.85Z" fill="#3ab0e4" />
<path d="M340.37 436.00A78.20 78.20 0 0 1 333.81 429.24L337.00 426.51A74.00 74.00 0 0 0 343.20 432.90Z" fill="#7a50c8" />
<path d="M358.45 448.36A78.20 78.20 0 0 1 333.81 429.24" fill="none" stroke="#101010" stroke-width="0.8"/>
<path d="M360.31 444.59A74.00 74.00 0 0 1 337.00 426.51" fill="none" stroke="#101010" stroke-width="0.4"/>
<text transform="translate(357.27 448.88) rotate(296.9)" font-size="3.1" text-anchor="end" fill="#5c5c5c" dy="0.9">0%</text>
<text transform="translate(333.60 430.52) rotate(318.7)" font-size="3.1" text-anchor="end" fill="#5c5c5c" dy="0.9">100%</text>
<text transform="translate(344.56 440.83) rotate(307.8)" font-size="3.1" text-anchor="end" fill="#5c5c5c" dy="0.9">50%</text>
<path d="M340.72 420.67A67.40 67.40 0 0 1 338.50 417.77L342.15 415.13A62.90 62.90 0 0 0 344.22 417.83Z" fill="#58c83a" />
<path d="M344.22 417.83A62.90 62.90 0 0 1 342.15 415.13" fill="none" stroke="#111" stroke-width="0.8"/>
<path d="M340.72 420.67A67.40 67.40 0 0 1 338.50 417.77" fill="none" stroke="#111" stroke-width="0.8"/>
<path d="M340.72 420.67L338.39 422.55" stroke="#333" stroke-width="0.45"/>
<path d="M338.50 417.77L336.88 418.94" stroke="#333" stroke-width="0.45"/>
<path d="M332.41 427.57A78.20 78.20 0 0 1 329.67 423.99L333.08 421.54A74.00 74.00 0 0 0 335.67 424.92Z" fill="#222222" />
<path d="M332.41 427.57A78.20 78.20 0 0 1 329.67 423.99" fill="none" stroke="#101010" stroke-width="0.8"/>
<path d="M335.67 424.92A74.00 74.00 0 0 1 333.08 421.54" fill="none" stroke="#101010" stroke-width="0.4"/>
<text transform="translate(331.12 427.55) rotate(321.5)" font-size="3.1" text-anchor="end" fill="#5c5c5c" dy="0.9">0%</text>
<text transform="translate(329.35 425.25) rotate(323.6)" font-size="3.1" text-anchor="end" fill="#5c5c5c" dy="0.9">100%</text>
<path d="M337.29 416.04A67.40 67.40 0 0 1 326.92 391.00L331.33 390.14A62.90 62.90 0 0 0 341.02 413.51Z" fill="#9fd834" />
<path d="M341.02 413.51A62.90 62.90 0 0 1 331.33 390.14" fill="none" stroke="#111" stroke-width="0.8"/>
<path d="M337.29 416.04A67.40 67.40 0 0 1 326.92 391.00" fill="none" stroke="#111" stroke-width="0.8"/>
<path d="M337.29 416.04L334.80 417.72" stroke="#333" stroke-width="0.45"/>
<path d="M333.76 410.20L331.99 411.15" stroke="#333" stroke-width="0.45"/>
<path d="M330.83 404.04L328.06 405.19" stroke="#333" stroke-width="0.45"/>
<path d="M328.54 397.62L326.63 398.19" stroke="#333" stroke-width="0.45"/>
<path d="M326.92 391.00L323.97 391.56" stroke="#333" stroke-width="0.45"/>
<path d="M328.42 422.20A78.20 78.20 0 0 1 326.65 419.47L330.21 417.26A74.00 74.00 0 0 0 331.90 419.84Z" fill="#3a5ac8" />
<path d="M326.68 419.53A78.20 78.20 0 0 1 325.02 416.72L328.67 414.66A74.00 74.00 0 0 0 330.25 417.31Z" fill="#3ab0e4" />
<path d="M325.05 416.78A78.20 78.20 0 0 1 323.50 413.91L327.24 411.99A74.00 74.00 0 0 0 328.71 414.71Z" fill="#e8442a" />
<path d="M323.54 413.97A78.20 78.20 0 0 1 321.45 409.58L325.30 407.90A74.00 74.00 0 0 0 327.27 412.05Z" fill="#3a5ac8" />
<path d="M321.48 409.64A78.20 78.20 0 0 1 317.72 399.06L321.77 397.94A74.00 74.00 0 0 0 325.33 407.96Z" fill="#9a50c4" />
<path d="M317.74 399.12A78.20 78.20 0 0 1 316.93 395.96L321.02 395.01A74.00 74.00 0 0 0 321.78 398.00Z" fill="#e8442a" />
<path d="M316.95 396.03A78.20 78.20 0 0 1 316.29 392.90L320.41 392.12A74.00 74.00 0 0 0 321.04 395.07Z" fill="#b24fc0" />
<path d="M328.42 422.20A78.20 78.20 0 0 1 316.29 392.90" fill="none" stroke="#101010" stroke-width="0.8"/>
<path d="M331.90 419.84A74.00 74.00 0 0 1 320.41 392.12" fill="none" stroke="#101010" stroke-width="0.4"/>
<text transform="translate(327.13 422.08) rotate(326.4)" font-size="3.1" text-anchor="end" fill="#5c5c5c" dy="0.9">0%</text>
<text transform="translate(315.46 393.90) rotate(348.6)" font-size="3.1" text-anchor="end" fill="#5c5c5c" dy="0.9">100%</text>
<text transform="translate(319.93 408.56) rotate(337.5)" font-size="3.1" text-anchor="end" fill="#5c5c5c" dy="0.9">50%</text>
<path d="M326.55 388.91A67.40 67.40 0 0 1 327.45 362.97L331.84 363.99A62.90 62.90 0 0 0 330.99 388.20Z" fill="#c4dc30" />
<path d="M330.99 388.20A62.90 62.90 0 0 1 331.84 363.99" fill="none" stroke="#111" stroke-width="0.8"/>
<path d="M326.55 388.91A67.40 67.40 0 0 1 327.45 362.97" fill="none" stroke="#111" stroke-width="0.8"/>
<path d="M326.55 388.91L323.59 389.38" stroke="#333" stroke-width="0.45"/>
<path d="M325.83 382.42L323.83 382.55" stroke="#333" stroke-width="0.45"/>
<path d="M325.74 375.90L322.74 375.79" stroke="#333" stroke-width="0.45"/>
<path d="M326.28 369.39L324.30 369.13" stroke="#333" stroke-width="0.45"/>
<path d="M327.45 362.97L324.53 362.29" stroke="#333" stroke-width="0.45"/>
<path d="M315.91 390.75A78.20 78.20 0 0 1 315.54 388.26L319.71 387.73A74.00 74.00 0 0 0 320.05 390.08Z" fill="#3a5ac8" />
<path d="M315.55 388.33A78.20 78.20 0 0 1 315.27 385.83L319.45 385.43A74.00 74.00 0 0 0 319.72 387.79Z" fill="#e8442a" />
<path d="M315.28 385.90A78.20 78.20 0 0 1 315.00 382.18L319.19 381.97A74.00 74.00 0 0 0 319.46 385.49Z" fill="#7a50c8" />
<path d="M315.00 382.24A78.20 78.20 0 0 1 315.08 373.01L319.27 373.29A74.00 74.00 0 0 0 319.20 382.03Z" fill="#9a50c4" />
<path d="M315.07 373.08A78.20 78.20 0 0 1 316.52 362.42L320.63 363.27A74.00 74.00 0 0 0 319.26 373.36Z" fill="#b24fc0" />
<path d="M316.51 362.48A78.20 78.20 0 0 1 316.97 360.39L321.06 361.35A74.00 74.00 0 0 0 320.62 363.33Z" fill="#3ab0e4" />
<path d="M315.91 390.75A78.20 78.20 0 0 1 316.97 360.39" fill="none" stroke="#101010" stroke-width="0.8"/>
<path d="M320.05 390.08A74.00 74.00 0 0 1 321.06 361.35" fill="none" stroke="#101010" stroke-width="0.4"/>
<text transform="translate(314.79 390.09) rotate(351.4)" font-size="3.1" text-anchor="end" fill="#5c5c5c" dy="0.9">0%</text>
<text transform="translate(315.81 360.97) rotate(372.6)" font-size="3.1" text-anchor="end" fill="#5c5c5c" dy="0.9">100%</text>
<text transform="translate(313.95 375.49) rotate(362.0)" font-size="3.1" text-anchor="end" fill="#5c5c5c" dy="0.9">50%</text>
<path d="M327.97 360.92A67.40 67.40 0 0 1 339.34 337.59L342.93 340.31A62.90 62.90 0 0 0 332.31 362.08Z" fill="#e8d628" />
<path d="M332.31 362.08A62.90 62.90 0 0 1 342.93 340.31" fill="none" stroke="#111" stroke-width="0.8"/>
<path d="M327.97 360.92A67.40 67.40 0 0 1 339.34 337.59" fill="none" stroke="#111" stroke-width="0.8"/>
<path d="M327.97 360.92L325.07 360.15" stroke="#333" stroke-width="0.45"/>
<path d="M329.95 354.70L328.07 354.00" stroke="#333" stroke-width="0.45"/>
<path d="M332.52 348.70L329.82 347.39" stroke="#333" stroke-width="0.45"/>
<path d="M335.66 342.98L333.96 341.94" stroke="#333" stroke-width="0.45"/>
<path d="M339.34 337.59L336.95 335.78" stroke="#333" stroke-width="0.45"/>
<path d="M317.49 358.27A78.20 78.20 0 0 1 323.53 342.54L327.27 344.46A74.00 74.00 0 0 0 321.56 359.35Z" fill="#b24fc0" />
<path d="M323.50 342.60A78.20 78.20 0 0 1 324.98 339.85L328.64 341.91A74.00 74.00 0 0 0 327.24 344.52Z" fill="#9050c8" />
<path d="M324.94 339.91A78.20 78.20 0 0 1 326.53 337.22L330.11 339.42A74.00 74.00 0 0 0 328.60 341.97Z" fill="#e8442a" />
<path d="M326.49 337.27A78.20 78.20 0 0 1 328.19 334.65L331.67 336.99A74.00 74.00 0 0 0 330.07 339.48Z" fill="#3a5ac8" />
<path d="M328.15 334.70A78.20 78.20 0 0 1 329.58 332.64L332.99 335.09A74.00 74.00 0 0 0 331.64 337.04Z" fill="#3ab0e4" />
<path d="M329.54 332.69A78.20 78.20 0 0 1 330.81 330.97L334.16 333.51A74.00 74.00 0 0 0 332.95 335.14Z" fill="#b24fc0" />
<path d="M317.49 358.27A78.20 78.20 0 0 1 330.81 330.97" fill="none" stroke="#101010" stroke-width="0.8"/>
<path d="M321.56 359.35A74.00 74.00 0 0 1 334.16 333.51" fill="none" stroke="#101010" stroke-width="0.4"/>
<text transform="translate(316.74 357.22) rotate(375.4)" font-size="3.1" text-anchor="end" fill="#5c5c5c" dy="0.9">0%</text>
<text transform="translate(329.52 331.03) rotate(396.6)" font-size="3.1" text-anchor="end" fill="#5c5c5c" dy="0.9">100%</text>
<text transform="translate(321.92 343.53) rotate(386.0)" font-size="3.1" text-anchor="end" fill="#5c5c5c" dy="0.9">50%</text>
<path d="M340.65 335.93A67.40 67.40 0 0 1 362.29 318.30L364.35 322.31A62.90 62.90 0 0 0 344.15 338.75Z" fill="#f0a02c" />
<path d="M344.15 338.75A62.90 62.90 0 0 1 364.35 322.31" fill="none" stroke="#111" stroke-width="0.8"/>
<path d="M340.65 335.93A67.40 67.40 0 0 1 362.29 318.30" fill="none" stroke="#111" stroke-width="0.8"/>
<path d="M340.65 335.93L338.31 334.04" stroke="#333" stroke-width="0.45"/>
<path d="M345.34 330.70L343.92 329.28" stroke="#333" stroke-width="0.45"/>
<path d="M350.55 325.98L348.65 323.66" stroke="#333" stroke-width="0.45"/>
<path d="M356.22 321.84L355.12 320.16" stroke="#333" stroke-width="0.45"/>
<path d="M362.29 318.30L360.92 315.64" stroke="#333" stroke-width="0.45"/>
<path d="M332.16 329.25A78.20 78.20 0 0 1 343.78 317.56L346.43 320.82A74.00 74.00 0 0 0 335.43 331.88Z" fill="#b24fc0" />
<path d="M343.73 317.61A78.20 78.20 0 0 1 345.85 315.94L348.39 319.28A74.00 74.00 0 0 0 346.38 320.86Z" fill="#8a50c8" />
<path d="M345.80 315.98A78.20 78.20 0 0 1 351.25 312.19L353.50 315.74A74.00 74.00 0 0 0 348.34 319.32Z" fill="#3ab8dc" />
<path d="M351.20 312.23A78.20 78.20 0 0 1 353.50 310.82L355.63 314.44A74.00 74.00 0 0 0 353.45 315.77Z" fill="#b24fc0" />
<path d="M353.44 310.85A78.20 78.20 0 0 1 355.21 309.84L357.25 313.51A74.00 74.00 0 0 0 355.57 314.47Z" fill="#e8442a" />
<path d="M355.15 309.87A78.20 78.20 0 0 1 357.48 308.64L359.39 312.37A74.00 74.00 0 0 0 357.19 313.55Z" fill="#333333" />
<path d="M332.16 329.25A78.20 78.20 0 0 1 357.48 308.64" fill="none" stroke="#101010" stroke-width="0.8"/>
<path d="M335.43 331.88A74.00 74.00 0 0 1 359.39 312.37" fill="none" stroke="#101010" stroke-width="0.4"/>
<text transform="translate(331.90 327.98) rotate(399.4)" font-size="3.1" text-anchor="end" fill="#5c5c5c" dy="0.9">0%</text>
<text transform="translate(356.28 308.13) rotate(422.3)" font-size="3.1" text-anchor="end" fill="#5c5c5c" dy="0.9">100%</text>
<text transform="translate(343.10 316.83) rotate(410.9)" font-size="3.1" text-anchor="end" fill="#5c5c5c" dy="0.9">50%</text>
<path d="M364.19 317.37A67.40 67.40 0 0 1 371.94 314.26L373.35 318.53A62.90 62.90 0 0 0 366.12 321.43Z" fill="#ef7030" />
<path d="M366.12 321.43A62.90 62.90 0 0 1 373.35 318.53" fill="none" stroke="#111" stroke-width="0.8"/>
<path d="M364.19 317.37A67.40 67.40 0 0 1 371.94 314.26" fill="none" stroke="#111" stroke-width="0.8"/>
<path d="M364.19 317.37L362.90 314.66" stroke="#333" stroke-width="0.45"/>
<path d="M371.94 314.26L371.31 312.36" stroke="#333" stroke-width="0.45"/>
<path d="M361.29 311.55A73.90 73.90 0 0 1 362.30 311.07L363.09 312.80A72.00 72.00 0 0 0 362.10 313.26Z" fill="#e49829" />
<path d="M362.24 311.10A73.90 73.90 0 0 1 363.56 310.51L364.32 312.25A72.00 72.00 0 0 0 363.04 312.83Z" fill="#dccb26" />
<path d="M363.50 310.54A73.90 73.90 0 0 1 364.83 309.97L365.55 311.73A72.00 72.00 0 0 0 364.26 312.28Z" fill="#bad12d" />
<path d="M364.77 310.00A73.90 73.90 0 0 1 366.40 309.34L367.09 311.11A72.00 72.00 0 0 0 365.49 311.75Z" fill="#97cd31" />
<path d="M366.34 309.36A73.90 73.90 0 0 1 366.49 309.31L367.17 311.08A72.00 72.00 0 0 0 367.03 311.14Z" fill="#53be37" />
<path d="M366.43 309.33A73.90 73.90 0 0 1 367.78 308.82L368.43 310.61A72.00 72.00 0 0 0 367.12 311.10Z" fill="#64c53f" />
<path d="M367.72 308.85A73.90 73.90 0 0 1 369.08 308.36L369.70 310.16A72.00 72.00 0 0 0 368.37 310.63Z" fill="#51c75f" />
<path d="M369.02 308.38A73.90 73.90 0 0 1 370.02 308.05L370.61 309.85A72.00 72.00 0 0 0 369.64 310.18Z" fill="#4aca86" />
<path d="M359.56 307.94A77.90 77.90 0 0 1 360.63 307.44L361.55 309.44A75.70 75.70 0 0 0 360.51 309.92Z" fill="#3fae74" />
<path d="M360.57 307.47A77.90 77.90 0 0 1 361.96 306.85L362.84 308.86A75.70 75.70 0 0 0 361.49 309.47Z" fill="#46ac52" />
<path d="M361.90 306.87A77.90 77.90 0 0 1 363.29 306.28L364.14 308.31A75.70 75.70 0 0 0 362.78 308.89Z" fill="#56aa36" />
<path d="M363.23 306.30A77.90 77.90 0 0 1 363.39 306.24L364.23 308.27A75.70 75.70 0 0 0 364.08 308.34Z" fill="#48a42f" />
<path d="M363.33 306.26A77.90 77.90 0 0 1 365.05 305.58L365.84 307.63A75.70 75.70 0 0 0 364.17 308.30Z" fill="#82b12a" />
<path d="M364.99 305.60A77.90 77.90 0 0 1 366.41 305.07L367.16 307.13A75.70 75.70 0 0 0 365.78 307.65Z" fill="#a0b427" />
<path d="M366.35 305.09A77.90 77.90 0 0 1 367.78 304.58L368.49 306.66A75.70 75.70 0 0 0 367.10 307.15Z" fill="#beaf20" />
<path d="M367.71 304.60A77.90 77.90 0 0 1 368.77 304.25L369.46 306.34A75.70 75.70 0 0 0 368.43 306.68Z" fill="#c48324" />
<path d="M359.56 307.94A77.90 77.90 0 0 1 368.77 304.25" fill="none" stroke="#101010" stroke-width="0.95"/>
<text transform="translate(359.75 306.41) rotate(425.1)" font-size="3.1" text-anchor="end" fill="#5c5c5c" dy="0.9">0%</text>
<text transform="translate(367.58 303.28) rotate(431.2)" font-size="3.1" text-anchor="end" fill="#5c5c5c" dy="0.9">100%</text>
<path d="M373.96 313.63A67.40 67.40 0 0 1 390.87 310.89L391.01 315.38A62.90 62.90 0 0 0 375.24 317.94Z" fill="#8fcf55" />
<path d="M375.24 317.94A62.90 62.90 0 0 1 391.01 315.38" fill="none" stroke="#111" stroke-width="0.8"/>
<path d="M373.96 313.63A67.40 67.40 0 0 1 390.87 310.89" fill="none" stroke="#111" stroke-width="0.8"/>
<path d="M373.96 313.63L373.11 310.75" stroke="#333" stroke-width="0.45"/>
<path d="M379.51 312.23L379.11 310.28" stroke="#333" stroke-width="0.45"/>
<path d="M385.16 311.32L384.81 308.34" stroke="#333" stroke-width="0.45"/>
<path d="M390.87 310.89L390.80 308.89" stroke="#333" stroke-width="0.45"/>
<path d="M371.99 307.43A73.90 73.90 0 0 1 375.03 306.59L375.50 308.44A72.00 72.00 0 0 0 372.53 309.25Z" fill="#e49829" />
<path d="M374.97 306.61A73.90 73.90 0 0 1 380.00 305.52L380.34 307.39A72.00 72.00 0 0 0 375.44 308.45Z" fill="#dccb26" />
<path d="M379.94 305.53A73.90 73.90 0 0 1 386.36 304.66L386.54 306.55A72.00 72.00 0 0 0 380.28 307.40Z" fill="#bad12d" />
<path d="M386.30 304.66A73.90 73.90 0 0 1 388.45 304.50L388.57 306.39A72.00 72.00 0 0 0 386.47 306.56Z" fill="#97cd31" />
<path d="M388.39 304.50A73.90 73.90 0 0 1 388.55 304.49L388.67 306.39A72.00 72.00 0 0 0 388.51 306.40Z" fill="#53be37" />
<path d="M388.49 304.49A73.90 73.90 0 0 1 389.31 304.45L389.41 306.34A72.00 72.00 0 0 0 388.61 306.39Z" fill="#64c53f" />
<path d="M389.25 304.45A73.90 73.90 0 0 1 390.08 304.41L390.16 306.31A72.00 72.00 0 0 0 389.35 306.35Z" fill="#51c75f" />
<path d="M390.01 304.41A73.90 73.90 0 0 1 390.78 304.39L390.84 306.29A72.00 72.00 0 0 0 390.09 306.31Z" fill="#4aca86" />
<path d="M370.84 303.60A77.90 77.90 0 0 1 371.68 303.35L372.29 305.47A75.70 75.70 0 0 0 371.47 305.70Z" fill="#3fae74" />
<path d="M371.62 303.37A77.90 77.90 0 0 1 372.46 303.13L373.04 305.26A75.70 75.70 0 0 0 372.23 305.49Z" fill="#46ac52" />
<path d="M372.39 303.15A77.90 77.90 0 0 1 373.24 302.92L373.80 305.05A75.70 75.70 0 0 0 372.98 305.27Z" fill="#56aa36" />
<path d="M373.17 302.94A77.90 77.90 0 0 1 373.34 302.90L373.90 305.03A75.70 75.70 0 0 0 373.74 305.07Z" fill="#48a42f" />
<path d="M373.27 302.91A77.90 77.90 0 0 1 375.48 302.37L375.98 304.51A75.70 75.70 0 0 0 373.83 305.04Z" fill="#82b12a" />
<path d="M375.42 302.38A77.90 77.90 0 0 1 382.13 301.13L382.44 303.30A75.70 75.70 0 0 0 375.92 304.53Z" fill="#a0b427" />
<path d="M382.07 301.14A77.90 77.90 0 0 1 387.47 300.55L387.62 302.75A75.70 75.70 0 0 0 382.38 303.31Z" fill="#beaf20" />
<path d="M387.40 300.56A77.90 77.90 0 0 1 390.65 300.39L390.72 302.59A75.70 75.70 0 0 0 387.56 302.75Z" fill="#c48324" />
<path d="M370.84 303.60A77.90 77.90 0 0 1 390.65 300.39" fill="none" stroke="#101010" stroke-width="0.95"/>
<text transform="translate(371.27 302.12) rotate(434.0)" font-size="3.1" text-anchor="end" fill="#5c5c5c" dy="0.9">0%</text>
<text transform="translate(389.78 299.12) rotate(447.6)" font-size="3.1" text-anchor="end" fill="#5c5c5c" dy="0.9">100%</text>
<text transform="translate(380.44 300.07) rotate(440.8)" font-size="3.1" text-anchor="end" fill="#5c5c5c" dy="0.9">50%</text>
<text transform="translate(412.70 231.90) rotate(88.8)" font-size="6.85" font-weight="normal" text-anchor="start" fill="#0a0a0a" stroke="#0a0a0a" stroke-width="0.12" dy="2.40">Stenotrophomonas</text>
<text transform="translate(369.00 257.20) rotate(72.2)" font-size="6.9" font-weight="normal" text-anchor="start" fill="#0a0a0a" stroke="#0a0a0a" stroke-width="0.12" dy="2.42">Acidovorax</text>
<text transform="translate(350.10 274.90) rotate(66.0)" font-size="6.8" font-weight="normal" text-anchor="start" fill="#0a0a0a" stroke="#0a0a0a" stroke-width="0.12" dy="2.38">Bacillus</text>
<text transform="translate(456.40 317.10) rotate(-47.9)" font-size="6.9" font-weight="normal" text-anchor="start" fill="#0a0a0a" stroke="#0a0a0a" stroke-width="0.12" dy="2.42">Sphingomonas</text>
<text transform="translate(478.30 358.70) rotate(-18.4)" font-size="7.0" font-weight="normal" text-anchor="start" fill="#0a0a0a" stroke="#0a0a0a" stroke-width="0.12" dy="2.45">Pseudomonas</text>
<text transform="translate(481.00 381.20) rotate(-6.2)" font-size="7.0" font-weight="normal" text-anchor="start" fill="#0a0a0a" stroke="#0a0a0a" stroke-width="0.12" dy="2.45">Pantoea</text>
<text transform="translate(475.40 404.40) rotate(4.3)" font-size="7.1" font-weight="normal" text-anchor="start" fill="#0a0a0a" stroke="#0a0a0a" stroke-width="0.12" dy="2.48">Microbacterium</text>
<text transform="translate(466.00 427.90) rotate(30.8)" font-size="6.9" font-weight="normal" text-anchor="start" fill="#0a0a0a" stroke="#0a0a0a" stroke-width="0.12" dy="2.42">Exiguobacterium</text>
<text transform="translate(454.70 443.50) rotate(38.3)" font-size="7.0" font-weight="normal" text-anchor="start" fill="#0a0a0a" stroke="#0a0a0a" stroke-width="0.12" dy="2.45">Curtobacterium</text>
<text transform="translate(440.00 453.40) rotate(50.3)" font-size="7.1" font-weight="normal" text-anchor="start" fill="#0a0a0a" stroke="#0a0a0a" stroke-width="0.12" dy="2.48">Chryseobacterium</text>
<text transform="translate(337.30 305.30) rotate(-35.0)" font-size="7.1" font-weight="bold" text-anchor="middle" fill="#0a0a0a" stroke="#0a0a0a" stroke-width="0.12" dy="2.48">CH2</text>
<text transform="translate(312.60 333.80) rotate(-60.0)" font-size="7.1" font-weight="bold" text-anchor="middle" fill="#0a0a0a" stroke="#0a0a0a" stroke-width="0.12" dy="2.48">CH3</text>
<text transform="translate(299.70 374.10) rotate(-85.0)" font-size="7.1" font-weight="bold" text-anchor="middle" fill="#0a0a0a" stroke="#0a0a0a" stroke-width="0.12" dy="2.48">CH4</text>
<text transform="translate(308.80 412.00) rotate(65.0)" font-size="7.1" font-weight="bold" text-anchor="middle" fill="#0a0a0a" stroke="#0a0a0a" stroke-width="0.12" dy="2.48">CH5</text>
<text transform="translate(321.80 434.50) rotate(50.0)" font-size="7.1" font-weight="bold" text-anchor="middle" fill="#0a0a0a" stroke="#0a0a0a" stroke-width="0.12" dy="2.48">CH6</text>
<text transform="translate(341.10 451.80) rotate(30.0)" font-size="7.1" font-weight="bold" text-anchor="middle" fill="#0a0a0a" stroke="#0a0a0a" stroke-width="0.12" dy="2.48">CH7</text>
<text transform="translate(370.50 464.80) rotate(6.0)" font-size="6.8" font-weight="bold" text-anchor="middle" fill="#0a0a0a" stroke="#0a0a0a" stroke-width="0.12" dy="2.38">NC</text>
<text transform="translate(412.40 465.60) rotate(-5.0)" font-size="6.8" font-weight="bold" text-anchor="middle" fill="#0a0a0a" stroke="#0a0a0a" stroke-width="0.12" dy="2.38">NE</text>
</g>
</svg></body></html>
